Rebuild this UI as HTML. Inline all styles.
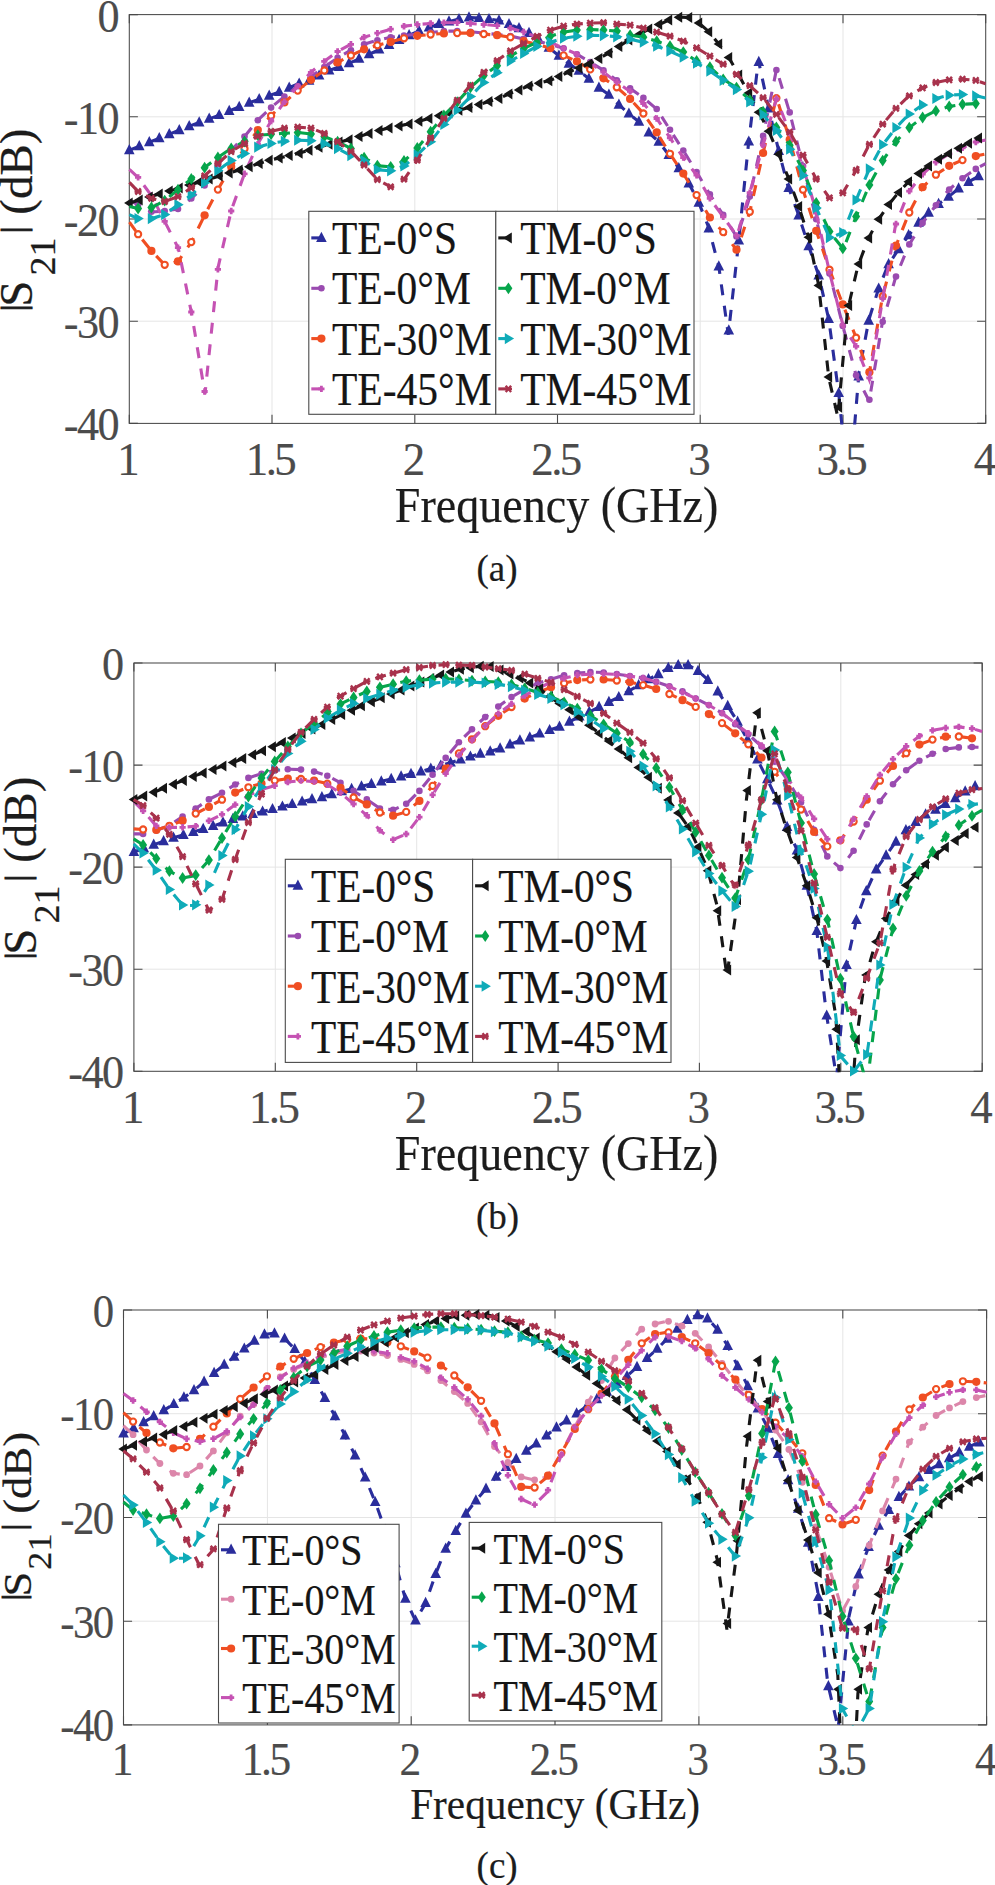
<!DOCTYPE html>
<html><head><meta charset="utf-8"><title>S21 plots</title>
<style>html,body{margin:0;padding:0;background:#fff}svg{display:block}text{font-family:"Liberation Serif",serif}</style></head><body>
<svg width="995" height="1885" viewBox="0 0 995 1885">
<rect width="995" height="1885" fill="#fff"/>
<g id="plot-a">
<defs><clipPath id="clipa"><rect x="128.1" y="13.6" width="858.8" height="410.8"/></clipPath></defs>
<path d="M272 14.6V423.4M414.8 14.6V423.4M557.5 14.6V423.4M700.2 14.6V423.4M843 14.6V423.4M129.3 116.8H985.7M129.3 219H985.7M129.3 321.2H985.7" stroke="#e5e5e5" stroke-width="1" fill="none"/>
<path d="M129.3 423.4v-8.6M129.3 14.6v8.6M272 423.4v-8.6M272 14.6v8.6M414.8 423.4v-8.6M414.8 14.6v8.6M557.5 423.4v-8.6M557.5 14.6v8.6M700.2 423.4v-8.6M700.2 14.6v8.6M843 423.4v-8.6M843 14.6v8.6M985.7 423.4v-8.6M985.7 14.6v8.6M129.3 14.6h8.6M985.7 14.6h-8.6M129.3 116.8h8.6M985.7 116.8h-8.6M129.3 219h8.6M985.7 219h-8.6M129.3 321.2h8.6M985.7 321.2h-8.6M129.3 423.4h8.6M985.7 423.4h-8.6" stroke="#4a4a4a" stroke-width="1.1" fill="none"/>
<rect x="129.3" y="14.6" width="856.4" height="408.8" fill="none" stroke="#4a4a4a" stroke-width="1.05"/>
<path clip-path="url(#clipa)" d="M129.4 150.3L158.3 138.6L188.4 126.5L218 115.6L248.7 103L278.3 92.4L297.9 84L310 80.4L328.9 70.5L349.2 63.3L369.3 54.2L388.4 45.2L404.5 37.2L418.6 31.1L438.7 24.1L458.8 19.1L468.8 17.5L478.9 18.1L488.9 19.1L499 20.5L509 24.1L519 28.3L529.2 33.1L539.2 40.2L548.3 47.2L558.3 55.3L568.4 63.3L578.4 70.3L588.5 78.4L598.5 87.4L608.6 94.4L618.6 104.5L628.7 113.5L638.7 121.6L648.8 132.6L658.8 141.7L667.9 153.7L677.9 166.8L688 181.9L698.1 201L708.2 226.2L718.8 266.4L728.3 334.7L738.3 245.3L748.4 144.7L758.4 60.3L768.5 107.5L778.5 150L787.6 184.9L797.6 212.1L807.7 243.2L818.7 275.4L828.8 319.6L838.8 394L848.8 495L859 372.5L868.8 320L878.4 289.2L888 265.2L897.8 250.4L908.5 235.5L918.3 223L928.6 212.7L938.9 203.6L948.7 196.7L958.3 188.7L968.5 181.9L978.8 176.2" fill="none" stroke="#2a2d9c" stroke-width="3.1" stroke-dasharray="11 10.6"/>
<path d="M124 154.3L134.6 154.3L129.3 144.1Z" fill="#2a2d9c"/>
<path d="M134 150.3L144.6 150.3L139.3 140.1Z" fill="#2a2d9c"/>
<path d="M144 146.3L154.6 146.3L149.3 136.1Z" fill="#2a2d9c"/>
<path d="M154 142.2L164.6 142.2L159.3 132Z" fill="#2a2d9c"/>
<path d="M164 138.2L174.6 138.2L169.3 128Z" fill="#2a2d9c"/>
<path d="M174 134.2L184.6 134.2L179.3 124Z" fill="#2a2d9c"/>
<path d="M183.9 130.2L194.5 130.2L189.2 120Z" fill="#2a2d9c"/>
<path d="M193.9 126.5L204.5 126.5L199.2 116.3Z" fill="#2a2d9c"/>
<path d="M203.9 122.8L214.5 122.8L209.2 112.6Z" fill="#2a2d9c"/>
<path d="M213.9 119.1L224.5 119.1L219.2 108.9Z" fill="#2a2d9c"/>
<path d="M223.9 115L234.5 115L229.2 104.8Z" fill="#2a2d9c"/>
<path d="M233.9 110.9L244.5 110.9L239.2 100.7Z" fill="#2a2d9c"/>
<path d="M243.9 106.8L254.5 106.8L249.2 96.6Z" fill="#2a2d9c"/>
<path d="M253.9 103.2L264.5 103.2L259.2 93Z" fill="#2a2d9c"/>
<path d="M263.9 99.7L274.5 99.7L269.2 89.5Z" fill="#2a2d9c"/>
<path d="M273.9 96L284.5 96L279.2 85.8Z" fill="#2a2d9c"/>
<path d="M283.9 91.7L294.5 91.7L289.2 81.5Z" fill="#2a2d9c"/>
<path d="M293.9 87.6L304.5 87.6L299.2 77.4Z" fill="#2a2d9c"/>
<path d="M303.8 84.7L314.4 84.7L309.1 74.5Z" fill="#2a2d9c"/>
<path d="M313.8 79.6L324.4 79.6L319.1 69.4Z" fill="#2a2d9c"/>
<path d="M323.8 74.4L334.4 74.4L329.1 64.2Z" fill="#2a2d9c"/>
<path d="M333.8 70.9L344.4 70.9L339.1 60.7Z" fill="#2a2d9c"/>
<path d="M343.8 67.3L354.4 67.3L349.1 57.1Z" fill="#2a2d9c"/>
<path d="M353.8 62.8L364.4 62.8L359.1 52.6Z" fill="#2a2d9c"/>
<path d="M363.8 58.3L374.4 58.3L369.1 48.1Z" fill="#2a2d9c"/>
<path d="M373.8 53.6L384.4 53.6L379.1 43.4Z" fill="#2a2d9c"/>
<path d="M383.8 48.9L394.4 48.9L389.1 38.7Z" fill="#2a2d9c"/>
<path d="M393.8 43.9L404.4 43.9L399.1 33.7Z" fill="#2a2d9c"/>
<path d="M403.8 39.2L414.4 39.2L409.1 29Z" fill="#2a2d9c"/>
<path d="M413.7 34.9L424.3 34.9L419 24.7Z" fill="#2a2d9c"/>
<path d="M423.7 31.5L434.3 31.5L429 21.3Z" fill="#2a2d9c"/>
<path d="M433.7 28L444.3 28L439 17.8Z" fill="#2a2d9c"/>
<path d="M443.7 25.5L454.3 25.5L449 15.3Z" fill="#2a2d9c"/>
<path d="M453.7 23.1L464.3 23.1L459 12.9Z" fill="#2a2d9c"/>
<path d="M463.7 21.5L474.3 21.5L469 11.3Z" fill="#2a2d9c"/>
<path d="M473.7 22.1L484.3 22.1L479 11.9Z" fill="#2a2d9c"/>
<path d="M483.7 23.1L494.3 23.1L489 12.9Z" fill="#2a2d9c"/>
<path d="M493.7 24.5L504.3 24.5L499 14.3Z" fill="#2a2d9c"/>
<path d="M503.7 28.1L514.3 28.1L509 17.9Z" fill="#2a2d9c"/>
<path d="M513.7 32.3L524.3 32.3L519 22.1Z" fill="#2a2d9c"/>
<path d="M523.7 37L534.3 37L529 26.8Z" fill="#2a2d9c"/>
<path d="M533.6 44L544.2 44L538.9 33.8Z" fill="#2a2d9c"/>
<path d="M543.6 51.7L554.2 51.7L548.9 41.5Z" fill="#2a2d9c"/>
<path d="M553.6 59.8L564.2 59.8L558.9 49.6Z" fill="#2a2d9c"/>
<path d="M563.6 67.7L574.2 67.7L568.9 57.5Z" fill="#2a2d9c"/>
<path d="M573.6 74.7L584.2 74.7L578.9 64.5Z" fill="#2a2d9c"/>
<path d="M583.6 82.8L594.2 82.8L588.9 72.6Z" fill="#2a2d9c"/>
<path d="M593.6 91.7L604.2 91.7L598.9 81.5Z" fill="#2a2d9c"/>
<path d="M603.6 98.7L614.2 98.7L608.9 88.5Z" fill="#2a2d9c"/>
<path d="M613.6 108.7L624.2 108.7L618.9 98.5Z" fill="#2a2d9c"/>
<path d="M623.6 117.6L634.2 117.6L628.9 107.4Z" fill="#2a2d9c"/>
<path d="M633.6 125.8L644.2 125.8L638.9 115.6Z" fill="#2a2d9c"/>
<path d="M643.5 136.6L654.1 136.6L648.8 126.4Z" fill="#2a2d9c"/>
<path d="M653.5 145.8L664.1 145.8L658.8 135.6Z" fill="#2a2d9c"/>
<path d="M663.5 158.9L674.1 158.9L668.8 148.7Z" fill="#2a2d9c"/>
<path d="M673.5 172.2L684.1 172.2L678.8 162Z" fill="#2a2d9c"/>
<path d="M683.5 187.4L694.1 187.4L688.8 177.2Z" fill="#2a2d9c"/>
<path d="M693.5 206.8L704.1 206.8L698.8 196.6Z" fill="#2a2d9c"/>
<path d="M703.5 232.5L714.1 232.5L708.8 222.3Z" fill="#2a2d9c"/>
<path d="M713.5 270.4L724.1 270.4L718.8 260.2Z" fill="#2a2d9c"/>
<path d="M723.5 334.4L734.1 334.4L728.8 324.2Z" fill="#2a2d9c"/>
<path d="M733.5 244.6L744.1 244.6L738.8 234.4Z" fill="#2a2d9c"/>
<path d="M743.5 145.6L754.1 145.6L748.8 135.4Z" fill="#2a2d9c"/>
<path d="M753.5 66L764.1 66L758.8 55.8Z" fill="#2a2d9c"/>
<path d="M763.4 112.5L774 112.5L768.7 102.3Z" fill="#2a2d9c"/>
<path d="M773.4 154.9L784 154.9L778.7 144.7Z" fill="#2a2d9c"/>
<path d="M783.4 192L794 192L788.7 181.8Z" fill="#2a2d9c"/>
<path d="M793.4 219.5L804 219.5L798.7 209.3Z" fill="#2a2d9c"/>
<path d="M803.4 250.2L814 250.2L808.7 240Z" fill="#2a2d9c"/>
<path d="M813.4 279.4L824 279.4L818.7 269.2Z" fill="#2a2d9c"/>
<path d="M823.4 323.1L834 323.1L828.7 312.9Z" fill="#2a2d9c"/>
<path d="M833.4 397.1L844 397.1L838.7 386.9Z" fill="#2a2d9c"/>
<path d="M853.4 380.5L864 380.5L858.7 370.3Z" fill="#2a2d9c"/>
<path d="M863.4 324.8L874 324.8L868.7 314.6Z" fill="#2a2d9c"/>
<path d="M873.4 292.6L884 292.6L878.7 282.4Z" fill="#2a2d9c"/>
<path d="M883.3 268.2L893.9 268.2L888.6 258Z" fill="#2a2d9c"/>
<path d="M893.3 253.2L903.9 253.2L898.6 243Z" fill="#2a2d9c"/>
<path d="M903.3 239.3L913.9 239.3L908.6 229.1Z" fill="#2a2d9c"/>
<path d="M913.3 226.7L923.9 226.7L918.6 216.5Z" fill="#2a2d9c"/>
<path d="M923.3 216.7L933.9 216.7L928.6 206.5Z" fill="#2a2d9c"/>
<path d="M933.3 207.9L943.9 207.9L938.6 197.7Z" fill="#2a2d9c"/>
<path d="M943.3 200.8L953.9 200.8L948.6 190.6Z" fill="#2a2d9c"/>
<path d="M953.3 192.5L963.9 192.5L958.6 182.3Z" fill="#2a2d9c"/>
<path d="M963.3 185.9L973.9 185.9L968.6 175.7Z" fill="#2a2d9c"/>
<path d="M973.3 180.3L983.9 180.3L978.6 170.1Z" fill="#2a2d9c"/>
<path clip-path="url(#clipa)" d="M129.4 200L138 205L151.7 212L164.8 211L178.3 209L191.9 198L205 185L218.1 164L231.5 150L245 136L258 120L271.7 107L285 96L298 86L312 76L325 66.5L338.2 57.5L351 50.2L364 44.2L377.8 40.2L391 37.2L404.5 35.5L417.6 34.2L430.7 32.5L443.7 31.1L457.8 31.1L470.5 31.7L483.9 33.1L497.6 34.5L510 36L524 39L537 41L550.3 44.5L563.4 48.2L576.8 54.2L590 62L603.6 70.3L617 80.4L630.1 88.4L643.4 97.9L656.8 109.1L669.9 129.6L683.4 150.7L697.1 172.8L710.2 195L723.3 215.1L736.9 237.2L749.4 198L762.9 136.7L776.5 69.3L790 113.5L802.7 165L816.7 221.1L829.8 274.4L843.3 327.7L856.3 375.9L869.2 401.1L882.2 323.5L895.5 277.8L908.5 245.8L921.7 224.1L935.4 205.9L948.7 189.9L962.1 178.5L975.8 168.9L985.6 163.6" fill="none" stroke="#9a4bb0" stroke-width="3.1" stroke-dasharray="11 10.6"/>
<circle cx="138.1" cy="205.1" r="3.3" fill="#9a4bb0"/>
<circle cx="151.4" cy="211.8" r="3.3" fill="#9a4bb0"/>
<circle cx="164.7" cy="211" r="3.3" fill="#9a4bb0"/>
<circle cx="178" cy="209" r="3.3" fill="#9a4bb0"/>
<circle cx="191.3" cy="198.5" r="3.3" fill="#9a4bb0"/>
<circle cx="204.6" cy="185.4" r="3.3" fill="#9a4bb0"/>
<circle cx="217.9" cy="164.3" r="3.3" fill="#9a4bb0"/>
<circle cx="231.2" cy="150.3" r="3.3" fill="#9a4bb0"/>
<circle cx="244.5" cy="136.5" r="3.3" fill="#9a4bb0"/>
<circle cx="257.8" cy="120.3" r="3.3" fill="#9a4bb0"/>
<circle cx="271.1" cy="107.6" r="3.3" fill="#9a4bb0"/>
<circle cx="284.4" cy="96.5" r="3.3" fill="#9a4bb0"/>
<circle cx="297.7" cy="86.3" r="3.3" fill="#9a4bb0"/>
<circle cx="311" cy="76.7" r="3.3" fill="#9a4bb0"/>
<circle cx="324.3" cy="67" r="3.3" fill="#9a4bb0"/>
<circle cx="337.6" cy="57.9" r="3.3" fill="#9a4bb0"/>
<circle cx="350.9" cy="50.3" r="3.3" fill="#9a4bb0"/>
<circle cx="364.1" cy="44.2" r="3.3" fill="#9a4bb0"/>
<circle cx="377.4" cy="40.3" r="3.3" fill="#9a4bb0"/>
<circle cx="390.7" cy="37.3" r="3.3" fill="#9a4bb0"/>
<circle cx="404" cy="35.6" r="3.3" fill="#9a4bb0"/>
<circle cx="417.3" cy="34.2" r="3.3" fill="#9a4bb0"/>
<circle cx="430.6" cy="32.5" r="3.3" fill="#9a4bb0"/>
<circle cx="443.9" cy="31.1" r="3.3" fill="#9a4bb0"/>
<circle cx="457.2" cy="31.1" r="3.3" fill="#9a4bb0"/>
<circle cx="470.5" cy="31.7" r="3.3" fill="#9a4bb0"/>
<circle cx="483.8" cy="33.1" r="3.3" fill="#9a4bb0"/>
<circle cx="497.1" cy="34.5" r="3.3" fill="#9a4bb0"/>
<circle cx="510.4" cy="36.1" r="3.3" fill="#9a4bb0"/>
<circle cx="523.7" cy="38.9" r="3.3" fill="#9a4bb0"/>
<circle cx="537" cy="41" r="3.3" fill="#9a4bb0"/>
<circle cx="550.3" cy="44.5" r="3.3" fill="#9a4bb0"/>
<circle cx="563.6" cy="48.3" r="3.3" fill="#9a4bb0"/>
<circle cx="576.9" cy="54.3" r="3.3" fill="#9a4bb0"/>
<circle cx="590.2" cy="62.1" r="3.3" fill="#9a4bb0"/>
<circle cx="603.5" cy="70.2" r="3.3" fill="#9a4bb0"/>
<circle cx="616.8" cy="80.2" r="3.3" fill="#9a4bb0"/>
<circle cx="630.1" cy="88.4" r="3.3" fill="#9a4bb0"/>
<circle cx="643.4" cy="97.9" r="3.3" fill="#9a4bb0"/>
<circle cx="656.7" cy="109" r="3.3" fill="#9a4bb0"/>
<circle cx="670" cy="129.7" r="3.3" fill="#9a4bb0"/>
<circle cx="683.3" cy="150.5" r="3.3" fill="#9a4bb0"/>
<circle cx="696.6" cy="172" r="3.3" fill="#9a4bb0"/>
<circle cx="709.9" cy="194.4" r="3.3" fill="#9a4bb0"/>
<circle cx="723.2" cy="214.9" r="3.3" fill="#9a4bb0"/>
<circle cx="736.5" cy="236.5" r="3.3" fill="#9a4bb0"/>
<circle cx="749.8" cy="196.4" r="3.3" fill="#9a4bb0"/>
<circle cx="763.1" cy="135.9" r="3.3" fill="#9a4bb0"/>
<circle cx="776.4" cy="70" r="3.3" fill="#9a4bb0"/>
<circle cx="789.7" cy="112.4" r="3.3" fill="#9a4bb0"/>
<circle cx="803" cy="166" r="3.3" fill="#9a4bb0"/>
<circle cx="816.2" cy="219.3" r="3.3" fill="#9a4bb0"/>
<circle cx="829.5" cy="273.4" r="3.3" fill="#9a4bb0"/>
<circle cx="842.8" cy="325.9" r="3.3" fill="#9a4bb0"/>
<circle cx="856.1" cy="375.3" r="3.3" fill="#9a4bb0"/>
<circle cx="869.4" cy="399.7" r="3.3" fill="#9a4bb0"/>
<circle cx="882.7" cy="321.7" r="3.3" fill="#9a4bb0"/>
<circle cx="896" cy="276.5" r="3.3" fill="#9a4bb0"/>
<circle cx="909.3" cy="244.4" r="3.3" fill="#9a4bb0"/>
<circle cx="922.6" cy="222.9" r="3.3" fill="#9a4bb0"/>
<circle cx="935.9" cy="205.3" r="3.3" fill="#9a4bb0"/>
<circle cx="949.2" cy="189.5" r="3.3" fill="#9a4bb0"/>
<circle cx="962.5" cy="178.2" r="3.3" fill="#9a4bb0"/>
<circle cx="975.8" cy="168.9" r="3.3" fill="#9a4bb0"/>
<path clip-path="url(#clipa)" d="M129.4 222.1L138.1 234.2L151.7 251.3L164.8 264.9L178.3 261.3L191.9 241.2L205 214.5L218.5 188.4L231.5 166.3L245.6 147.2L257.7 130.2L271.7 115.1L284.8 102L299 89.4L311.5 79.4L324.5 70.3L337.8 62.3L351.3 55.3L364.3 49.2L377.8 45.2L391 41.8L404.5 38.2L417.6 35.8L430.7 34.5L443.7 33.5L457.8 33.1L470.5 33.1L483.9 34.1L497.6 35.2L510.1 37.2L524.2 41.2L537.2 44.5L550.3 48.2L563.4 55.3L576.8 61.3L590.1 69.3L603.6 78.4L617 87.4L630.1 98.9L643.4 113.5L656.8 132.6L669.9 153.7L683.4 173.8L697.1 196L710.2 218.1L723.3 232.2L736.9 250.3L750 211.1L762.9 153.7L776.5 97.5L790 140.7L802.7 188.9L816.7 232.2L829.8 270.4L843.3 305.6L856.3 338.1L869.2 373.6L882.2 298.3L895.5 246.9L909.2 212.7L922.2 187.6L935.4 175L949.1 165.9L962.1 160.2L975.8 156.1L985.6 154" fill="none" stroke="#f04e22" stroke-width="3.1" stroke-dasharray="11 10.6"/>
<circle cx="138.1" cy="234.2" r="3.1" fill="#fff" stroke="#f04e22" stroke-width="2.1"/>
<circle cx="151.4" cy="250.9" r="4.1" fill="#f04e22"/>
<circle cx="164.7" cy="264.8" r="3.1" fill="#fff" stroke="#f04e22" stroke-width="2.1"/>
<circle cx="178" cy="261.4" r="4.1" fill="#f04e22"/>
<circle cx="191.3" cy="242.1" r="3.1" fill="#fff" stroke="#f04e22" stroke-width="2.1"/>
<circle cx="204.6" cy="215.3" r="4.1" fill="#f04e22"/>
<circle cx="217.9" cy="189.6" r="3.1" fill="#fff" stroke="#f04e22" stroke-width="2.1"/>
<circle cx="231.2" cy="166.8" r="4.1" fill="#f04e22"/>
<circle cx="244.5" cy="148.7" r="3.1" fill="#fff" stroke="#f04e22" stroke-width="2.1"/>
<circle cx="257.8" cy="130.1" r="4.1" fill="#f04e22"/>
<circle cx="271.1" cy="115.8" r="3.1" fill="#fff" stroke="#f04e22" stroke-width="2.1"/>
<circle cx="284.4" cy="102.4" r="4.1" fill="#f04e22"/>
<circle cx="297.7" cy="90.6" r="3.1" fill="#fff" stroke="#f04e22" stroke-width="2.1"/>
<circle cx="311" cy="79.8" r="4.1" fill="#f04e22"/>
<circle cx="324.3" cy="70.5" r="3.1" fill="#fff" stroke="#f04e22" stroke-width="2.1"/>
<circle cx="337.6" cy="62.4" r="4.1" fill="#f04e22"/>
<circle cx="350.9" cy="55.5" r="3.1" fill="#fff" stroke="#f04e22" stroke-width="2.1"/>
<circle cx="364.1" cy="49.3" r="4.1" fill="#f04e22"/>
<circle cx="377.4" cy="45.3" r="3.1" fill="#fff" stroke="#f04e22" stroke-width="2.1"/>
<circle cx="390.7" cy="41.9" r="4.1" fill="#f04e22"/>
<circle cx="404" cy="38.3" r="3.1" fill="#fff" stroke="#f04e22" stroke-width="2.1"/>
<circle cx="417.3" cy="35.8" r="4.1" fill="#f04e22"/>
<circle cx="430.6" cy="34.5" r="3.1" fill="#fff" stroke="#f04e22" stroke-width="2.1"/>
<circle cx="443.9" cy="33.5" r="4.1" fill="#f04e22"/>
<circle cx="457.2" cy="33.1" r="3.1" fill="#fff" stroke="#f04e22" stroke-width="2.1"/>
<circle cx="470.5" cy="33.1" r="4.1" fill="#f04e22"/>
<circle cx="483.8" cy="34.1" r="3.1" fill="#fff" stroke="#f04e22" stroke-width="2.1"/>
<circle cx="497.1" cy="35.2" r="4.1" fill="#f04e22"/>
<circle cx="510.4" cy="37.3" r="3.1" fill="#fff" stroke="#f04e22" stroke-width="2.1"/>
<circle cx="523.7" cy="41.1" r="4.1" fill="#f04e22"/>
<circle cx="537" cy="44.5" r="3.1" fill="#fff" stroke="#f04e22" stroke-width="2.1"/>
<circle cx="550.3" cy="48.2" r="4.1" fill="#f04e22"/>
<circle cx="563.6" cy="55.4" r="3.1" fill="#fff" stroke="#f04e22" stroke-width="2.1"/>
<circle cx="576.9" cy="61.4" r="4.1" fill="#f04e22"/>
<circle cx="590.2" cy="69.4" r="3.1" fill="#fff" stroke="#f04e22" stroke-width="2.1"/>
<circle cx="603.5" cy="78.3" r="4.1" fill="#f04e22"/>
<circle cx="616.8" cy="87.3" r="3.1" fill="#fff" stroke="#f04e22" stroke-width="2.1"/>
<circle cx="630.1" cy="98.9" r="4.1" fill="#f04e22"/>
<circle cx="643.4" cy="113.5" r="3.1" fill="#fff" stroke="#f04e22" stroke-width="2.1"/>
<circle cx="656.7" cy="132.4" r="4.1" fill="#f04e22"/>
<circle cx="670" cy="153.8" r="3.1" fill="#fff" stroke="#f04e22" stroke-width="2.1"/>
<circle cx="683.3" cy="173.6" r="4.1" fill="#f04e22"/>
<circle cx="696.6" cy="195.1" r="3.1" fill="#fff" stroke="#f04e22" stroke-width="2.1"/>
<circle cx="709.9" cy="217.5" r="4.1" fill="#f04e22"/>
<circle cx="723.2" cy="232.1" r="3.1" fill="#fff" stroke="#f04e22" stroke-width="2.1"/>
<circle cx="736.5" cy="249.7" r="4.1" fill="#f04e22"/>
<circle cx="749.8" cy="211.8" r="3.1" fill="#fff" stroke="#f04e22" stroke-width="2.1"/>
<circle cx="763.1" cy="153" r="4.1" fill="#f04e22"/>
<circle cx="776.4" cy="98.1" r="3.1" fill="#fff" stroke="#f04e22" stroke-width="2.1"/>
<circle cx="789.7" cy="139.6" r="4.1" fill="#f04e22"/>
<circle cx="803" cy="189.7" r="3.1" fill="#fff" stroke="#f04e22" stroke-width="2.1"/>
<circle cx="816.2" cy="230.8" r="4.1" fill="#f04e22"/>
<circle cx="829.5" cy="269.7" r="3.1" fill="#fff" stroke="#f04e22" stroke-width="2.1"/>
<circle cx="842.8" cy="304.4" r="4.1" fill="#f04e22"/>
<circle cx="856.1" cy="337.7" r="3.1" fill="#fff" stroke="#f04e22" stroke-width="2.1"/>
<circle cx="869.4" cy="372.2" r="4.1" fill="#f04e22"/>
<circle cx="882.7" cy="296.2" r="3.1" fill="#fff" stroke="#f04e22" stroke-width="2.1"/>
<circle cx="896" cy="245.6" r="4.1" fill="#f04e22"/>
<circle cx="909.3" cy="212.5" r="3.1" fill="#fff" stroke="#f04e22" stroke-width="2.1"/>
<circle cx="922.6" cy="187.2" r="4.1" fill="#f04e22"/>
<circle cx="935.9" cy="174.7" r="3.1" fill="#fff" stroke="#f04e22" stroke-width="2.1"/>
<circle cx="949.2" cy="165.8" r="4.1" fill="#f04e22"/>
<circle cx="962.5" cy="160.1" r="3.1" fill="#fff" stroke="#f04e22" stroke-width="2.1"/>
<circle cx="975.8" cy="156.1" r="4.1" fill="#f04e22"/>
<path clip-path="url(#clipa)" d="M129.4 169.3L138.1 177.4L151.7 196L165 222L178.3 248.2L191.9 315L205 394L218.1 267.3L231.5 209.6L245 172.4L258.3 143L271.7 120L285 101L298 86L311.4 71.9L325 60.8L338 51.2L351 44.2L364 37.2L377.8 33.1L391 29.1L404.5 26.1L417.6 24.5L430.7 23.5L443.7 22.7L457.8 22.7L470.5 23.5L483.9 24.5L497.6 25.7L510 28L524 32L537.2 37.2L550.3 42.2L563.4 48.2L576.8 54.2L590 63L603.6 72.3L617 82.4L630.1 91.4L643.4 103.5L656.8 118.6L669.9 137.7L683.4 157.8L697.1 175.9L710.2 199L723.3 217L736.9 236L749.4 194L762.9 145.7L776.5 98.5L790 133.6L802.7 165.8L814.7 206L829.8 273.4L843.3 326.7L856 346L869.2 379.3L882.2 301.7L895.5 225.3L908.5 192.2L921.7 175L935.4 162.5L949 154L962 148L975.8 142L985.6 140" fill="none" stroke="#c552b3" stroke-width="3.1" stroke-dasharray="11 10.6"/>
<path d="M135 177.4H141.2M138.1 174.2V180.6" stroke="#c552b3" stroke-width="2.8" fill="none"/>
<path d="M148.3 195.6H154.5M151.4 192.4V198.8" stroke="#c552b3" stroke-width="2.8" fill="none"/>
<path d="M161.6 221.4H167.8M164.7 218.2V224.6" stroke="#c552b3" stroke-width="2.8" fill="none"/>
<path d="M174.9 247.6H181.1M178 244.4V250.8" stroke="#c552b3" stroke-width="2.8" fill="none"/>
<path d="M188.2 312H194.4M191.3 308.8V315.2" stroke="#c552b3" stroke-width="2.8" fill="none"/>
<path d="M201.5 391.5H207.7M204.6 388.3V394.7" stroke="#c552b3" stroke-width="2.8" fill="none"/>
<path d="M214.8 269.4H221M217.9 266.2V272.6" stroke="#c552b3" stroke-width="2.8" fill="none"/>
<path d="M228.1 211H234.3M231.2 207.8V214.2" stroke="#c552b3" stroke-width="2.8" fill="none"/>
<path d="M241.4 173.8H247.6M244.5 170.6V177" stroke="#c552b3" stroke-width="2.8" fill="none"/>
<path d="M254.7 144.2H260.9M257.8 141V147.4" stroke="#c552b3" stroke-width="2.8" fill="none"/>
<path d="M268 121.1H274.2M271.1 117.9V124.3" stroke="#c552b3" stroke-width="2.8" fill="none"/>
<path d="M281.3 101.9H287.5M284.4 98.7V105.1" stroke="#c552b3" stroke-width="2.8" fill="none"/>
<path d="M294.6 86.4H300.8M297.7 83.2V89.6" stroke="#c552b3" stroke-width="2.8" fill="none"/>
<path d="M307.9 72.4H314.1M311 69.2V75.6" stroke="#c552b3" stroke-width="2.8" fill="none"/>
<path d="M321.2 61.4H327.4M324.3 58.2V64.6" stroke="#c552b3" stroke-width="2.8" fill="none"/>
<path d="M334.5 51.5H340.7M337.6 48.3V54.7" stroke="#c552b3" stroke-width="2.8" fill="none"/>
<path d="M347.8 44.3H354M350.9 41.1V47.5" stroke="#c552b3" stroke-width="2.8" fill="none"/>
<path d="M361 37.2H367.2M364.1 34V40.4" stroke="#c552b3" stroke-width="2.8" fill="none"/>
<path d="M374.3 33.2H380.5M377.4 30V36.4" stroke="#c552b3" stroke-width="2.8" fill="none"/>
<path d="M387.6 29.2H393.8M390.7 26V32.4" stroke="#c552b3" stroke-width="2.8" fill="none"/>
<path d="M400.9 26.2H407.1M404 23V29.4" stroke="#c552b3" stroke-width="2.8" fill="none"/>
<path d="M414.2 24.5H420.4M417.3 21.3V27.7" stroke="#c552b3" stroke-width="2.8" fill="none"/>
<path d="M427.5 23.5H433.7M430.6 20.3V26.7" stroke="#c552b3" stroke-width="2.8" fill="none"/>
<path d="M440.8 22.7H447M443.9 19.5V25.9" stroke="#c552b3" stroke-width="2.8" fill="none"/>
<path d="M454.1 22.7H460.3M457.2 19.5V25.9" stroke="#c552b3" stroke-width="2.8" fill="none"/>
<path d="M467.4 23.5H473.6M470.5 20.3V26.7" stroke="#c552b3" stroke-width="2.8" fill="none"/>
<path d="M480.7 24.5H486.9M483.8 21.3V27.7" stroke="#c552b3" stroke-width="2.8" fill="none"/>
<path d="M494 25.7H500.2M497.1 22.5V28.9" stroke="#c552b3" stroke-width="2.8" fill="none"/>
<path d="M507.3 28.1H513.5M510.4 24.9V31.3" stroke="#c552b3" stroke-width="2.8" fill="none"/>
<path d="M520.6 31.9H526.8M523.7 28.7V35.1" stroke="#c552b3" stroke-width="2.8" fill="none"/>
<path d="M533.9 37.1H540.1M537 33.9V40.3" stroke="#c552b3" stroke-width="2.8" fill="none"/>
<path d="M547.2 42.2H553.4M550.3 39V45.4" stroke="#c552b3" stroke-width="2.8" fill="none"/>
<path d="M560.5 48.3H566.7M563.6 45.1V51.5" stroke="#c552b3" stroke-width="2.8" fill="none"/>
<path d="M573.8 54.3H580M576.9 51.1V57.5" stroke="#c552b3" stroke-width="2.8" fill="none"/>
<path d="M587.1 63.1H593.3M590.2 59.9V66.3" stroke="#c552b3" stroke-width="2.8" fill="none"/>
<path d="M600.4 72.2H606.6M603.5 69V75.4" stroke="#c552b3" stroke-width="2.8" fill="none"/>
<path d="M613.7 82.2H619.9M616.8 79V85.4" stroke="#c552b3" stroke-width="2.8" fill="none"/>
<path d="M627 91.4H633.2M630.1 88.2V94.6" stroke="#c552b3" stroke-width="2.8" fill="none"/>
<path d="M640.3 103.5H646.5M643.4 100.3V106.7" stroke="#c552b3" stroke-width="2.8" fill="none"/>
<path d="M653.6 118.5H659.8M656.7 115.3V121.7" stroke="#c552b3" stroke-width="2.8" fill="none"/>
<path d="M666.9 137.8H673.1M670 134.6V141" stroke="#c552b3" stroke-width="2.8" fill="none"/>
<path d="M680.2 157.6H686.4M683.3 154.4V160.8" stroke="#c552b3" stroke-width="2.8" fill="none"/>
<path d="M693.5 175.2H699.7M696.6 172V178.4" stroke="#c552b3" stroke-width="2.8" fill="none"/>
<path d="M706.8 198.4H713M709.9 195.2V201.6" stroke="#c552b3" stroke-width="2.8" fill="none"/>
<path d="M720.1 216.8H726.3M723.2 213.6V220" stroke="#c552b3" stroke-width="2.8" fill="none"/>
<path d="M733.4 235.4H739.6M736.5 232.2V238.6" stroke="#c552b3" stroke-width="2.8" fill="none"/>
<path d="M746.7 192.7H752.9M749.8 189.5V195.9" stroke="#c552b3" stroke-width="2.8" fill="none"/>
<path d="M760 145.1H766.2M763.1 141.9V148.3" stroke="#c552b3" stroke-width="2.8" fill="none"/>
<path d="M773.3 99H779.5M776.4 95.8V102.2" stroke="#c552b3" stroke-width="2.8" fill="none"/>
<path d="M786.6 132.7H792.8M789.7 129.5V135.9" stroke="#c552b3" stroke-width="2.8" fill="none"/>
<path d="M799.9 166.6H806.1M803 163.4V169.8" stroke="#c552b3" stroke-width="2.8" fill="none"/>
<path d="M813.1 212.9H819.3M816.2 209.7V216.1" stroke="#c552b3" stroke-width="2.8" fill="none"/>
<path d="M826.4 272.3H832.6M829.5 269.1V275.5" stroke="#c552b3" stroke-width="2.8" fill="none"/>
<path d="M839.7 324.9H845.9M842.8 321.7V328.1" stroke="#c552b3" stroke-width="2.8" fill="none"/>
<path d="M853 346.3H859.2M856.1 343.1V349.5" stroke="#c552b3" stroke-width="2.8" fill="none"/>
<path d="M866.3 377.9H872.5M869.4 374.7V381.1" stroke="#c552b3" stroke-width="2.8" fill="none"/>
<path d="M879.6 298.6H885.8M882.7 295.4V301.8" stroke="#c552b3" stroke-width="2.8" fill="none"/>
<path d="M892.9 224H899.1M896 220.8V227.2" stroke="#c552b3" stroke-width="2.8" fill="none"/>
<path d="M906.2 191.1H912.4M909.3 187.9V194.3" stroke="#c552b3" stroke-width="2.8" fill="none"/>
<path d="M919.5 174.2H925.7M922.6 171V177.4" stroke="#c552b3" stroke-width="2.8" fill="none"/>
<path d="M932.8 162.2H939M935.9 159V165.4" stroke="#c552b3" stroke-width="2.8" fill="none"/>
<path d="M946.1 153.9H952.3M949.2 150.7V157.1" stroke="#c552b3" stroke-width="2.8" fill="none"/>
<path d="M959.4 147.8H965.6M962.5 144.6V151" stroke="#c552b3" stroke-width="2.8" fill="none"/>
<path d="M972.7 142H978.9M975.8 138.8V145.2" stroke="#c552b3" stroke-width="2.8" fill="none"/>
<path clip-path="url(#clipa)" d="M129.3 203.1L158.3 194.3L188 185.5L218 176.5L239.1 169.9L269.2 160.3L298.8 153.3L328.9 144.3L348.2 140.1L368.3 133.6L388.4 128L408.5 124L428.6 118.6L448.7 113.1L468.8 107.5L489 101.5L499 98.5L510.1 93.4L530.2 85.4L550.3 80.4L570.4 71.3L590.5 63.3L608.6 53.2L628.7 40.2L648.8 29.1L668.9 20.1L679 17.1L689.1 17.5L699.1 23.1L708.2 31.1L718.2 43.2L729.3 58.3L738.3 74.3L748.4 92.4L758.4 111.5L768.5 130.6L778.5 153.7L787.6 175.9L797.6 203L808.7 237.2L818.7 285.5L828.8 377.9L837.8 417L847.5 310.5L857.8 266.4L868.1 239L878.4 219.6L888.6 204.7L897.8 193.3L908.5 181.9L919.5 172.8L928.6 165.9L938.9 159.1L949.1 153.4L959.4 147.7L969.7 142.6L980 137.4" fill="none" stroke="#161616" stroke-width="3.1" stroke-dasharray="11 10.6"/>
<path d="M132.7 197.6L132.7 208.6L124.1 203.1Z" fill="#161616"/>
<path d="M142.7 194.6L142.7 205.6L134.1 200.1Z" fill="#161616"/>
<path d="M152.7 191.5L152.7 202.5L144.1 197Z" fill="#161616"/>
<path d="M162.7 188.5L162.7 199.5L154.1 194Z" fill="#161616"/>
<path d="M172.7 185.6L172.7 196.6L164.1 191.1Z" fill="#161616"/>
<path d="M182.7 182.6L182.7 193.6L174.1 188.1Z" fill="#161616"/>
<path d="M192.6 179.6L192.6 190.6L184 185.1Z" fill="#161616"/>
<path d="M202.6 176.6L202.6 187.6L194 182.1Z" fill="#161616"/>
<path d="M212.6 173.6L212.6 184.6L204 179.1Z" fill="#161616"/>
<path d="M222.6 170.6L222.6 181.6L214 176.1Z" fill="#161616"/>
<path d="M232.6 167.5L232.6 178.5L224 173Z" fill="#161616"/>
<path d="M242.6 164.4L242.6 175.4L234 169.9Z" fill="#161616"/>
<path d="M252.6 161.2L252.6 172.2L244 166.7Z" fill="#161616"/>
<path d="M262.6 158L262.6 169L254 163.5Z" fill="#161616"/>
<path d="M272.6 154.8L272.6 165.8L264 160.3Z" fill="#161616"/>
<path d="M282.6 152.4L282.6 163.4L274 157.9Z" fill="#161616"/>
<path d="M292.6 150.1L292.6 161.1L284 155.6Z" fill="#161616"/>
<path d="M302.6 147.7L302.6 158.7L294 153.2Z" fill="#161616"/>
<path d="M312.5 144.7L312.5 155.7L303.9 150.2Z" fill="#161616"/>
<path d="M322.5 141.7L322.5 152.7L313.9 147.2Z" fill="#161616"/>
<path d="M332.5 138.8L332.5 149.8L323.9 144.3Z" fill="#161616"/>
<path d="M342.5 136.6L342.5 147.6L333.9 142.1Z" fill="#161616"/>
<path d="M352.5 134.3L352.5 145.3L343.9 139.8Z" fill="#161616"/>
<path d="M362.5 131.1L362.5 142.1L353.9 136.6Z" fill="#161616"/>
<path d="M372.5 127.9L372.5 138.9L363.9 133.4Z" fill="#161616"/>
<path d="M382.5 125.1L382.5 136.1L373.9 130.6Z" fill="#161616"/>
<path d="M392.5 122.4L392.5 133.4L383.9 127.9Z" fill="#161616"/>
<path d="M402.5 120.4L402.5 131.4L393.9 125.9Z" fill="#161616"/>
<path d="M412.5 118.4L412.5 129.4L403.9 123.9Z" fill="#161616"/>
<path d="M422.4 115.7L422.4 126.7L413.8 121.2Z" fill="#161616"/>
<path d="M432.4 113L432.4 124L423.8 118.5Z" fill="#161616"/>
<path d="M442.4 110.2L442.4 121.2L433.8 115.7Z" fill="#161616"/>
<path d="M452.4 107.5L452.4 118.5L443.8 113Z" fill="#161616"/>
<path d="M462.4 104.7L462.4 115.7L453.8 110.2Z" fill="#161616"/>
<path d="M472.4 101.9L472.4 112.9L463.8 107.4Z" fill="#161616"/>
<path d="M482.4 99L482.4 110L473.8 104.5Z" fill="#161616"/>
<path d="M492.4 96L492.4 107L483.8 101.5Z" fill="#161616"/>
<path d="M502.4 93L502.4 104L493.8 98.5Z" fill="#161616"/>
<path d="M512.4 88.4L512.4 99.4L503.8 93.9Z" fill="#161616"/>
<path d="M522.4 84.4L522.4 95.4L513.8 89.9Z" fill="#161616"/>
<path d="M532.4 80.4L532.4 91.4L523.8 85.9Z" fill="#161616"/>
<path d="M542.3 77.7L542.3 88.7L533.7 83.2Z" fill="#161616"/>
<path d="M552.3 75.2L552.3 86.2L543.7 80.7Z" fill="#161616"/>
<path d="M562.3 71L562.3 82L553.7 76.5Z" fill="#161616"/>
<path d="M572.3 66.5L572.3 77.5L563.7 72Z" fill="#161616"/>
<path d="M582.3 62.4L582.3 73.4L573.7 67.9Z" fill="#161616"/>
<path d="M592.3 58.4L592.3 69.4L583.7 63.9Z" fill="#161616"/>
<path d="M602.3 53.1L602.3 64.1L593.7 58.6Z" fill="#161616"/>
<path d="M612.3 47.5L612.3 58.5L603.7 53Z" fill="#161616"/>
<path d="M622.3 41.1L622.3 52.1L613.7 46.6Z" fill="#161616"/>
<path d="M632.3 34.6L632.3 45.6L623.7 40.1Z" fill="#161616"/>
<path d="M642.3 29.1L642.3 40.1L633.7 34.6Z" fill="#161616"/>
<path d="M652.2 23.6L652.2 34.6L643.6 29.1Z" fill="#161616"/>
<path d="M662.2 19.1L662.2 30.1L653.6 24.6Z" fill="#161616"/>
<path d="M672.2 14.6L672.2 25.6L663.6 20.1Z" fill="#161616"/>
<path d="M682.2 11.7L682.2 22.7L673.6 17.2Z" fill="#161616"/>
<path d="M692.2 12L692.2 23L683.6 17.5Z" fill="#161616"/>
<path d="M702.2 17.4L702.2 28.4L693.6 22.9Z" fill="#161616"/>
<path d="M712.2 26.3L712.2 37.3L703.6 31.8Z" fill="#161616"/>
<path d="M722.2 38.5L722.2 49.5L713.6 44Z" fill="#161616"/>
<path d="M732.2 52.1L732.2 63.1L723.6 57.6Z" fill="#161616"/>
<path d="M742.2 69.6L742.2 80.6L733.6 75.1Z" fill="#161616"/>
<path d="M752.2 87.6L752.2 98.6L743.6 93.1Z" fill="#161616"/>
<path d="M762.2 106.7L762.2 117.7L753.6 112.2Z" fill="#161616"/>
<path d="M772.1 125.7L772.1 136.7L763.5 131.2Z" fill="#161616"/>
<path d="M782.1 148.8L782.1 159.8L773.5 154.3Z" fill="#161616"/>
<path d="M792.1 173.5L792.1 184.5L783.5 179Z" fill="#161616"/>
<path d="M802.1 200.9L802.1 211.9L793.5 206.4Z" fill="#161616"/>
<path d="M812.1 231.8L812.1 242.8L803.5 237.3Z" fill="#161616"/>
<path d="M822.1 280L822.1 291L813.5 285.5Z" fill="#161616"/>
<path d="M832.1 371.4L832.1 382.4L823.5 376.9Z" fill="#161616"/>
<path d="M842.1 401.8L842.1 412.8L833.5 407.3Z" fill="#161616"/>
<path d="M852.1 300L852.1 311L843.5 305.5Z" fill="#161616"/>
<path d="M862.1 258.6L862.1 269.6L853.5 264.1Z" fill="#161616"/>
<path d="M872.1 232.4L872.1 243.4L863.5 237.9Z" fill="#161616"/>
<path d="M882.1 213.7L882.1 224.7L873.5 219.2Z" fill="#161616"/>
<path d="M892 199.1L892 210.1L883.4 204.6Z" fill="#161616"/>
<path d="M902 186.9L902 197.9L893.4 192.4Z" fill="#161616"/>
<path d="M912 176.3L912 187.3L903.4 181.8Z" fill="#161616"/>
<path d="M922 168L922 179L913.4 173.5Z" fill="#161616"/>
<path d="M932 160.4L932 171.4L923.4 165.9Z" fill="#161616"/>
<path d="M942 153.8L942 164.8L933.4 159.3Z" fill="#161616"/>
<path d="M952 148.2L952 159.2L943.4 153.7Z" fill="#161616"/>
<path d="M962 142.7L962 153.7L953.4 148.2Z" fill="#161616"/>
<path d="M972 137.7L972 148.7L963.4 143.2Z" fill="#161616"/>
<path d="M982 132.6L982 143.6L973.4 138.1Z" fill="#161616"/>
<path clip-path="url(#clipa)" d="M129.4 206.5L138.1 208.5L151.7 207.5L164.8 200.5L178.3 189.4L191.9 178.4L205 167.3L218.1 157.3L231.5 148.2L245 141.2L257.7 135.2L271.7 134.2L284.8 133.2L297.9 132.5L311 134L324.5 136.7L337.8 141.7L351.3 148.7L364.3 157.8L377.8 165.8L391 166.8L404.5 160.8L417.6 147.7L430.7 131.6L443.7 115.6L457.8 101.5L470.5 87.4L483.9 75.4L497.6 65.3L510 56.3L524.2 48.2L537.2 42.2L550.3 36.2L563.4 32.1L576.8 30.1L590.1 29.5L603.6 30.1L617 31.1L630.1 35.2L643.4 37.2L656.8 41.2L669.9 46.2L683.4 52.2L697.1 61.3L710.2 67.3L723.3 79.4L736.3 87.4L749.4 99.5L762.9 111.5L776.5 127.6L790 145.7L802.7 169.8L816.3 203L829.8 232L843.3 249L856.3 216L869.2 185.3L882.2 161.4L895.5 142L908.5 128.3L921.7 118L935.4 111.1L948.7 106.6L962.1 104.3L975.4 103.6L985.6 103.6" fill="none" stroke="#06a54b" stroke-width="3.1" stroke-dasharray="11 10.6"/>
<path d="M138.1 202.6L142.1 208.5L138.1 214.4L134.1 208.5Z" fill="#06a54b"/>
<path d="M151.4 201.6L155.4 207.5L151.4 213.4L147.4 207.5Z" fill="#06a54b"/>
<path d="M164.7 194.7L168.7 200.6L164.7 206.5L160.7 200.6Z" fill="#06a54b"/>
<path d="M178 183.8L182 189.7L178 195.6L174 189.7Z" fill="#06a54b"/>
<path d="M191.3 173L195.3 178.9L191.3 184.8L187.3 178.9Z" fill="#06a54b"/>
<path d="M204.6 161.8L208.6 167.7L204.6 173.6L200.6 167.7Z" fill="#06a54b"/>
<path d="M217.9 151.6L221.9 157.5L217.9 163.4L213.9 157.5Z" fill="#06a54b"/>
<path d="M231.2 142.5L235.2 148.4L231.2 154.3L227.2 148.4Z" fill="#06a54b"/>
<path d="M244.5 135.6L248.5 141.5L244.5 147.4L240.5 141.5Z" fill="#06a54b"/>
<path d="M257.8 129.3L261.8 135.2L257.8 141.1L253.8 135.2Z" fill="#06a54b"/>
<path d="M271.1 128.3L275.1 134.2L271.1 140.1L267.1 134.2Z" fill="#06a54b"/>
<path d="M284.4 127.3L288.4 133.2L284.4 139.1L280.4 133.2Z" fill="#06a54b"/>
<path d="M297.7 126.6L301.7 132.5L297.7 138.4L293.7 132.5Z" fill="#06a54b"/>
<path d="M311 128.1L315 134L311 139.9L307 134Z" fill="#06a54b"/>
<path d="M324.3 130.8L328.3 136.7L324.3 142.6L320.3 136.7Z" fill="#06a54b"/>
<path d="M337.6 135.7L341.6 141.6L337.6 147.5L333.6 141.6Z" fill="#06a54b"/>
<path d="M350.9 142.6L354.9 148.5L350.9 154.4L346.9 148.5Z" fill="#06a54b"/>
<path d="M364.1 151.8L368.1 157.7L364.1 163.6L360.1 157.7Z" fill="#06a54b"/>
<path d="M377.4 159.7L381.4 165.6L377.4 171.5L373.4 165.6Z" fill="#06a54b"/>
<path d="M390.7 160.9L394.7 166.8L390.7 172.7L386.7 166.8Z" fill="#06a54b"/>
<path d="M404 155.1L408 161L404 166.9L400 161Z" fill="#06a54b"/>
<path d="M417.3 142.1L421.3 148L417.3 153.9L413.3 148Z" fill="#06a54b"/>
<path d="M430.6 125.8L434.6 131.7L430.6 137.6L426.6 131.7Z" fill="#06a54b"/>
<path d="M443.9 109.5L447.9 115.4L443.9 121.3L439.9 115.4Z" fill="#06a54b"/>
<path d="M457.2 96.2L461.2 102.1L457.2 108L453.2 102.1Z" fill="#06a54b"/>
<path d="M470.5 81.5L474.5 87.4L470.5 93.3L466.5 87.4Z" fill="#06a54b"/>
<path d="M483.8 69.6L487.8 75.5L483.8 81.4L479.8 75.5Z" fill="#06a54b"/>
<path d="M497.1 59.8L501.1 65.7L497.1 71.6L493.1 65.7Z" fill="#06a54b"/>
<path d="M510.4 50.2L514.4 56.1L510.4 62L506.4 56.1Z" fill="#06a54b"/>
<path d="M523.7 42.6L527.7 48.5L523.7 54.4L519.7 48.5Z" fill="#06a54b"/>
<path d="M537 36.4L541 42.3L537 48.2L533 42.3Z" fill="#06a54b"/>
<path d="M550.3 30.3L554.3 36.2L550.3 42.1L546.3 36.2Z" fill="#06a54b"/>
<path d="M563.6 26.2L567.6 32.1L563.6 38L559.6 32.1Z" fill="#06a54b"/>
<path d="M576.9 24.2L580.9 30.1L576.9 36L572.9 30.1Z" fill="#06a54b"/>
<path d="M590.2 23.6L594.2 29.5L590.2 35.4L586.2 29.5Z" fill="#06a54b"/>
<path d="M603.5 24.2L607.5 30.1L603.5 36L599.5 30.1Z" fill="#06a54b"/>
<path d="M616.8 25.2L620.8 31.1L616.8 37L612.8 31.1Z" fill="#06a54b"/>
<path d="M630.1 29.3L634.1 35.2L630.1 41.1L626.1 35.2Z" fill="#06a54b"/>
<path d="M643.4 31.3L647.4 37.2L643.4 43.1L639.4 37.2Z" fill="#06a54b"/>
<path d="M656.7 35.3L660.7 41.2L656.7 47.1L652.7 41.2Z" fill="#06a54b"/>
<path d="M670 40.3L674 46.2L670 52.1L666 46.2Z" fill="#06a54b"/>
<path d="M683.3 46.2L687.3 52.1L683.3 58L679.3 52.1Z" fill="#06a54b"/>
<path d="M696.6 55.1L700.6 61L696.6 66.9L692.6 61Z" fill="#06a54b"/>
<path d="M709.9 61.2L713.9 67.1L709.9 73L705.9 67.1Z" fill="#06a54b"/>
<path d="M723.2 73.4L727.2 79.3L723.2 85.2L719.2 79.3Z" fill="#06a54b"/>
<path d="M736.5 81.7L740.5 87.6L736.5 93.5L732.5 87.6Z" fill="#06a54b"/>
<path d="M749.8 93.9L753.8 99.8L749.8 105.7L745.8 99.8Z" fill="#06a54b"/>
<path d="M763.1 105.8L767.1 111.7L763.1 117.6L759.1 111.7Z" fill="#06a54b"/>
<path d="M776.4 121.5L780.4 127.4L776.4 133.3L772.4 127.4Z" fill="#06a54b"/>
<path d="M789.7 139.3L793.7 145.2L789.7 151.1L785.7 145.2Z" fill="#06a54b"/>
<path d="M803 164.5L807 170.4L803 176.3L799 170.4Z" fill="#06a54b"/>
<path d="M816.2 197L820.2 202.9L816.2 208.8L812.2 202.9Z" fill="#06a54b"/>
<path d="M829.5 225.6L833.5 231.5L829.5 237.4L825.5 231.5Z" fill="#06a54b"/>
<path d="M842.8 242.5L846.8 248.4L842.8 254.3L838.8 248.4Z" fill="#06a54b"/>
<path d="M856.1 210.5L860.1 216.4L856.1 222.3L852.1 216.4Z" fill="#06a54b"/>
<path d="M869.4 179L873.4 184.9L869.4 190.8L865.4 184.9Z" fill="#06a54b"/>
<path d="M882.7 154.7L886.7 160.6L882.7 166.5L878.7 160.6Z" fill="#06a54b"/>
<path d="M896 135.5L900 141.4L896 147.3L892 141.4Z" fill="#06a54b"/>
<path d="M909.3 121.8L913.3 127.7L909.3 133.6L905.3 127.7Z" fill="#06a54b"/>
<path d="M922.6 111.6L926.6 117.5L922.6 123.4L918.6 117.5Z" fill="#06a54b"/>
<path d="M935.9 105L939.9 110.9L935.9 116.8L931.9 110.9Z" fill="#06a54b"/>
<path d="M949.2 100.6L953.2 106.5L949.2 112.4L945.2 106.5Z" fill="#06a54b"/>
<path d="M962.5 98.4L966.5 104.3L962.5 110.2L958.5 104.3Z" fill="#06a54b"/>
<path d="M975.8 97.7L979.8 103.6L975.8 109.5L971.8 103.6Z" fill="#06a54b"/>
<path clip-path="url(#clipa)" d="M129.4 214.6L138.1 218.6L151.7 218.6L164.8 214.6L178.3 204.5L191.9 194.5L205 182.4L218.1 170.4L231.5 160.3L245 153.3L257.7 147.2L271.7 143.2L284.8 141.2L297.9 140.2L311 140.7L324.5 143.7L337.8 148.7L351.3 155.8L364.3 160.8L377.8 169.8L391 170.8L404.5 165.8L417.6 154.7L430.7 141.7L443.7 124.6L457.8 109.5L470.5 96.5L483.9 82.4L497.6 72.3L510 61.3L524.2 53.2L537.2 46.2L550.3 42.2L563.4 38.2L576.8 36.2L590.1 35.2L603.6 35.6L617 36.8L630.1 39.2L643.4 42.2L656.8 46.2L669.9 51.2L683.4 57.3L697.1 63.3L710.2 71.3L723.3 80.4L736.3 89.4L749.4 101.5L762.9 114.5L776.5 130.6L790 149.7L802.7 174.8L816.3 208L829.8 238.2L843.3 232.5L856 200.2L869.2 169.3L882.2 145.4L895.5 128.3L908.5 114.6L921.7 105.4L935.4 98.6L948.7 95.2L962.1 94.5L975.4 95.8L985.6 98.1" fill="none" stroke="#0fabb8" stroke-width="3.1" stroke-dasharray="11 10.6"/>
<path d="M134.5 213L134.5 224.2L143.8 218.6Z" fill="#0fabb8"/>
<path d="M147.8 213L147.8 224.2L157.1 218.6Z" fill="#0fabb8"/>
<path d="M161.1 209L161.1 220.2L170.4 214.6Z" fill="#0fabb8"/>
<path d="M174.4 199.1L174.4 210.3L183.7 204.7Z" fill="#0fabb8"/>
<path d="M187.7 189.3L187.7 200.5L197 194.9Z" fill="#0fabb8"/>
<path d="M201 177.2L201 188.4L210.3 182.8Z" fill="#0fabb8"/>
<path d="M214.3 165L214.3 176.2L223.6 170.6Z" fill="#0fabb8"/>
<path d="M227.6 154.9L227.6 166.1L236.9 160.5Z" fill="#0fabb8"/>
<path d="M240.9 148L240.9 159.2L250.2 153.6Z" fill="#0fabb8"/>
<path d="M254.2 141.6L254.2 152.8L263.5 147.2Z" fill="#0fabb8"/>
<path d="M267.5 137.8L267.5 149L276.8 143.4Z" fill="#0fabb8"/>
<path d="M280.8 135.7L280.8 146.9L290.1 141.3Z" fill="#0fabb8"/>
<path d="M294.1 134.6L294.1 145.8L303.4 140.2Z" fill="#0fabb8"/>
<path d="M307.4 135.1L307.4 146.3L316.7 140.7Z" fill="#0fabb8"/>
<path d="M320.7 138L320.7 149.2L330 143.6Z" fill="#0fabb8"/>
<path d="M334 143L334 154.2L343.3 148.6Z" fill="#0fabb8"/>
<path d="M347.3 150L347.3 161.2L356.6 155.6Z" fill="#0fabb8"/>
<path d="M360.5 155.1L360.5 166.3L369.8 160.7Z" fill="#0fabb8"/>
<path d="M373.8 164L373.8 175.2L383.1 169.6Z" fill="#0fabb8"/>
<path d="M387.1 165.2L387.1 176.4L396.4 170.8Z" fill="#0fabb8"/>
<path d="M400.4 160.4L400.4 171.6L409.7 166Z" fill="#0fabb8"/>
<path d="M413.7 149.3L413.7 160.5L423 154.9Z" fill="#0fabb8"/>
<path d="M427 136.2L427 147.4L436.3 141.8Z" fill="#0fabb8"/>
<path d="M440.3 118.8L440.3 130L449.6 124.4Z" fill="#0fabb8"/>
<path d="M453.6 104.5L453.6 115.7L462.9 110.1Z" fill="#0fabb8"/>
<path d="M466.9 90.9L466.9 102.1L476.2 96.5Z" fill="#0fabb8"/>
<path d="M480.2 76.9L480.2 88.1L489.5 82.5Z" fill="#0fabb8"/>
<path d="M493.5 67.1L493.5 78.3L502.8 72.7Z" fill="#0fabb8"/>
<path d="M506.8 55.5L506.8 66.7L516.1 61.1Z" fill="#0fabb8"/>
<path d="M520.1 47.9L520.1 59.1L529.4 53.5Z" fill="#0fabb8"/>
<path d="M533.4 40.7L533.4 51.9L542.7 46.3Z" fill="#0fabb8"/>
<path d="M546.7 36.6L546.7 47.8L556 42.2Z" fill="#0fabb8"/>
<path d="M560 32.6L560 43.8L569.3 38.2Z" fill="#0fabb8"/>
<path d="M573.3 30.6L573.3 41.8L582.6 36.2Z" fill="#0fabb8"/>
<path d="M586.6 29.6L586.6 40.8L595.9 35.2Z" fill="#0fabb8"/>
<path d="M599.9 30L599.9 41.2L609.2 35.6Z" fill="#0fabb8"/>
<path d="M613.2 31.2L613.2 42.4L622.5 36.8Z" fill="#0fabb8"/>
<path d="M626.5 33.6L626.5 44.8L635.8 39.2Z" fill="#0fabb8"/>
<path d="M639.8 36.6L639.8 47.8L649.1 42.2Z" fill="#0fabb8"/>
<path d="M653.1 40.6L653.1 51.8L662.4 46.2Z" fill="#0fabb8"/>
<path d="M666.4 45.6L666.4 56.8L675.7 51.2Z" fill="#0fabb8"/>
<path d="M679.7 51.6L679.7 62.8L689 57.2Z" fill="#0fabb8"/>
<path d="M693 57.5L693 68.7L702.3 63.1Z" fill="#0fabb8"/>
<path d="M706.3 65.5L706.3 76.7L715.6 71.1Z" fill="#0fabb8"/>
<path d="M719.6 74.7L719.6 85.9L728.9 80.3Z" fill="#0fabb8"/>
<path d="M732.9 84L732.9 95.2L742.2 89.6Z" fill="#0fabb8"/>
<path d="M746.2 96.2L746.2 107.4L755.5 101.8Z" fill="#0fabb8"/>
<path d="M759.5 109.1L759.5 120.3L768.8 114.7Z" fill="#0fabb8"/>
<path d="M772.8 124.8L772.8 136L782.1 130.4Z" fill="#0fabb8"/>
<path d="M786.1 143.6L786.1 154.8L795.4 149.2Z" fill="#0fabb8"/>
<path d="M799.4 169.8L799.4 181L808.7 175.4Z" fill="#0fabb8"/>
<path d="M812.6 202.3L812.6 213.5L821.9 207.9Z" fill="#0fabb8"/>
<path d="M825.9 232L825.9 243.2L835.2 237.6Z" fill="#0fabb8"/>
<path d="M839.2 227.1L839.2 238.3L848.5 232.7Z" fill="#0fabb8"/>
<path d="M852.5 194.3L852.5 205.5L861.8 199.9Z" fill="#0fabb8"/>
<path d="M865.8 163.3L865.8 174.5L875.1 168.9Z" fill="#0fabb8"/>
<path d="M879.1 139.1L879.1 150.3L888.4 144.7Z" fill="#0fabb8"/>
<path d="M892.4 122.1L892.4 133.3L901.7 127.7Z" fill="#0fabb8"/>
<path d="M905.7 108.4L905.7 119.6L915 114Z" fill="#0fabb8"/>
<path d="M919 99.3L919 110.5L928.3 104.9Z" fill="#0fabb8"/>
<path d="M932.3 92.9L932.3 104.1L941.6 98.5Z" fill="#0fabb8"/>
<path d="M945.6 89.6L945.6 100.8L954.9 95.2Z" fill="#0fabb8"/>
<path d="M958.9 88.9L958.9 100.1L968.2 94.5Z" fill="#0fabb8"/>
<path d="M972.2 90.3L972.2 101.5L981.5 95.9Z" fill="#0fabb8"/>
<path clip-path="url(#clipa)" d="M129.4 182.4L138.1 191.5L151.7 198.5L164.8 201.5L178.3 196.5L191.9 187.4L205 175.4L218.1 163.3L231.5 151.3L245 143.2L257.7 136.2L271.7 131.2L284.8 128.1L297.9 127.1L311 128.1L324.5 133.6L337.8 141.7L351.3 151.7L364.3 165.2L377.8 179.9L391 186.9L404.5 178.9L417.6 159.8L430.7 137.7L443.7 118.6L457.8 99.5L470.5 85.4L483.9 72.3L497.6 60.3L510 51.2L524.2 43.2L537.2 36.2L550.3 30.1L563.4 26.1L576.8 24.1L590.1 23.1L603.6 22.7L617 24.1L630.1 25.1L643.4 28.1L656.8 32.1L669.9 36.2L683.4 41.2L697.1 48.2L710.2 56.3L723.3 64.3L736.3 74.3L749.4 85.4L762.9 97.5L776.5 114.5L790 132.6L802.7 154.7L816.3 178.9L829.4 198L842.9 192.9L855.9 170.8L869 145L882.2 124.8L895.5 108.9L908.5 96.3L921.7 88.3L935.4 82.6L948.7 79.9L962.1 79.2L975.4 80.3L985.6 83.8" fill="none" stroke="#a8324c" stroke-width="3.1" stroke-dasharray="11 10.6"/>
<path d="M135.4 188.4L140.8 194.6M135.4 194.6L140.8 188.4M134.5 191.5H141.7" stroke="#a8324c" stroke-width="2.4" fill="none"/>
<path d="M148.7 195.2L154.1 201.4M148.7 201.4L154.1 195.2M147.8 198.3H155" stroke="#a8324c" stroke-width="2.4" fill="none"/>
<path d="M162 198.4L167.4 204.6M162 204.6L167.4 198.4M161.1 201.5H168.3" stroke="#a8324c" stroke-width="2.4" fill="none"/>
<path d="M175.3 193.5L180.7 199.7M175.3 199.7L180.7 193.5M174.4 196.6H181.6" stroke="#a8324c" stroke-width="2.4" fill="none"/>
<path d="M188.6 184.7L194 190.9M188.6 190.9L194 184.7M187.7 187.8H194.9" stroke="#a8324c" stroke-width="2.4" fill="none"/>
<path d="M201.9 172.7L207.3 178.9M201.9 178.9L207.3 172.7M201 175.8H208.2" stroke="#a8324c" stroke-width="2.4" fill="none"/>
<path d="M215.2 160.4L220.6 166.6M215.2 166.6L220.6 160.4M214.3 163.5H221.5" stroke="#a8324c" stroke-width="2.4" fill="none"/>
<path d="M228.5 148.5L233.9 154.7M228.5 154.7L233.9 148.5M227.6 151.6H234.8" stroke="#a8324c" stroke-width="2.4" fill="none"/>
<path d="M241.8 140.4L247.2 146.6M241.8 146.6L247.2 140.4M240.9 143.5H248.1" stroke="#a8324c" stroke-width="2.4" fill="none"/>
<path d="M255.1 133.1L260.5 139.3M255.1 139.3L260.5 133.1M254.2 136.2H261.4" stroke="#a8324c" stroke-width="2.4" fill="none"/>
<path d="M268.4 128.3L273.8 134.5M268.4 134.5L273.8 128.3M267.5 131.4H274.7" stroke="#a8324c" stroke-width="2.4" fill="none"/>
<path d="M281.7 125.1L287.1 131.3M281.7 131.3L287.1 125.1M280.8 128.2H288" stroke="#a8324c" stroke-width="2.4" fill="none"/>
<path d="M295 124L300.4 130.2M295 130.2L300.4 124M294.1 127.1H301.3" stroke="#a8324c" stroke-width="2.4" fill="none"/>
<path d="M308.3 125L313.7 131.2M308.3 131.2L313.7 125M307.4 128.1H314.6" stroke="#a8324c" stroke-width="2.4" fill="none"/>
<path d="M321.6 130.4L327 136.6M321.6 136.6L327 130.4M320.7 133.5H327.9" stroke="#a8324c" stroke-width="2.4" fill="none"/>
<path d="M334.9 138.5L340.3 144.7M334.9 144.7L340.3 138.5M334 141.6H341.2" stroke="#a8324c" stroke-width="2.4" fill="none"/>
<path d="M348.2 148.3L353.6 154.5M348.2 154.5L353.6 148.3M347.3 151.4H354.5" stroke="#a8324c" stroke-width="2.4" fill="none"/>
<path d="M361.4 161.9L366.8 168.1M361.4 168.1L366.8 161.9M360.5 165H367.7" stroke="#a8324c" stroke-width="2.4" fill="none"/>
<path d="M374.7 176.4L380.1 182.6M374.7 182.6L380.1 176.4M373.8 179.5H381" stroke="#a8324c" stroke-width="2.4" fill="none"/>
<path d="M388 183.7L393.4 189.9M388 189.9L393.4 183.7M387.1 186.8H394.3" stroke="#a8324c" stroke-width="2.4" fill="none"/>
<path d="M401.3 176.1L406.7 182.3M401.3 182.3L406.7 176.1M400.4 179.2H407.6" stroke="#a8324c" stroke-width="2.4" fill="none"/>
<path d="M414.6 157.1L420 163.3M414.6 163.3L420 157.1M413.7 160.2H420.9" stroke="#a8324c" stroke-width="2.4" fill="none"/>
<path d="M427.9 134.7L433.3 140.9M427.9 140.9L433.3 134.7M427 137.8H434.2" stroke="#a8324c" stroke-width="2.4" fill="none"/>
<path d="M441.2 115.2L446.6 121.4M441.2 121.4L446.6 115.2M440.3 118.3H447.5" stroke="#a8324c" stroke-width="2.4" fill="none"/>
<path d="M454.5 97.2L459.9 103.4M454.5 103.4L459.9 97.2M453.6 100.3H460.8" stroke="#a8324c" stroke-width="2.4" fill="none"/>
<path d="M467.8 82.3L473.2 88.5M467.8 88.5L473.2 82.3M466.9 85.4H474.1" stroke="#a8324c" stroke-width="2.4" fill="none"/>
<path d="M481.1 69.3L486.5 75.5M481.1 75.5L486.5 69.3M480.2 72.4H487.4" stroke="#a8324c" stroke-width="2.4" fill="none"/>
<path d="M494.4 57.6L499.8 63.8M494.4 63.8L499.8 57.6M493.5 60.7H500.7" stroke="#a8324c" stroke-width="2.4" fill="none"/>
<path d="M507.7 47.9L513.1 54.1M507.7 54.1L513.1 47.9M506.8 51H514" stroke="#a8324c" stroke-width="2.4" fill="none"/>
<path d="M521 40.4L526.4 46.6M521 46.6L526.4 40.4M520.1 43.5H527.3" stroke="#a8324c" stroke-width="2.4" fill="none"/>
<path d="M534.3 33.2L539.7 39.4M534.3 39.4L539.7 33.2M533.4 36.3H540.6" stroke="#a8324c" stroke-width="2.4" fill="none"/>
<path d="M547.6 27L553 33.2M547.6 33.2L553 27M546.7 30.1H553.9" stroke="#a8324c" stroke-width="2.4" fill="none"/>
<path d="M560.9 23L566.3 29.2M560.9 29.2L566.3 23M560 26.1H567.2" stroke="#a8324c" stroke-width="2.4" fill="none"/>
<path d="M574.2 21L579.6 27.2M574.2 27.2L579.6 21M573.3 24.1H580.5" stroke="#a8324c" stroke-width="2.4" fill="none"/>
<path d="M587.5 20L592.9 26.2M587.5 26.2L592.9 20M586.6 23.1H593.8" stroke="#a8324c" stroke-width="2.4" fill="none"/>
<path d="M600.8 19.6L606.2 25.8M600.8 25.8L606.2 19.6M599.9 22.7H607.1" stroke="#a8324c" stroke-width="2.4" fill="none"/>
<path d="M614.1 21L619.5 27.2M614.1 27.2L619.5 21M613.2 24.1H620.4" stroke="#a8324c" stroke-width="2.4" fill="none"/>
<path d="M627.4 22L632.8 28.2M627.4 28.2L632.8 22M626.5 25.1H633.7" stroke="#a8324c" stroke-width="2.4" fill="none"/>
<path d="M640.7 25L646.1 31.2M640.7 31.2L646.1 25M639.8 28.1H647" stroke="#a8324c" stroke-width="2.4" fill="none"/>
<path d="M654 29L659.4 35.2M654 35.2L659.4 29M653.1 32.1H660.3" stroke="#a8324c" stroke-width="2.4" fill="none"/>
<path d="M667.3 33.1L672.7 39.3M667.3 39.3L672.7 33.1M666.4 36.2H673.6" stroke="#a8324c" stroke-width="2.4" fill="none"/>
<path d="M680.6 38.1L686 44.3M680.6 44.3L686 38.1M679.7 41.2H686.9" stroke="#a8324c" stroke-width="2.4" fill="none"/>
<path d="M693.9 44.8L699.3 51M693.9 51L699.3 44.8M693 47.9H700.2" stroke="#a8324c" stroke-width="2.4" fill="none"/>
<path d="M707.2 53L712.6 59.2M707.2 59.2L712.6 53M706.3 56.1H713.5" stroke="#a8324c" stroke-width="2.4" fill="none"/>
<path d="M720.5 61.1L725.9 67.3M720.5 67.3L725.9 61.1M719.6 64.2H726.8" stroke="#a8324c" stroke-width="2.4" fill="none"/>
<path d="M733.8 71.3L739.2 77.5M733.8 77.5L739.2 71.3M732.9 74.4H740.1" stroke="#a8324c" stroke-width="2.4" fill="none"/>
<path d="M747.1 82.6L752.5 88.8M747.1 88.8L752.5 82.6M746.2 85.7H753.4" stroke="#a8324c" stroke-width="2.4" fill="none"/>
<path d="M760.4 94.6L765.8 100.8M760.4 100.8L765.8 94.6M759.5 97.7H766.7" stroke="#a8324c" stroke-width="2.4" fill="none"/>
<path d="M773.7 111.2L779.1 117.4M773.7 117.4L779.1 111.2M772.8 114.3H780" stroke="#a8324c" stroke-width="2.4" fill="none"/>
<path d="M787 129L792.4 135.2M787 135.2L792.4 129M786.1 132.1H793.3" stroke="#a8324c" stroke-width="2.4" fill="none"/>
<path d="M800.2 152L805.7 158.2M800.2 158.2L805.7 152M799.4 155.1H806.6" stroke="#a8324c" stroke-width="2.4" fill="none"/>
<path d="M813.5 175.7L818.9 181.9M813.5 181.9L818.9 175.7M812.6 178.8H819.8" stroke="#a8324c" stroke-width="2.4" fill="none"/>
<path d="M826.8 194.8L832.2 201M826.8 201L832.2 194.8M825.9 197.9H833.1" stroke="#a8324c" stroke-width="2.4" fill="none"/>
<path d="M840.1 189.8L845.5 196M840.1 196L845.5 189.8M839.2 192.9H846.4" stroke="#a8324c" stroke-width="2.4" fill="none"/>
<path d="M853.4 167.2L858.8 173.4M853.4 173.4L858.8 167.2M852.5 170.3H859.7" stroke="#a8324c" stroke-width="2.4" fill="none"/>
<path d="M866.7 141.2L872.1 147.4M866.7 147.4L872.1 141.2M865.8 144.3H873" stroke="#a8324c" stroke-width="2.4" fill="none"/>
<path d="M880 121.1L885.4 127.3M880 127.3L885.4 121.1M879.1 124.2H886.3" stroke="#a8324c" stroke-width="2.4" fill="none"/>
<path d="M893.3 105.3L898.7 111.5M893.3 111.5L898.7 105.3M892.4 108.4H899.6" stroke="#a8324c" stroke-width="2.4" fill="none"/>
<path d="M906.6 92.7L912 98.9M906.6 98.9L912 92.7M905.7 95.8H912.9" stroke="#a8324c" stroke-width="2.4" fill="none"/>
<path d="M919.9 84.8L925.3 91M919.9 91L925.3 84.8M919 87.9H926.2" stroke="#a8324c" stroke-width="2.4" fill="none"/>
<path d="M933.2 79.4L938.6 85.6M933.2 85.6L938.6 79.4M932.3 82.5H939.5" stroke="#a8324c" stroke-width="2.4" fill="none"/>
<path d="M946.5 76.8L951.9 83M946.5 83L951.9 76.8M945.6 79.9H952.8" stroke="#a8324c" stroke-width="2.4" fill="none"/>
<path d="M959.8 76.1L965.2 82.3M959.8 82.3L965.2 76.1M958.9 79.2H966.1" stroke="#a8324c" stroke-width="2.4" fill="none"/>
<path d="M973.1 77.3L978.5 83.5M973.1 83.5L978.5 77.3M972.2 80.4H979.4" stroke="#a8324c" stroke-width="2.4" fill="none"/>
<text transform="translate(119.6,31.6) scale(0.94,1)" font-size="47" fill="#4b4b4b" text-anchor="end" stroke="#4b4b4b" stroke-width="0.2">0</text>
<text transform="translate(118.1,133.8) scale(0.94,1)" font-size="47" fill="#4b4b4b" text-anchor="end" stroke="#4b4b4b" stroke-width="0.2" letter-spacing="-1.6">-10</text>
<text transform="translate(118.1,236) scale(0.94,1)" font-size="47" fill="#4b4b4b" text-anchor="end" stroke="#4b4b4b" stroke-width="0.2" letter-spacing="-1.6">-20</text>
<text transform="translate(118.1,338.2) scale(0.94,1)" font-size="47" fill="#4b4b4b" text-anchor="end" stroke="#4b4b4b" stroke-width="0.2" letter-spacing="-1.6">-30</text>
<text transform="translate(118.1,440.4) scale(0.94,1)" font-size="47" fill="#4b4b4b" text-anchor="end" stroke="#4b4b4b" stroke-width="0.2" letter-spacing="-1.6">-40</text>
<text transform="translate(128.5,475.3) scale(0.955,1)" font-size="47" fill="#4b4b4b" text-anchor="middle" stroke="#4b4b4b" stroke-width="0.2">1</text>
<text transform="translate(270,475.3) scale(0.955,1)" font-size="47" fill="#4b4b4b" text-anchor="middle" stroke="#4b4b4b" stroke-width="0.2" letter-spacing="-2.6">1.5</text>
<text transform="translate(414,475.3) scale(0.955,1)" font-size="47" fill="#4b4b4b" text-anchor="middle" stroke="#4b4b4b" stroke-width="0.2">2</text>
<text transform="translate(555.5,475.3) scale(0.955,1)" font-size="47" fill="#4b4b4b" text-anchor="middle" stroke="#4b4b4b" stroke-width="0.2" letter-spacing="-2.6">2.5</text>
<text transform="translate(699.4,475.3) scale(0.955,1)" font-size="47" fill="#4b4b4b" text-anchor="middle" stroke="#4b4b4b" stroke-width="0.2">3</text>
<text transform="translate(840.9,475.3) scale(0.955,1)" font-size="47" fill="#4b4b4b" text-anchor="middle" stroke="#4b4b4b" stroke-width="0.2" letter-spacing="-2.6">3.5</text>
<text transform="translate(984.9,475.3) scale(0.955,1)" font-size="47" fill="#4b4b4b" text-anchor="middle" stroke="#4b4b4b" stroke-width="0.2">4</text>
<text transform="translate(556.6,521.5) scale(0.914,1)" font-size="50.4" fill="#1c1c1c" text-anchor="middle" stroke="#1c1c1c" stroke-width="0.2">Frequency (GHz)</text>
<text transform="translate(497,581) scale(1.0,1)" font-size="37" fill="#1c1c1c" text-anchor="middle" stroke="#1c1c1c" stroke-width="0.2">(a)</text>
<text transform="translate(32.3,219) rotate(-90) scale(1.0,0.97)" font-size="47" fill="#1c1c1c" stroke="#1c1c1c" stroke-width="0.25"><tspan x="-92.4" dy="-7.8" font-size="35.7" stroke-width="1.1">|</tspan><tspan x="-87.7" dy="7.8">S</tspan><tspan x="-56.4" dy="23" font-size="38">21</tspan><tspan x="-14.6" dy="-30.8" font-size="35.7" stroke-width="1.1">|</tspan><tspan x="-7.5" dy="7.8"> (dB)</tspan></text>
<rect x="308.8" y="211.3" width="187" height="203" fill="#fff" stroke="#4a4a4a" stroke-width="1.1"/>
<path d="M311.3 237.9H321.4" stroke="#2a2d9c" stroke-width="3.1" fill="none"/>
<path d="M316.1 241.9L326.7 241.9L321.4 231.7Z" fill="#2a2d9c"/>
<text transform="translate(332,253.8) scale(0.9126,1)" font-size="45.5" fill="#151515" text-anchor="start" stroke="#151515" stroke-width="0.2">TE-0°S</text>
<path d="M311.3 288.3H321.4" stroke="#9a4bb0" stroke-width="3.1" fill="none"/>
<circle cx="321.4" cy="288.3" r="3.3" fill="#9a4bb0"/>
<text transform="translate(332,304.2) scale(0.9126,1)" font-size="45.5" fill="#151515" text-anchor="start" stroke="#151515" stroke-width="0.2">TE-0°M</text>
<path d="M311.3 338.6H321.4" stroke="#f04e22" stroke-width="3.1" fill="none"/>
<circle cx="321.4" cy="338.6" r="4.1" fill="#f04e22"/>
<text transform="translate(332,354.5) scale(0.9126,1)" font-size="45.5" fill="#151515" text-anchor="start" stroke="#151515" stroke-width="0.2">TE-30°M</text>
<path d="M311.3 388.9H321.4" stroke="#c552b3" stroke-width="3.1" fill="none"/>
<path d="M318.3 388.9H324.5M321.4 385.7V392.1" stroke="#c552b3" stroke-width="2.8" fill="none"/>
<text transform="translate(332,404.8) scale(0.9126,1)" font-size="45.5" fill="#151515" text-anchor="start" stroke="#151515" stroke-width="0.2">TE-45°M</text>
<rect x="495.8" y="211.3" width="198.2" height="203" fill="#fff" stroke="#4a4a4a" stroke-width="1.1"/>
<path d="M498.3 237.9H508.4" stroke="#161616" stroke-width="3.1" fill="none"/>
<path d="M511.8 232.4L511.8 243.4L503.2 237.9Z" fill="#161616"/>
<text transform="translate(520.2,253.8) scale(0.9126,1)" font-size="45.5" fill="#151515" text-anchor="start" stroke="#151515" stroke-width="0.2">TM-0°S</text>
<path d="M498.3 288.3H508.4" stroke="#06a54b" stroke-width="3.1" fill="none"/>
<path d="M508.4 282.4L512.4 288.3L508.4 294.2L504.4 288.3Z" fill="#06a54b"/>
<text transform="translate(520.2,304.2) scale(0.9126,1)" font-size="45.5" fill="#151515" text-anchor="start" stroke="#151515" stroke-width="0.2">TM-0°M</text>
<path d="M498.3 338.6H508.4" stroke="#0fabb8" stroke-width="3.1" fill="none"/>
<path d="M504.8 333L504.8 344.2L514.1 338.6Z" fill="#0fabb8"/>
<text transform="translate(520.2,354.5) scale(0.9126,1)" font-size="45.5" fill="#151515" text-anchor="start" stroke="#151515" stroke-width="0.2">TM-30°M</text>
<path d="M498.3 388.9H508.4" stroke="#a8324c" stroke-width="3.1" fill="none"/>
<path d="M505.7 385.8L511.1 392M505.7 392L511.1 385.8M504.8 388.9H512" stroke="#a8324c" stroke-width="2.4" fill="none"/>
<text transform="translate(520.2,404.8) scale(0.9126,1)" font-size="45.5" fill="#151515" text-anchor="start" stroke="#151515" stroke-width="0.2">TM-45°M</text>
</g>
<g id="plot-b">
<defs><clipPath id="clipb"><rect x="132.7" y="662" width="850.7" height="410.3"/></clipPath></defs>
<path d="M275.3 663V1071.3M416.7 663V1071.3M558.1 663V1071.3M699.4 663V1071.3M840.8 663V1071.3M133.9 765.1H982.2M133.9 867.1H982.2M133.9 969.2H982.2" stroke="#e5e5e5" stroke-width="1" fill="none"/>
<path d="M133.9 1071.3v-8.6M133.9 663v8.6M275.3 1071.3v-8.6M275.3 663v8.6M416.7 1071.3v-8.6M416.7 663v8.6M558.1 1071.3v-8.6M558.1 663v8.6M699.4 1071.3v-8.6M699.4 663v8.6M840.8 1071.3v-8.6M840.8 663v8.6M982.2 1071.3v-8.6M982.2 663v8.6M133.9 663h8.6M982.2 663h-8.6M133.9 765.1h8.6M982.2 765.1h-8.6M133.9 867.1h8.6M982.2 867.1h-8.6M133.9 969.2h8.6M982.2 969.2h-8.6M133.9 1071.3h8.6M982.2 1071.3h-8.6" stroke="#4a4a4a" stroke-width="1.1" fill="none"/>
<rect x="133.9" y="663" width="848.3" height="408.3" fill="none" stroke="#4a4a4a" stroke-width="1.05"/>
<path clip-path="url(#clipb)" d="M133.6 852L153.1 844.9L173.2 837.9L193.3 831.9L213.4 825.9L233.5 818.8L253.6 813.8L273.7 808.8L293.8 803.7L314 798.7L320.1 797.7L340.2 791.7L360.3 786.7L380.4 781.6L400.5 776.6L420.6 771.6L440.7 765.6L460.8 759.5L480.9 753.5L490 751.5L500 748.5L510.1 744.4L520.2 740.4L530.2 737.4L540.3 733.4L550.3 729.8L560.4 726.4L570.4 721.3L579.4 716.3L588.5 712.3L598.5 707.3L608.6 702.2L618.6 697.2L628.7 691.2L638.7 685.2L648.8 679.1L658.8 674.1L667.9 668.1L677.9 665.1L688 665.1L697.1 670.1L707.2 679.1L717.6 691.2L727.3 705.3L737.3 721.3L747.4 739.4L756.4 757.5L766.5 777.6L776.5 798.7L786.6 825.9L796.6 849L806.7 885L816.7 930.4L826.4 1013.8L836.6 1078L846.4 965.4L856.7 918.6L866.3 891.2L876.1 869.6L885.7 855.9L895.5 842.2L905.1 830.8L914.9 822.8L924.7 814.8L934.7 810.2L944.6 804.5L954.4 798.8L964.4 792L974.2 786.3" fill="none" stroke="#2a2d9c" stroke-width="3.1" stroke-dasharray="11 10.6"/>
<path d="M128.6 855.9L139.2 855.9L133.9 845.7Z" fill="#2a2d9c"/>
<path d="M138.5 852.3L149.1 852.3L143.8 842.1Z" fill="#2a2d9c"/>
<path d="M148.4 848.7L159 848.7L153.7 838.5Z" fill="#2a2d9c"/>
<path d="M158.3 845.2L168.9 845.2L163.6 835Z" fill="#2a2d9c"/>
<path d="M168.2 841.8L178.8 841.8L173.5 831.6Z" fill="#2a2d9c"/>
<path d="M178.1 838.9L188.7 838.9L183.4 828.7Z" fill="#2a2d9c"/>
<path d="M188 835.9L198.6 835.9L193.3 825.7Z" fill="#2a2d9c"/>
<path d="M197.9 833L208.5 833L203.2 822.8Z" fill="#2a2d9c"/>
<path d="M207.8 830L218.4 830L213.1 819.8Z" fill="#2a2d9c"/>
<path d="M217.7 826.5L228.3 826.5L223 816.3Z" fill="#2a2d9c"/>
<path d="M227.6 823L238.2 823L232.9 812.8Z" fill="#2a2d9c"/>
<path d="M237.5 820.5L248.1 820.5L242.8 810.3Z" fill="#2a2d9c"/>
<path d="M247.4 818L258 818L252.7 807.8Z" fill="#2a2d9c"/>
<path d="M257.3 815.6L267.9 815.6L262.6 805.4Z" fill="#2a2d9c"/>
<path d="M267.2 813.1L277.8 813.1L272.5 802.9Z" fill="#2a2d9c"/>
<path d="M277.1 810.6L287.7 810.6L282.4 800.4Z" fill="#2a2d9c"/>
<path d="M286.9 808.1L297.5 808.1L292.2 797.9Z" fill="#2a2d9c"/>
<path d="M296.8 805.6L307.4 805.6L302.1 795.4Z" fill="#2a2d9c"/>
<path d="M306.7 803.2L317.3 803.2L312 793Z" fill="#2a2d9c"/>
<path d="M316.6 801.2L327.2 801.2L321.9 791Z" fill="#2a2d9c"/>
<path d="M326.5 798.2L337.1 798.2L331.8 788Z" fill="#2a2d9c"/>
<path d="M336.4 795.3L347 795.3L341.7 785.1Z" fill="#2a2d9c"/>
<path d="M346.3 792.9L356.9 792.9L351.6 782.7Z" fill="#2a2d9c"/>
<path d="M356.2 790.4L366.8 790.4L361.5 780.2Z" fill="#2a2d9c"/>
<path d="M366.1 787.9L376.7 787.9L371.4 777.7Z" fill="#2a2d9c"/>
<path d="M376 785.4L386.6 785.4L381.3 775.2Z" fill="#2a2d9c"/>
<path d="M385.9 782.9L396.5 782.9L391.2 772.7Z" fill="#2a2d9c"/>
<path d="M395.8 780.4L406.4 780.4L401.1 770.2Z" fill="#2a2d9c"/>
<path d="M405.7 778L416.3 778L411 767.8Z" fill="#2a2d9c"/>
<path d="M415.6 775.5L426.2 775.5L420.9 765.3Z" fill="#2a2d9c"/>
<path d="M425.5 772.6L436.1 772.6L430.8 762.4Z" fill="#2a2d9c"/>
<path d="M435.4 769.6L446 769.6L440.7 759.4Z" fill="#2a2d9c"/>
<path d="M445.3 766.6L455.9 766.6L450.6 756.4Z" fill="#2a2d9c"/>
<path d="M455.2 763.6L465.8 763.6L460.5 753.4Z" fill="#2a2d9c"/>
<path d="M465.1 760.6L475.7 760.6L470.4 750.4Z" fill="#2a2d9c"/>
<path d="M475 757.7L485.6 757.7L480.3 747.5Z" fill="#2a2d9c"/>
<path d="M484.9 755.4L495.5 755.4L490.2 745.2Z" fill="#2a2d9c"/>
<path d="M494.8 752.5L505.4 752.5L500.1 742.3Z" fill="#2a2d9c"/>
<path d="M504.7 748.4L515.3 748.4L510 738.2Z" fill="#2a2d9c"/>
<path d="M514.6 744.5L525.2 744.5L519.9 734.3Z" fill="#2a2d9c"/>
<path d="M524.5 741.5L535.1 741.5L529.8 731.3Z" fill="#2a2d9c"/>
<path d="M534.4 737.6L545 737.6L539.7 727.4Z" fill="#2a2d9c"/>
<path d="M544.3 734.1L554.9 734.1L549.6 723.9Z" fill="#2a2d9c"/>
<path d="M554.2 730.7L564.8 730.7L559.5 720.5Z" fill="#2a2d9c"/>
<path d="M564.1 725.8L574.7 725.8L569.4 715.6Z" fill="#2a2d9c"/>
<path d="M574 720.4L584.6 720.4L579.3 710.2Z" fill="#2a2d9c"/>
<path d="M583.9 716L594.5 716L589.2 705.8Z" fill="#2a2d9c"/>
<path d="M593.8 711L604.4 711L599.1 700.8Z" fill="#2a2d9c"/>
<path d="M603.6 706L614.2 706L608.9 695.8Z" fill="#2a2d9c"/>
<path d="M613.5 701.1L624.1 701.1L618.8 690.9Z" fill="#2a2d9c"/>
<path d="M623.4 695.2L634 695.2L628.7 685Z" fill="#2a2d9c"/>
<path d="M633.3 689.2L643.9 689.2L638.6 679Z" fill="#2a2d9c"/>
<path d="M643.2 683.3L653.8 683.3L648.5 673.1Z" fill="#2a2d9c"/>
<path d="M653.1 678.3L663.7 678.3L658.4 668.1Z" fill="#2a2d9c"/>
<path d="M663 672L673.6 672L668.3 661.8Z" fill="#2a2d9c"/>
<path d="M672.9 669.1L683.5 669.1L678.2 658.9Z" fill="#2a2d9c"/>
<path d="M682.8 669.2L693.4 669.2L688.1 659Z" fill="#2a2d9c"/>
<path d="M692.7 674.9L703.3 674.9L698 664.7Z" fill="#2a2d9c"/>
<path d="M702.6 683.9L713.2 683.9L707.9 673.7Z" fill="#2a2d9c"/>
<path d="M712.5 695.5L723.1 695.5L717.8 685.3Z" fill="#2a2d9c"/>
<path d="M722.4 710L733 710L727.7 699.8Z" fill="#2a2d9c"/>
<path d="M732.3 725.8L742.9 725.8L737.6 715.6Z" fill="#2a2d9c"/>
<path d="M742.2 743.6L752.8 743.6L747.5 733.4Z" fill="#2a2d9c"/>
<path d="M752.1 763.5L762.7 763.5L757.4 753.3Z" fill="#2a2d9c"/>
<path d="M762 783.3L772.6 783.3L767.3 773.1Z" fill="#2a2d9c"/>
<path d="M771.9 804.6L782.5 804.6L777.2 794.4Z" fill="#2a2d9c"/>
<path d="M781.8 831L792.4 831L787.1 820.8Z" fill="#2a2d9c"/>
<path d="M791.7 854.4L802.3 854.4L797 844.2Z" fill="#2a2d9c"/>
<path d="M801.6 889.8L812.2 889.8L806.9 879.6Z" fill="#2a2d9c"/>
<path d="M811.5 935.1L822.1 935.1L816.8 924.9Z" fill="#2a2d9c"/>
<path d="M821.4 1019.6L832 1019.6L826.7 1009.4Z" fill="#2a2d9c"/>
<path d="M841.2 969.1L851.8 969.1L846.5 958.9Z" fill="#2a2d9c"/>
<path d="M851.1 924.1L861.7 924.1L856.4 913.9Z" fill="#2a2d9c"/>
<path d="M861 895.3L871.6 895.3L866.3 885.1Z" fill="#2a2d9c"/>
<path d="M870.9 873.5L881.5 873.5L876.2 863.3Z" fill="#2a2d9c"/>
<path d="M880.8 859.4L891.4 859.4L886.1 849.2Z" fill="#2a2d9c"/>
<path d="M890.7 845.7L901.3 845.7L896 835.5Z" fill="#2a2d9c"/>
<path d="M900.6 834.2L911.2 834.2L905.9 824Z" fill="#2a2d9c"/>
<path d="M910.4 826.1L921 826.1L915.7 815.9Z" fill="#2a2d9c"/>
<path d="M920.3 818.4L930.9 818.4L925.6 808.2Z" fill="#2a2d9c"/>
<path d="M930.2 813.7L940.8 813.7L935.5 803.5Z" fill="#2a2d9c"/>
<path d="M940.1 808L950.7 808L945.4 797.8Z" fill="#2a2d9c"/>
<path d="M950 802.2L960.6 802.2L955.3 792Z" fill="#2a2d9c"/>
<path d="M959.9 795.5L970.5 795.5L965.2 785.3Z" fill="#2a2d9c"/>
<path d="M969.8 790.3L980.4 790.3L975.1 780.1Z" fill="#2a2d9c"/>
<path clip-path="url(#clipb)" d="M133.6 833.9L143.1 833.9L156.2 830.5L169.2 825.5L182.3 816.8L195.4 808.8L209 799.3L222.1 792.7L235 784.6L248.2 778L261.7 773.6L274.7 770.6L287.8 769.2L300.9 769.6L314.1 771.6L327.1 775.6L340.2 782.6L353.3 790.7L367.3 799.7L380.4 808.8L393.5 809.8L406.5 803.7L419.6 790.7L432.7 774.6L445.7 757.9L458.8 742.4L471.9 729.4L484.9 717.3L498 706.8L511.1 697.2L525.2 689.2L538.2 683.1L551.3 679.1L564.4 675.1L577.4 673.1L590.5 672.1L603.6 672.5L617 674.1L630.1 676.1L643.4 678.1L656.8 682.1L669.9 686.5L682.1 691.2L695.1 698.2L709.2 705.3L722.3 713.3L735.3 724.3L748.4 734.4L761.5 746.5L774.5 761.5L788.6 781.6L801.7 803.7L814.7 830.9L827.8 857.5L840.6 868.3L853.8 850.5L867 823.9L880 801.1L893.2 784L906.2 770.3L919.5 760.7L932.7 753.6L945.7 749L958.9 747.4L972 747L982.2 747.4" fill="none" stroke="#9a4bb0" stroke-width="3.1" stroke-dasharray="11 10.6"/>
<circle cx="143.1" cy="833.9" r="3.3" fill="#9a4bb0"/>
<circle cx="156.3" cy="830.5" r="3.3" fill="#9a4bb0"/>
<circle cx="169.4" cy="825.4" r="3.3" fill="#9a4bb0"/>
<circle cx="182.6" cy="816.6" r="3.3" fill="#9a4bb0"/>
<circle cx="195.7" cy="808.6" r="3.3" fill="#9a4bb0"/>
<circle cx="208.9" cy="799.4" r="3.3" fill="#9a4bb0"/>
<circle cx="222" cy="792.7" r="3.3" fill="#9a4bb0"/>
<circle cx="235.2" cy="784.5" r="3.3" fill="#9a4bb0"/>
<circle cx="248.4" cy="777.9" r="3.3" fill="#9a4bb0"/>
<circle cx="261.5" cy="773.7" r="3.3" fill="#9a4bb0"/>
<circle cx="274.7" cy="770.6" r="3.3" fill="#9a4bb0"/>
<circle cx="287.8" cy="769.2" r="3.3" fill="#9a4bb0"/>
<circle cx="301" cy="769.6" r="3.3" fill="#9a4bb0"/>
<circle cx="314.1" cy="771.6" r="3.3" fill="#9a4bb0"/>
<circle cx="327.3" cy="775.7" r="3.3" fill="#9a4bb0"/>
<circle cx="340.5" cy="782.8" r="3.3" fill="#9a4bb0"/>
<circle cx="353.6" cy="790.9" r="3.3" fill="#9a4bb0"/>
<circle cx="366.8" cy="799.4" r="3.3" fill="#9a4bb0"/>
<circle cx="379.9" cy="808.5" r="3.3" fill="#9a4bb0"/>
<circle cx="393.1" cy="809.8" r="3.3" fill="#9a4bb0"/>
<circle cx="406.2" cy="803.8" r="3.3" fill="#9a4bb0"/>
<circle cx="419.4" cy="790.9" r="3.3" fill="#9a4bb0"/>
<circle cx="432.6" cy="774.8" r="3.3" fill="#9a4bb0"/>
<circle cx="445.7" cy="757.9" r="3.3" fill="#9a4bb0"/>
<circle cx="458.9" cy="742.3" r="3.3" fill="#9a4bb0"/>
<circle cx="472" cy="729.3" r="3.3" fill="#9a4bb0"/>
<circle cx="485.2" cy="717.1" r="3.3" fill="#9a4bb0"/>
<circle cx="498.3" cy="706.6" r="3.3" fill="#9a4bb0"/>
<circle cx="511.5" cy="697" r="3.3" fill="#9a4bb0"/>
<circle cx="524.7" cy="689.5" r="3.3" fill="#9a4bb0"/>
<circle cx="537.8" cy="683.3" r="3.3" fill="#9a4bb0"/>
<circle cx="551" cy="679.2" r="3.3" fill="#9a4bb0"/>
<circle cx="564.1" cy="675.2" r="3.3" fill="#9a4bb0"/>
<circle cx="577.3" cy="673.1" r="3.3" fill="#9a4bb0"/>
<circle cx="590.4" cy="672.1" r="3.3" fill="#9a4bb0"/>
<circle cx="603.6" cy="672.5" r="3.3" fill="#9a4bb0"/>
<circle cx="616.8" cy="674.1" r="3.3" fill="#9a4bb0"/>
<circle cx="629.9" cy="676.1" r="3.3" fill="#9a4bb0"/>
<circle cx="643.1" cy="678" r="3.3" fill="#9a4bb0"/>
<circle cx="656.2" cy="681.9" r="3.3" fill="#9a4bb0"/>
<circle cx="669.4" cy="686.3" r="3.3" fill="#9a4bb0"/>
<circle cx="682.5" cy="691.4" r="3.3" fill="#9a4bb0"/>
<circle cx="695.7" cy="698.5" r="3.3" fill="#9a4bb0"/>
<circle cx="708.9" cy="705.1" r="3.3" fill="#9a4bb0"/>
<circle cx="722" cy="713.1" r="3.3" fill="#9a4bb0"/>
<circle cx="735.2" cy="724.2" r="3.3" fill="#9a4bb0"/>
<circle cx="748.3" cy="734.3" r="3.3" fill="#9a4bb0"/>
<circle cx="761.5" cy="746.5" r="3.3" fill="#9a4bb0"/>
<circle cx="774.6" cy="761.7" r="3.3" fill="#9a4bb0"/>
<circle cx="787.8" cy="780.4" r="3.3" fill="#9a4bb0"/>
<circle cx="801" cy="802.4" r="3.3" fill="#9a4bb0"/>
<circle cx="814.1" cy="829.7" r="3.3" fill="#9a4bb0"/>
<circle cx="827.3" cy="856.4" r="3.3" fill="#9a4bb0"/>
<circle cx="840.4" cy="868.1" r="3.3" fill="#9a4bb0"/>
<circle cx="853.6" cy="850.8" r="3.3" fill="#9a4bb0"/>
<circle cx="866.7" cy="824.4" r="3.3" fill="#9a4bb0"/>
<circle cx="879.9" cy="801.3" r="3.3" fill="#9a4bb0"/>
<circle cx="893" cy="784.2" r="3.3" fill="#9a4bb0"/>
<circle cx="906.2" cy="770.3" r="3.3" fill="#9a4bb0"/>
<circle cx="919.4" cy="760.8" r="3.3" fill="#9a4bb0"/>
<circle cx="932.5" cy="753.7" r="3.3" fill="#9a4bb0"/>
<circle cx="945.7" cy="749" r="3.3" fill="#9a4bb0"/>
<circle cx="958.8" cy="747.4" r="3.3" fill="#9a4bb0"/>
<circle cx="972" cy="747" r="3.3" fill="#9a4bb0"/>
<path clip-path="url(#clipb)" d="M133.6 828.9L143.1 829.5L156.2 829.9L169.2 825.9L182.3 820.8L195.4 813.8L209 806.8L222.1 799.7L235 792.7L248.2 787.3L261.7 783.5L274.7 780.6L287.8 778.6L300.9 779L314.1 780.6L327.1 783.6L340.2 787.7L353.3 797.3L367.3 804.7L380.4 812.8L393.5 815.8L406.5 811.8L419.6 800.7L432.7 785.7L445.7 768.6L458.8 753.5L471.9 739.4L484.9 726.4L498 716L511.1 707.3L525.2 698.2L538.2 692.2L551.3 687.2L564.4 683.1L577.4 680.1L590.5 679.5L603.6 679.5L617 680.5L630.1 682.1L643.4 685.2L656.8 689.2L669.9 694.2L682.5 700.2L695.7 706.9L709.2 714.3L722.3 723.3L735.3 733.4L748.4 744.4L761.5 757.5L774.5 771.6L788.6 790L801.7 810.8L814.7 832.9L827.8 847L840.9 840L853.8 821.2L867 799.3L880 780.5L893.2 765.7L906.2 753.2L919.5 744.5L932.7 739.5L945.7 736.7L958.9 736.5L972 738.3L982.2 741.7" fill="none" stroke="#f04e22" stroke-width="3.1" stroke-dasharray="11 10.6"/>
<circle cx="143.1" cy="829.5" r="3.1" fill="#fff" stroke="#f04e22" stroke-width="2.1"/>
<circle cx="156.3" cy="829.9" r="4.1" fill="#f04e22"/>
<circle cx="169.4" cy="825.8" r="3.1" fill="#fff" stroke="#f04e22" stroke-width="2.1"/>
<circle cx="182.6" cy="820.7" r="4.1" fill="#f04e22"/>
<circle cx="195.7" cy="813.6" r="3.1" fill="#fff" stroke="#f04e22" stroke-width="2.1"/>
<circle cx="208.9" cy="806.9" r="4.1" fill="#f04e22"/>
<circle cx="222" cy="799.7" r="3.1" fill="#fff" stroke="#f04e22" stroke-width="2.1"/>
<circle cx="235.2" cy="792.6" r="4.1" fill="#f04e22"/>
<circle cx="248.4" cy="787.3" r="3.1" fill="#fff" stroke="#f04e22" stroke-width="2.1"/>
<circle cx="261.5" cy="783.6" r="4.1" fill="#f04e22"/>
<circle cx="274.7" cy="780.6" r="3.1" fill="#fff" stroke="#f04e22" stroke-width="2.1"/>
<circle cx="287.8" cy="778.6" r="4.1" fill="#f04e22"/>
<circle cx="301" cy="779" r="3.1" fill="#fff" stroke="#f04e22" stroke-width="2.1"/>
<circle cx="314.1" cy="780.6" r="4.1" fill="#f04e22"/>
<circle cx="327.3" cy="783.7" r="3.1" fill="#fff" stroke="#f04e22" stroke-width="2.1"/>
<circle cx="340.5" cy="787.9" r="4.1" fill="#f04e22"/>
<circle cx="353.6" cy="797.5" r="3.1" fill="#fff" stroke="#f04e22" stroke-width="2.1"/>
<circle cx="366.8" cy="804.4" r="4.1" fill="#f04e22"/>
<circle cx="379.9" cy="812.5" r="3.1" fill="#fff" stroke="#f04e22" stroke-width="2.1"/>
<circle cx="393.1" cy="815.7" r="4.1" fill="#f04e22"/>
<circle cx="406.2" cy="811.9" r="3.1" fill="#fff" stroke="#f04e22" stroke-width="2.1"/>
<circle cx="419.4" cy="800.9" r="4.1" fill="#f04e22"/>
<circle cx="432.6" cy="785.9" r="3.1" fill="#fff" stroke="#f04e22" stroke-width="2.1"/>
<circle cx="445.7" cy="768.6" r="4.1" fill="#f04e22"/>
<circle cx="458.9" cy="753.4" r="3.1" fill="#fff" stroke="#f04e22" stroke-width="2.1"/>
<circle cx="472" cy="739.3" r="4.1" fill="#f04e22"/>
<circle cx="485.2" cy="726.2" r="3.1" fill="#fff" stroke="#f04e22" stroke-width="2.1"/>
<circle cx="498.3" cy="715.8" r="4.1" fill="#f04e22"/>
<circle cx="511.5" cy="707" r="3.1" fill="#fff" stroke="#f04e22" stroke-width="2.1"/>
<circle cx="524.7" cy="698.6" r="4.1" fill="#f04e22"/>
<circle cx="537.8" cy="692.4" r="3.1" fill="#fff" stroke="#f04e22" stroke-width="2.1"/>
<circle cx="551" cy="687.3" r="4.1" fill="#f04e22"/>
<circle cx="564.1" cy="683.2" r="3.1" fill="#fff" stroke="#f04e22" stroke-width="2.1"/>
<circle cx="577.3" cy="680.1" r="4.1" fill="#f04e22"/>
<circle cx="590.4" cy="679.5" r="3.1" fill="#fff" stroke="#f04e22" stroke-width="2.1"/>
<circle cx="603.6" cy="679.5" r="4.1" fill="#f04e22"/>
<circle cx="616.8" cy="680.5" r="3.1" fill="#fff" stroke="#f04e22" stroke-width="2.1"/>
<circle cx="629.9" cy="682.1" r="4.1" fill="#f04e22"/>
<circle cx="643.1" cy="685.1" r="3.1" fill="#fff" stroke="#f04e22" stroke-width="2.1"/>
<circle cx="656.2" cy="689" r="4.1" fill="#f04e22"/>
<circle cx="669.4" cy="694" r="3.1" fill="#fff" stroke="#f04e22" stroke-width="2.1"/>
<circle cx="682.5" cy="700.2" r="4.1" fill="#f04e22"/>
<circle cx="695.7" cy="706.9" r="3.1" fill="#fff" stroke="#f04e22" stroke-width="2.1"/>
<circle cx="708.9" cy="714.1" r="4.1" fill="#f04e22"/>
<circle cx="722" cy="723.1" r="3.1" fill="#fff" stroke="#f04e22" stroke-width="2.1"/>
<circle cx="735.2" cy="733.3" r="4.1" fill="#f04e22"/>
<circle cx="748.3" cy="744.3" r="3.1" fill="#fff" stroke="#f04e22" stroke-width="2.1"/>
<circle cx="761.5" cy="757.5" r="4.1" fill="#f04e22"/>
<circle cx="774.6" cy="771.8" r="3.1" fill="#fff" stroke="#f04e22" stroke-width="2.1"/>
<circle cx="787.8" cy="788.9" r="4.1" fill="#f04e22"/>
<circle cx="801" cy="809.6" r="3.1" fill="#fff" stroke="#f04e22" stroke-width="2.1"/>
<circle cx="814.1" cy="831.9" r="4.1" fill="#f04e22"/>
<circle cx="827.3" cy="846.4" r="3.1" fill="#fff" stroke="#f04e22" stroke-width="2.1"/>
<circle cx="840.4" cy="840.3" r="4.1" fill="#f04e22"/>
<circle cx="853.6" cy="821.5" r="3.1" fill="#fff" stroke="#f04e22" stroke-width="2.1"/>
<circle cx="866.7" cy="799.7" r="4.1" fill="#f04e22"/>
<circle cx="879.9" cy="780.7" r="3.1" fill="#fff" stroke="#f04e22" stroke-width="2.1"/>
<circle cx="893" cy="765.9" r="4.1" fill="#f04e22"/>
<circle cx="906.2" cy="753.2" r="3.1" fill="#fff" stroke="#f04e22" stroke-width="2.1"/>
<circle cx="919.4" cy="744.6" r="4.1" fill="#f04e22"/>
<circle cx="932.5" cy="739.6" r="3.1" fill="#fff" stroke="#f04e22" stroke-width="2.1"/>
<circle cx="945.7" cy="736.7" r="4.1" fill="#f04e22"/>
<circle cx="958.8" cy="736.5" r="3.1" fill="#fff" stroke="#f04e22" stroke-width="2.1"/>
<circle cx="972" cy="738.3" r="4.1" fill="#f04e22"/>
<path clip-path="url(#clipb)" d="M133.6 801.5L143.1 810.8L156.2 825.9L169.2 827.5L182.3 827.3L195.4 826.3L209 820.8L222.1 814.4L235 804.7L248.2 795.7L261.7 789.5L274.7 785.7L287.8 782L300.9 780.6L314.1 781.6L327.1 784.6L340.2 792.7L353.3 803.7L367.3 815.8L380.4 830.9L392.5 839.9L406.5 833.9L419.6 816.8L432.7 794.7L445.7 773.6L458.8 755.5L471.9 740.4L484.9 726.4L498 713.8L511.1 704.2L525.2 695.2L538.2 688.2L551.3 682.1L564.4 678.1L577.4 675.1L590.5 674.1L603.6 673.7L617 674.5L630.1 676.1L643.4 678.1L656.8 682.1L669.9 686.8L682.1 692.2L695.1 698.2L709.2 705.3L722.3 713.3L735.3 723.3L748.4 733.4L761.5 745.5L774.5 759.5L788.6 779.6L801.7 798.7L814.7 819.8L827.8 839.9L840.8 841L853.8 818.5L867 796L880 774.8L893.2 758.9L906.2 746.3L919.5 736L932.7 730.3L945.7 728L958.9 726.9L972 728.5L982.2 731.5" fill="none" stroke="#c552b3" stroke-width="3.1" stroke-dasharray="11 10.6"/>
<path d="M140 810.8H146.2M143.1 807.6V814" stroke="#c552b3" stroke-width="2.8" fill="none"/>
<path d="M153.2 825.9H159.4M156.3 822.7V829.1" stroke="#c552b3" stroke-width="2.8" fill="none"/>
<path d="M166.3 827.5H172.5M169.4 824.3V830.7" stroke="#c552b3" stroke-width="2.8" fill="none"/>
<path d="M179.5 827.3H185.7M182.6 824.1V830.5" stroke="#c552b3" stroke-width="2.8" fill="none"/>
<path d="M192.6 826.2H198.8M195.7 823V829.4" stroke="#c552b3" stroke-width="2.8" fill="none"/>
<path d="M205.8 820.8H212M208.9 817.6V824" stroke="#c552b3" stroke-width="2.8" fill="none"/>
<path d="M218.9 814.4H225.1M222 811.2V817.6" stroke="#c552b3" stroke-width="2.8" fill="none"/>
<path d="M232.1 804.6H238.3M235.2 801.4V807.8" stroke="#c552b3" stroke-width="2.8" fill="none"/>
<path d="M245.3 795.6H251.5M248.4 792.4V798.8" stroke="#c552b3" stroke-width="2.8" fill="none"/>
<path d="M258.4 789.6H264.6M261.5 786.4V792.8" stroke="#c552b3" stroke-width="2.8" fill="none"/>
<path d="M271.6 785.7H277.8M274.7 782.5V788.9" stroke="#c552b3" stroke-width="2.8" fill="none"/>
<path d="M284.7 782H290.9M287.8 778.8V785.2" stroke="#c552b3" stroke-width="2.8" fill="none"/>
<path d="M297.9 780.6H304.1M301 777.4V783.8" stroke="#c552b3" stroke-width="2.8" fill="none"/>
<path d="M311 781.6H317.2M314.1 778.4V784.8" stroke="#c552b3" stroke-width="2.8" fill="none"/>
<path d="M324.2 784.7H330.4M327.3 781.5V787.9" stroke="#c552b3" stroke-width="2.8" fill="none"/>
<path d="M337.4 792.9H343.6M340.5 789.7V796.1" stroke="#c552b3" stroke-width="2.8" fill="none"/>
<path d="M350.5 804H356.7M353.6 800.8V807.2" stroke="#c552b3" stroke-width="2.8" fill="none"/>
<path d="M363.7 815.3H369.9M366.8 812.1V818.5" stroke="#c552b3" stroke-width="2.8" fill="none"/>
<path d="M376.8 830.4H383M379.9 827.2V833.6" stroke="#c552b3" stroke-width="2.8" fill="none"/>
<path d="M390 839.7H396.2M393.1 836.5V842.9" stroke="#c552b3" stroke-width="2.8" fill="none"/>
<path d="M403.1 834H409.3M406.2 830.8V837.2" stroke="#c552b3" stroke-width="2.8" fill="none"/>
<path d="M416.3 817.1H422.5M419.4 813.9V820.3" stroke="#c552b3" stroke-width="2.8" fill="none"/>
<path d="M429.5 794.9H435.7M432.6 791.7V798.1" stroke="#c552b3" stroke-width="2.8" fill="none"/>
<path d="M442.6 773.6H448.8M445.7 770.4V776.8" stroke="#c552b3" stroke-width="2.8" fill="none"/>
<path d="M455.8 755.4H462M458.9 752.2V758.6" stroke="#c552b3" stroke-width="2.8" fill="none"/>
<path d="M468.9 740.3H475.1M472 737.1V743.5" stroke="#c552b3" stroke-width="2.8" fill="none"/>
<path d="M482.1 726.1H488.3M485.2 722.9V729.3" stroke="#c552b3" stroke-width="2.8" fill="none"/>
<path d="M495.2 713.6H501.4M498.3 710.4V716.8" stroke="#c552b3" stroke-width="2.8" fill="none"/>
<path d="M508.4 703.9H514.6M511.5 700.7V707.1" stroke="#c552b3" stroke-width="2.8" fill="none"/>
<path d="M521.6 695.5H527.8M524.7 692.3V698.7" stroke="#c552b3" stroke-width="2.8" fill="none"/>
<path d="M534.7 688.4H540.9M537.8 685.2V691.6" stroke="#c552b3" stroke-width="2.8" fill="none"/>
<path d="M547.9 682.3H554.1M551 679.1V685.5" stroke="#c552b3" stroke-width="2.8" fill="none"/>
<path d="M561 678.2H567.2M564.1 675V681.4" stroke="#c552b3" stroke-width="2.8" fill="none"/>
<path d="M574.2 675.1H580.4M577.3 671.9V678.3" stroke="#c552b3" stroke-width="2.8" fill="none"/>
<path d="M587.3 674.1H593.5M590.4 670.9V677.3" stroke="#c552b3" stroke-width="2.8" fill="none"/>
<path d="M600.5 673.7H606.7M603.6 670.5V676.9" stroke="#c552b3" stroke-width="2.8" fill="none"/>
<path d="M613.7 674.5H619.9M616.8 671.3V677.7" stroke="#c552b3" stroke-width="2.8" fill="none"/>
<path d="M626.8 676.1H633M629.9 672.9V679.3" stroke="#c552b3" stroke-width="2.8" fill="none"/>
<path d="M640 678H646.2M643.1 674.8V681.2" stroke="#c552b3" stroke-width="2.8" fill="none"/>
<path d="M653.1 681.9H659.3M656.2 678.7V685.1" stroke="#c552b3" stroke-width="2.8" fill="none"/>
<path d="M666.3 686.6H672.5M669.4 683.4V689.8" stroke="#c552b3" stroke-width="2.8" fill="none"/>
<path d="M679.4 692.4H685.6M682.5 689.2V695.6" stroke="#c552b3" stroke-width="2.8" fill="none"/>
<path d="M692.6 698.5H698.8M695.7 695.3V701.7" stroke="#c552b3" stroke-width="2.8" fill="none"/>
<path d="M705.8 705.1H712M708.9 701.9V708.3" stroke="#c552b3" stroke-width="2.8" fill="none"/>
<path d="M718.9 713.1H725.1M722 709.9V716.3" stroke="#c552b3" stroke-width="2.8" fill="none"/>
<path d="M732.1 723.2H738.3M735.2 720V726.4" stroke="#c552b3" stroke-width="2.8" fill="none"/>
<path d="M745.2 733.3H751.4M748.3 730.1V736.5" stroke="#c552b3" stroke-width="2.8" fill="none"/>
<path d="M758.4 745.5H764.6M761.5 742.3V748.7" stroke="#c552b3" stroke-width="2.8" fill="none"/>
<path d="M771.5 759.7H777.7M774.6 756.5V762.9" stroke="#c552b3" stroke-width="2.8" fill="none"/>
<path d="M784.7 778.4H790.9M787.8 775.2V781.6" stroke="#c552b3" stroke-width="2.8" fill="none"/>
<path d="M797.9 797.6H804.1M801 794.4V800.8" stroke="#c552b3" stroke-width="2.8" fill="none"/>
<path d="M811 818.8H817.2M814.1 815.6V822" stroke="#c552b3" stroke-width="2.8" fill="none"/>
<path d="M824.2 839.1H830.4M827.3 835.9V842.3" stroke="#c552b3" stroke-width="2.8" fill="none"/>
<path d="M837.3 841H843.5M840.4 837.8V844.2" stroke="#c552b3" stroke-width="2.8" fill="none"/>
<path d="M850.5 818.9H856.7M853.6 815.7V822.1" stroke="#c552b3" stroke-width="2.8" fill="none"/>
<path d="M863.6 796.5H869.8M866.7 793.3V799.7" stroke="#c552b3" stroke-width="2.8" fill="none"/>
<path d="M876.8 775H883M879.9 771.8V778.2" stroke="#c552b3" stroke-width="2.8" fill="none"/>
<path d="M889.9 759.1H896.1M893 755.9V762.3" stroke="#c552b3" stroke-width="2.8" fill="none"/>
<path d="M903.1 746.3H909.3M906.2 743.1V749.5" stroke="#c552b3" stroke-width="2.8" fill="none"/>
<path d="M916.3 736.1H922.5M919.4 732.9V739.3" stroke="#c552b3" stroke-width="2.8" fill="none"/>
<path d="M929.4 730.4H935.6M932.5 727.2V733.6" stroke="#c552b3" stroke-width="2.8" fill="none"/>
<path d="M942.6 728H948.8M945.7 724.8V731.2" stroke="#c552b3" stroke-width="2.8" fill="none"/>
<path d="M955.7 726.9H961.9M958.8 723.7V730.1" stroke="#c552b3" stroke-width="2.8" fill="none"/>
<path d="M968.9 728.5H975.1M972 725.3V731.7" stroke="#c552b3" stroke-width="2.8" fill="none"/>
<path clip-path="url(#clipb)" d="M133.6 799.7L155.2 791.7L175.3 783.6L195.4 775.6L215.5 768.6L235.6 761.5L255.7 753.5L275.8 745.5L295.9 736.4L320.1 725.4L340.2 715.3L360.3 706.3L380.4 698.2L400.5 690.2L420.6 682.1L440.7 675.1L460.8 669.1L480.9 666.1L490 666.5L500 670.1L510.1 674.1L520.2 678.1L530.2 683.1L540.3 689.2L550.3 697.2L560.4 704.2L570.4 710.3L580.5 718.3L590.5 726.4L600.6 734.4L610.6 742.4L620.7 750.5L630.7 759.5L639.7 768.6L648.8 777.6L658.8 788.7L668.9 800.7L678.9 813.8L689 827.9L697.1 845L707.2 868.1L717.2 906.3L726.9 975.7L737.3 903.3L746.4 799.7L757 711.3L767.5 751.5L776.5 797.7L786.6 828.9L796.6 856.5L806.7 885.2L816.7 917.4L825.8 955.6L835.8 1015.9L845.6 1185L855.9 1043L864.7 980.3L874.9 944.9L884.8 920.9L894.8 902.7L904.6 886.7L914.9 875.3L924.7 865L934.7 855.9L944.6 847.9L954.4 841L964.4 834.2L974.2 827.3" fill="none" stroke="#161616" stroke-width="3.1" stroke-dasharray="11 10.6"/>
<path d="M137.3 794.1L137.3 805.1L128.7 799.6Z" fill="#161616"/>
<path d="M147.2 790.4L147.2 801.4L138.6 795.9Z" fill="#161616"/>
<path d="M157.1 786.8L157.1 797.8L148.5 792.3Z" fill="#161616"/>
<path d="M167 782.8L167 793.8L158.4 788.3Z" fill="#161616"/>
<path d="M176.9 778.8L176.9 789.8L168.3 784.3Z" fill="#161616"/>
<path d="M186.8 774.9L186.8 785.9L178.2 780.4Z" fill="#161616"/>
<path d="M196.7 770.9L196.7 781.9L188.1 776.4Z" fill="#161616"/>
<path d="M206.6 767.4L206.6 778.4L198 772.9Z" fill="#161616"/>
<path d="M216.5 763.9L216.5 774.9L207.9 769.4Z" fill="#161616"/>
<path d="M226.4 760.5L226.4 771.5L217.8 766Z" fill="#161616"/>
<path d="M236.3 757L236.3 768L227.7 762.5Z" fill="#161616"/>
<path d="M246.2 753.1L246.2 764.1L237.6 758.6Z" fill="#161616"/>
<path d="M256.1 749.2L256.1 760.2L247.5 754.7Z" fill="#161616"/>
<path d="M266 745.3L266 756.3L257.4 750.8Z" fill="#161616"/>
<path d="M275.9 741.3L275.9 752.3L267.3 746.8Z" fill="#161616"/>
<path d="M285.8 737L285.8 748L277.2 742.5Z" fill="#161616"/>
<path d="M295.6 732.6L295.6 743.6L287 738.1Z" fill="#161616"/>
<path d="M305.5 728.1L305.5 739.1L296.9 733.6Z" fill="#161616"/>
<path d="M315.4 723.6L315.4 734.6L306.8 729.1Z" fill="#161616"/>
<path d="M325.3 719L325.3 730L316.7 724.5Z" fill="#161616"/>
<path d="M335.2 714L335.2 725L326.6 719.5Z" fill="#161616"/>
<path d="M345.1 709.1L345.1 720.1L336.5 714.6Z" fill="#161616"/>
<path d="M355 704.7L355 715.7L346.4 710.2Z" fill="#161616"/>
<path d="M364.9 700.3L364.9 711.3L356.3 705.8Z" fill="#161616"/>
<path d="M374.8 696.3L374.8 707.3L366.2 701.8Z" fill="#161616"/>
<path d="M384.7 692.3L384.7 703.3L376.1 697.8Z" fill="#161616"/>
<path d="M394.6 688.4L394.6 699.4L386 693.9Z" fill="#161616"/>
<path d="M404.5 684.5L404.5 695.5L395.9 690Z" fill="#161616"/>
<path d="M414.4 680.5L414.4 691.5L405.8 686Z" fill="#161616"/>
<path d="M424.3 676.5L424.3 687.5L415.7 682Z" fill="#161616"/>
<path d="M434.2 673L434.2 684L425.6 678.5Z" fill="#161616"/>
<path d="M444.1 669.6L444.1 680.6L435.5 675.1Z" fill="#161616"/>
<path d="M454 666.6L454 677.6L445.4 672.1Z" fill="#161616"/>
<path d="M463.9 663.7L463.9 674.7L455.3 669.2Z" fill="#161616"/>
<path d="M473.8 662.2L473.8 673.2L465.2 667.7Z" fill="#161616"/>
<path d="M483.7 660.7L483.7 671.7L475.1 666.2Z" fill="#161616"/>
<path d="M493.6 661.1L493.6 672.1L485 666.6Z" fill="#161616"/>
<path d="M503.5 664.6L503.5 675.6L494.9 670.1Z" fill="#161616"/>
<path d="M513.4 668.6L513.4 679.6L504.8 674.1Z" fill="#161616"/>
<path d="M523.3 672.5L523.3 683.5L514.7 678Z" fill="#161616"/>
<path d="M533.2 677.4L533.2 688.4L524.6 682.9Z" fill="#161616"/>
<path d="M543.1 683.3L543.1 694.3L534.5 688.8Z" fill="#161616"/>
<path d="M553 691.1L553 702.1L544.4 696.6Z" fill="#161616"/>
<path d="M562.9 698.1L562.9 709.1L554.3 703.6Z" fill="#161616"/>
<path d="M572.8 704.2L572.8 715.2L564.2 709.7Z" fill="#161616"/>
<path d="M582.7 711.8L582.7 722.8L574.1 717.3Z" fill="#161616"/>
<path d="M592.6 719.8L592.6 730.8L584 725.3Z" fill="#161616"/>
<path d="M602.5 727.7L602.5 738.7L593.9 733.2Z" fill="#161616"/>
<path d="M612.3 735.6L612.3 746.6L603.7 741.1Z" fill="#161616"/>
<path d="M622.2 743.5L622.2 754.5L613.6 749Z" fill="#161616"/>
<path d="M632.1 752.2L632.1 763.2L623.5 757.7Z" fill="#161616"/>
<path d="M642 762L642 773L633.4 767.5Z" fill="#161616"/>
<path d="M651.9 771.8L651.9 782.8L643.3 777.3Z" fill="#161616"/>
<path d="M661.8 782.8L661.8 793.8L653.2 788.3Z" fill="#161616"/>
<path d="M671.7 794.5L671.7 805.5L663.1 800Z" fill="#161616"/>
<path d="M681.6 807.4L681.6 818.4L673 812.9Z" fill="#161616"/>
<path d="M691.5 821.2L691.5 832.2L682.9 826.7Z" fill="#161616"/>
<path d="M701.4 841.6L701.4 852.6L692.8 847.1Z" fill="#161616"/>
<path d="M711.3 865.3L711.3 876.3L702.7 870.8Z" fill="#161616"/>
<path d="M721.2 905.2L721.2 916.2L712.6 910.7Z" fill="#161616"/>
<path d="M731.1 964.6L731.1 975.6L722.5 970.1Z" fill="#161616"/>
<path d="M741 894.3L741 905.3L732.4 899.8Z" fill="#161616"/>
<path d="M750.9 785L750.9 796L742.3 790.5Z" fill="#161616"/>
<path d="M760.8 707.3L760.8 718.3L752.2 712.8Z" fill="#161616"/>
<path d="M770.7 745.2L770.7 756.2L762.1 750.7Z" fill="#161616"/>
<path d="M780.6 794.3L780.6 805.3L772 799.8Z" fill="#161616"/>
<path d="M790.5 824.8L790.5 835.8L781.9 830.3Z" fill="#161616"/>
<path d="M800.4 852.1L800.4 863.1L791.8 857.6Z" fill="#161616"/>
<path d="M810.3 880.3L810.3 891.3L801.7 885.8Z" fill="#161616"/>
<path d="M820.2 912.2L820.2 923.2L811.6 917.7Z" fill="#161616"/>
<path d="M830.1 955.4L830.1 966.4L821.5 960.9Z" fill="#161616"/>
<path d="M840 1023.8L840 1034.8L831.4 1029.3Z" fill="#161616"/>
<path d="M859.8 1034.2L859.8 1045.2L851.2 1039.7Z" fill="#161616"/>
<path d="M869.7 969.4L869.7 980.4L861.1 974.9Z" fill="#161616"/>
<path d="M879.6 936.3L879.6 947.3L871 941.8Z" fill="#161616"/>
<path d="M889.5 913.1L889.5 924.1L880.9 918.6Z" fill="#161616"/>
<path d="M899.4 895.3L899.4 906.3L890.8 900.8Z" fill="#161616"/>
<path d="M909.3 879.8L909.3 890.8L900.7 885.3Z" fill="#161616"/>
<path d="M919.1 868.9L919.1 879.9L910.5 874.4Z" fill="#161616"/>
<path d="M929 858.6L929 869.6L920.4 864.1Z" fill="#161616"/>
<path d="M938.9 849.7L938.9 860.7L930.3 855.2Z" fill="#161616"/>
<path d="M948.8 841.8L948.8 852.8L940.2 847.3Z" fill="#161616"/>
<path d="M958.7 834.9L958.7 845.9L950.1 840.4Z" fill="#161616"/>
<path d="M968.6 828.1L968.6 839.1L960 833.6Z" fill="#161616"/>
<path d="M978.5 821.8L978.5 832.8L969.9 827.3Z" fill="#161616"/>
<path clip-path="url(#clipb)" d="M133.6 838.9L143.1 844.9L156.2 858.5L169.2 871.1L182.3 878.1L195.4 875.5L209 860L222.1 837.9L235 816.8L248.2 796.7L261.7 777.6L274.7 761.5L287.8 746.5L300.9 733.4L314.1 723.3L327.1 713.3L340.2 704.2L354.3 697.2L367.3 691.2L380.4 687.2L393.5 684.1L406.5 681.1L419.6 680.1L432.7 679.1L445.7 678.7L459.8 679.5L472.9 680.7L485.9 681.5L497 682L510.1 684.1L524.2 688.2L537.2 692.2L550.3 696.2L563.4 702.2L576.8 708.3L590.1 715.3L603.6 724.3L617 733.4L630.1 742.4L643.4 754.5L656.8 768.6L669.9 788L683.1 810.8L696.1 832.9L709.2 856L722.3 878.2L735.3 898.3L748.4 859.5L761.5 799.7L774.5 731L787.6 771.6L800.7 822L814.7 876.2L827.8 921.4L840.6 979.5L854.5 1040.4L867 1085L880 979.1L893.2 927.8L906.2 895.8L919.5 870.7L932.7 851.3L945.7 836.5L958.9 825.1L972 815.9L982.2 810.2" fill="none" stroke="#06a54b" stroke-width="3.1" stroke-dasharray="11 10.6"/>
<path d="M143.1 839L147.1 844.9L143.1 850.8L139.1 844.9Z" fill="#06a54b"/>
<path d="M156.3 852.7L160.3 858.6L156.3 864.5L152.3 858.6Z" fill="#06a54b"/>
<path d="M169.4 865.3L173.4 871.2L169.4 877.1L165.4 871.2Z" fill="#06a54b"/>
<path d="M182.6 872.1L186.6 878L182.6 883.9L178.6 878Z" fill="#06a54b"/>
<path d="M195.7 869.2L199.7 875.1L195.7 881L191.7 875.1Z" fill="#06a54b"/>
<path d="M208.9 854.2L212.9 860.1L208.9 866L204.9 860.1Z" fill="#06a54b"/>
<path d="M222 832.1L226 838L222 843.9L218 838Z" fill="#06a54b"/>
<path d="M235.2 810.6L239.2 816.5L235.2 822.4L231.2 816.5Z" fill="#06a54b"/>
<path d="M248.4 790.6L252.4 796.5L248.4 802.4L244.4 796.5Z" fill="#06a54b"/>
<path d="M261.5 772L265.5 777.9L261.5 783.8L257.5 777.9Z" fill="#06a54b"/>
<path d="M274.7 755.6L278.7 761.5L274.7 767.4L270.7 761.5Z" fill="#06a54b"/>
<path d="M287.8 740.6L291.8 746.5L287.8 752.4L283.8 746.5Z" fill="#06a54b"/>
<path d="M301 727.4L305 733.3L301 739.2L297 733.3Z" fill="#06a54b"/>
<path d="M314.1 717.4L318.1 723.3L314.1 729.2L310.1 723.3Z" fill="#06a54b"/>
<path d="M327.3 707.3L331.3 713.2L327.3 719.1L323.3 713.2Z" fill="#06a54b"/>
<path d="M340.5 698.2L344.5 704.1L340.5 710L336.5 704.1Z" fill="#06a54b"/>
<path d="M353.6 691.6L357.6 697.5L353.6 703.4L349.6 697.5Z" fill="#06a54b"/>
<path d="M366.8 685.5L370.8 691.4L366.8 697.3L362.8 691.4Z" fill="#06a54b"/>
<path d="M379.9 681.4L383.9 687.3L379.9 693.2L375.9 687.3Z" fill="#06a54b"/>
<path d="M393.1 678.3L397.1 684.2L393.1 690.1L389.1 684.2Z" fill="#06a54b"/>
<path d="M406.2 675.3L410.2 681.2L406.2 687.1L402.2 681.2Z" fill="#06a54b"/>
<path d="M419.4 674.2L423.4 680.1L419.4 686L415.4 680.1Z" fill="#06a54b"/>
<path d="M432.6 673.2L436.6 679.1L432.6 685L428.6 679.1Z" fill="#06a54b"/>
<path d="M445.7 672.8L449.7 678.7L445.7 684.6L441.7 678.7Z" fill="#06a54b"/>
<path d="M458.9 673.5L462.9 679.4L458.9 685.3L454.9 679.4Z" fill="#06a54b"/>
<path d="M472 674.7L476 680.6L472 686.5L468 680.6Z" fill="#06a54b"/>
<path d="M485.2 675.6L489.2 681.5L485.2 687.4L481.2 681.5Z" fill="#06a54b"/>
<path d="M498.3 676.3L502.3 682.2L498.3 688.1L494.3 682.2Z" fill="#06a54b"/>
<path d="M511.5 678.6L515.5 684.5L511.5 690.4L507.5 684.5Z" fill="#06a54b"/>
<path d="M524.7 682.4L528.7 688.3L524.7 694.2L520.7 688.3Z" fill="#06a54b"/>
<path d="M537.8 686.5L541.8 692.4L537.8 698.3L533.8 692.4Z" fill="#06a54b"/>
<path d="M551 690.6L555 696.5L551 702.4L547 696.5Z" fill="#06a54b"/>
<path d="M564.1 696.6L568.1 702.5L564.1 708.4L560.1 702.5Z" fill="#06a54b"/>
<path d="M577.3 702.7L581.3 708.6L577.3 714.5L573.3 708.6Z" fill="#06a54b"/>
<path d="M590.4 709.6L594.4 715.5L590.4 721.4L586.4 715.5Z" fill="#06a54b"/>
<path d="M603.6 718.4L607.6 724.3L603.6 730.2L599.6 724.3Z" fill="#06a54b"/>
<path d="M616.8 727.3L620.8 733.2L616.8 739.1L612.8 733.2Z" fill="#06a54b"/>
<path d="M629.9 736.4L633.9 742.3L629.9 748.2L625.9 742.3Z" fill="#06a54b"/>
<path d="M643.1 748.3L647.1 754.2L643.1 760.1L639.1 754.2Z" fill="#06a54b"/>
<path d="M656.2 762.1L660.2 768L656.2 773.9L652.2 768Z" fill="#06a54b"/>
<path d="M669.4 781.3L673.4 787.2L669.4 793.1L665.4 787.2Z" fill="#06a54b"/>
<path d="M682.5 803.9L686.5 809.8L682.5 815.7L678.5 809.8Z" fill="#06a54b"/>
<path d="M695.7 826.3L699.7 832.2L695.7 838.1L691.7 832.2Z" fill="#06a54b"/>
<path d="M708.9 849.5L712.9 855.4L708.9 861.3L704.9 855.4Z" fill="#06a54b"/>
<path d="M722 871.8L726 877.7L722 883.6L718 877.7Z" fill="#06a54b"/>
<path d="M735.2 892.2L739.2 898.1L735.2 904L731.2 898.1Z" fill="#06a54b"/>
<path d="M748.3 853.8L752.3 859.7L748.3 865.6L744.3 859.7Z" fill="#06a54b"/>
<path d="M761.5 793.9L765.5 799.8L761.5 805.7L757.5 799.8Z" fill="#06a54b"/>
<path d="M774.6 725.5L778.6 731.4L774.6 737.3L770.6 731.4Z" fill="#06a54b"/>
<path d="M787.8 766.4L791.8 772.3L787.8 778.2L783.8 772.3Z" fill="#06a54b"/>
<path d="M801 817.1L805 823L801 828.9L797 823Z" fill="#06a54b"/>
<path d="M814.1 868L818.1 873.9L814.1 879.8L810.1 873.9Z" fill="#06a54b"/>
<path d="M827.3 913.7L831.3 919.6L827.3 925.5L823.3 919.6Z" fill="#06a54b"/>
<path d="M840.4 972.8L844.4 978.7L840.4 984.6L836.4 978.7Z" fill="#06a54b"/>
<path d="M853.6 1030.5L857.6 1036.4L853.6 1042.3L849.6 1036.4Z" fill="#06a54b"/>
<path d="M879.9 974.1L883.9 980L879.9 985.9L875.9 980Z" fill="#06a54b"/>
<path d="M893 922.5L897 928.4L893 934.3L889 928.4Z" fill="#06a54b"/>
<path d="M906.2 889.9L910.2 895.8L906.2 901.7L902.2 895.8Z" fill="#06a54b"/>
<path d="M919.4 865.1L923.4 871L919.4 876.9L915.4 871Z" fill="#06a54b"/>
<path d="M932.5 845.7L936.5 851.6L932.5 857.5L928.5 851.6Z" fill="#06a54b"/>
<path d="M945.7 830.6L949.7 836.5L945.7 842.4L941.7 836.5Z" fill="#06a54b"/>
<path d="M958.8 819.3L962.8 825.2L958.8 831.1L954.8 825.2Z" fill="#06a54b"/>
<path d="M972 810L976 815.9L972 821.8L968 815.9Z" fill="#06a54b"/>
<path clip-path="url(#clipb)" d="M133.6 843.9L143.1 853L156.2 870.1L169.2 889.2L183.3 905.9L195.4 905.3L209.4 884.2L222.1 855.5L235 829.9L248.2 806.8L261.7 786.7L274.7 769.6L287.8 753.5L300.9 741.4L314.1 729.4L327.1 718.3L340.2 710.3L354.3 703.2L367.3 698.2L380.4 694.2L393.5 690.2L406.5 687.2L419.6 684.7L432.7 683.1L445.7 682.1L459.8 682.1L472.9 682.1L485.9 683.1L497 684.1L510.1 686.2L524.2 690.2L537.2 694.2L550.3 698.2L563.4 704.2L576.8 711.3L590.1 719.3L603.6 728.4L617 738.4L630.1 751.5L643.4 766.6L656.8 786.7L669.9 807.8L683.1 829.9L696.1 852.5L709.2 874.1L722.3 891.2L735.9 907.3L749.4 868.1L762.5 809.8L774.5 749.5L787.6 794.7L800.7 850L814.7 890.2L827.8 949.5L840.5 1056.1L853.8 1071.3L867 1054.3L880 964.3L893.2 903.8L906.2 867.3L919.5 837.6L932.7 823.9L945.7 814.8L958.9 809.1L972 804.5L982.2 803.4" fill="none" stroke="#0fabb8" stroke-width="3.1" stroke-dasharray="11 10.6"/>
<path d="M139.5 847.4L139.5 858.6L148.8 853Z" fill="#0fabb8"/>
<path d="M152.7 864.6L152.7 875.8L162 870.2Z" fill="#0fabb8"/>
<path d="M165.8 883.9L165.8 895.1L175.1 889.5Z" fill="#0fabb8"/>
<path d="M179 899.4L179 910.6L188.3 905Z" fill="#0fabb8"/>
<path d="M192.1 899.2L192.1 910.4L201.4 904.8Z" fill="#0fabb8"/>
<path d="M205.3 879.4L205.3 890.6L214.6 885Z" fill="#0fabb8"/>
<path d="M218.4 850L218.4 861.2L227.7 855.6Z" fill="#0fabb8"/>
<path d="M231.6 824L231.6 835.2L240.9 829.6Z" fill="#0fabb8"/>
<path d="M244.8 801L244.8 812.2L254.1 806.6Z" fill="#0fabb8"/>
<path d="M257.9 781.4L257.9 792.6L267.2 787Z" fill="#0fabb8"/>
<path d="M271.1 764L271.1 775.2L280.4 769.6Z" fill="#0fabb8"/>
<path d="M284.2 747.9L284.2 759.1L293.5 753.5Z" fill="#0fabb8"/>
<path d="M297.4 735.7L297.4 746.9L306.7 741.3Z" fill="#0fabb8"/>
<path d="M310.5 723.8L310.5 735L319.8 729.4Z" fill="#0fabb8"/>
<path d="M323.7 712.6L323.7 723.8L333 718.2Z" fill="#0fabb8"/>
<path d="M336.9 704.6L336.9 715.8L346.2 710.2Z" fill="#0fabb8"/>
<path d="M350 697.9L350 709.1L359.3 703.5Z" fill="#0fabb8"/>
<path d="M363.2 692.8L363.2 704L372.5 698.4Z" fill="#0fabb8"/>
<path d="M376.3 688.7L376.3 699.9L385.6 694.3Z" fill="#0fabb8"/>
<path d="M389.5 684.7L389.5 695.9L398.8 690.3Z" fill="#0fabb8"/>
<path d="M402.6 681.7L402.6 692.9L411.9 687.3Z" fill="#0fabb8"/>
<path d="M415.8 679.1L415.8 690.3L425.1 684.7Z" fill="#0fabb8"/>
<path d="M429 677.5L429 688.7L438.3 683.1Z" fill="#0fabb8"/>
<path d="M442.1 676.5L442.1 687.7L451.4 682.1Z" fill="#0fabb8"/>
<path d="M455.3 676.5L455.3 687.7L464.6 682.1Z" fill="#0fabb8"/>
<path d="M468.4 676.5L468.4 687.7L477.7 682.1Z" fill="#0fabb8"/>
<path d="M481.6 677.4L481.6 688.6L490.9 683Z" fill="#0fabb8"/>
<path d="M494.7 678.7L494.7 689.9L504 684.3Z" fill="#0fabb8"/>
<path d="M507.9 681L507.9 692.2L517.2 686.6Z" fill="#0fabb8"/>
<path d="M521.1 684.7L521.1 695.9L530.4 690.3Z" fill="#0fabb8"/>
<path d="M534.2 688.8L534.2 700L543.5 694.4Z" fill="#0fabb8"/>
<path d="M547.4 692.9L547.4 704.1L556.7 698.5Z" fill="#0fabb8"/>
<path d="M560.5 699L560.5 710.2L569.8 704.6Z" fill="#0fabb8"/>
<path d="M573.7 706L573.7 717.2L583 711.6Z" fill="#0fabb8"/>
<path d="M586.8 713.9L586.8 725.1L596.1 719.5Z" fill="#0fabb8"/>
<path d="M600 722.8L600 734L609.3 728.4Z" fill="#0fabb8"/>
<path d="M613.2 732.6L613.2 743.8L622.5 738.2Z" fill="#0fabb8"/>
<path d="M626.3 745.7L626.3 756.9L635.6 751.3Z" fill="#0fabb8"/>
<path d="M639.5 760.6L639.5 771.8L648.8 766.2Z" fill="#0fabb8"/>
<path d="M652.6 780.2L652.6 791.4L661.9 785.8Z" fill="#0fabb8"/>
<path d="M665.8 801.4L665.8 812.6L675.1 807Z" fill="#0fabb8"/>
<path d="M678.9 823.4L678.9 834.6L688.2 829Z" fill="#0fabb8"/>
<path d="M692.1 846.2L692.1 857.4L701.4 851.8Z" fill="#0fabb8"/>
<path d="M705.3 867.9L705.3 879.1L714.6 873.5Z" fill="#0fabb8"/>
<path d="M718.4 885.2L718.4 896.4L727.7 890.8Z" fill="#0fabb8"/>
<path d="M731.6 900.8L731.6 912L740.9 906.4Z" fill="#0fabb8"/>
<path d="M744.7 865.6L744.7 876.8L754 871.2Z" fill="#0fabb8"/>
<path d="M757.9 808.7L757.9 819.9L767.2 814.3Z" fill="#0fabb8"/>
<path d="M771 744.4L771 755.6L780.3 750Z" fill="#0fabb8"/>
<path d="M784.2 789.9L784.2 801.1L793.5 795.5Z" fill="#0fabb8"/>
<path d="M797.4 845.1L797.4 856.3L806.7 850.7Z" fill="#0fabb8"/>
<path d="M810.5 882.9L810.5 894.1L819.8 888.5Z" fill="#0fabb8"/>
<path d="M823.7 941.5L823.7 952.7L833 947.1Z" fill="#0fabb8"/>
<path d="M836.8 1049.8L836.8 1061L846.1 1055.4Z" fill="#0fabb8"/>
<path d="M850 1065.4L850 1076.6L859.3 1071Z" fill="#0fabb8"/>
<path d="M863.1 1049L863.1 1060.2L872.4 1054.6Z" fill="#0fabb8"/>
<path d="M876.3 959.4L876.3 970.6L885.6 965Z" fill="#0fabb8"/>
<path d="M889.4 898.9L889.4 910.1L898.7 904.5Z" fill="#0fabb8"/>
<path d="M902.6 861.7L902.6 872.9L911.9 867.3Z" fill="#0fabb8"/>
<path d="M915.8 832.3L915.8 843.5L925.1 837.9Z" fill="#0fabb8"/>
<path d="M928.9 818.5L928.9 829.7L938.2 824.1Z" fill="#0fabb8"/>
<path d="M942.1 809.2L942.1 820.4L951.4 814.8Z" fill="#0fabb8"/>
<path d="M955.2 803.5L955.2 814.7L964.5 809.1Z" fill="#0fabb8"/>
<path d="M968.4 798.9L968.4 810.1L977.7 804.5Z" fill="#0fabb8"/>
<path clip-path="url(#clipb)" d="M133.6 799.7L142.1 804.7L155.2 816.8L169.2 833.9L182.3 856L195.4 883.2L209 910.4L222.1 899.3L235 860.1L248.2 822.8L261.7 793.7L274.7 769.6L287.8 749.5L300.9 732.4L314.1 719.3L327.1 707.3L340.2 696.2L354.3 688.2L367.3 681.1L380.4 676.7L393.5 673.1L406.5 669.5L419.6 667.5L432.7 665.5L445.7 664.6L459.8 665.1L472.9 665.5L485.9 667.1L497 668.5L510.1 670.1L524.2 674.1L537.2 678.1L550.3 682.1L563.4 689.2L576.8 696.2L590.1 703.2L603.6 713.3L617 723.3L630.1 732.4L643.4 743.4L656.8 759.5L669.9 778.6L683.1 801.7L696.1 823.8L709.2 846L722.3 866.1L734.7 886.2L748.6 844.5L761.5 799.7L774.5 753.5L787.6 788.7L800.7 829.9L814.7 885.2L827.8 939.5L840.6 994.4L853.5 1012.6L866.5 978.9L880 942.6L893.2 868.4L906.2 836.5L919.5 819.3L932.7 806.8L945.7 798.8L958.9 793.1L972 789.7L982.2 788.5" fill="none" stroke="#a8324c" stroke-width="3.1" stroke-dasharray="11 10.6"/>
<path d="M140.4 802.5L145.8 808.7M140.4 808.7L145.8 802.5M139.5 805.6H146.7" stroke="#a8324c" stroke-width="2.4" fill="none"/>
<path d="M153.6 815L159 821.2M153.6 821.2L159 815M152.7 818.1H159.9" stroke="#a8324c" stroke-width="2.4" fill="none"/>
<path d="M166.7 831.2L172.1 837.4M166.7 837.4L172.1 831.2M165.8 834.3H173" stroke="#a8324c" stroke-width="2.4" fill="none"/>
<path d="M179.9 853.5L185.3 859.7M179.9 859.7L185.3 853.5M179 856.6H186.2" stroke="#a8324c" stroke-width="2.4" fill="none"/>
<path d="M193 880.8L198.4 887M193 887L198.4 880.8M192.1 883.9H199.3" stroke="#a8324c" stroke-width="2.4" fill="none"/>
<path d="M206.2 907.1L211.6 913.3M206.2 913.3L211.6 907.1M205.3 910.2H212.5" stroke="#a8324c" stroke-width="2.4" fill="none"/>
<path d="M219.3 896.2L224.7 902.4M219.3 902.4L224.7 896.2M218.4 899.3H225.6" stroke="#a8324c" stroke-width="2.4" fill="none"/>
<path d="M232.5 856.4L237.9 862.6M232.5 862.6L237.9 856.4M231.6 859.5H238.8" stroke="#a8324c" stroke-width="2.4" fill="none"/>
<path d="M245.7 819.4L251.1 825.6M245.7 825.6L251.1 819.4M244.8 822.5H252" stroke="#a8324c" stroke-width="2.4" fill="none"/>
<path d="M258.8 791L264.2 797.2M258.8 797.2L264.2 791M257.9 794.1H265.1" stroke="#a8324c" stroke-width="2.4" fill="none"/>
<path d="M272 766.6L277.4 772.8M272 772.8L277.4 766.6M271.1 769.7H278.3" stroke="#a8324c" stroke-width="2.4" fill="none"/>
<path d="M285.1 746.4L290.5 752.6M285.1 752.6L290.5 746.4M284.2 749.5H291.4" stroke="#a8324c" stroke-width="2.4" fill="none"/>
<path d="M298.3 729.2L303.7 735.4M298.3 735.4L303.7 729.2M297.4 732.3H304.6" stroke="#a8324c" stroke-width="2.4" fill="none"/>
<path d="M311.4 716.2L316.8 722.4M311.4 722.4L316.8 716.2M310.5 719.3H317.7" stroke="#a8324c" stroke-width="2.4" fill="none"/>
<path d="M324.6 704L330 710.2M324.6 710.2L330 704M323.7 707.1H330.9" stroke="#a8324c" stroke-width="2.4" fill="none"/>
<path d="M337.8 693L343.2 699.2M337.8 699.2L343.2 693M336.9 696.1H344.1" stroke="#a8324c" stroke-width="2.4" fill="none"/>
<path d="M350.9 685.5L356.3 691.7M350.9 691.7L356.3 685.5M350 688.6H357.2" stroke="#a8324c" stroke-width="2.4" fill="none"/>
<path d="M364.1 678.3L369.5 684.5M364.1 684.5L369.5 678.3M363.2 681.4H370.4" stroke="#a8324c" stroke-width="2.4" fill="none"/>
<path d="M377.2 673.8L382.6 680M377.2 680L382.6 673.8M376.3 676.9H383.5" stroke="#a8324c" stroke-width="2.4" fill="none"/>
<path d="M390.4 670.1L395.8 676.3M390.4 676.3L395.8 670.1M389.5 673.2H396.7" stroke="#a8324c" stroke-width="2.4" fill="none"/>
<path d="M403.5 666.5L408.9 672.7M403.5 672.7L408.9 666.5M402.6 669.6H409.8" stroke="#a8324c" stroke-width="2.4" fill="none"/>
<path d="M416.7 664.4L422.1 670.6M416.7 670.6L422.1 664.4M415.8 667.5H423" stroke="#a8324c" stroke-width="2.4" fill="none"/>
<path d="M429.9 662.4L435.3 668.6M429.9 668.6L435.3 662.4M429 665.5H436.2" stroke="#a8324c" stroke-width="2.4" fill="none"/>
<path d="M443 661.5L448.4 667.7M443 667.7L448.4 661.5M442.1 664.6H449.3" stroke="#a8324c" stroke-width="2.4" fill="none"/>
<path d="M456.2 662L461.6 668.2M456.2 668.2L461.6 662M455.3 665.1H462.5" stroke="#a8324c" stroke-width="2.4" fill="none"/>
<path d="M469.3 662.4L474.7 668.6M469.3 668.6L474.7 662.4M468.4 665.5H475.6" stroke="#a8324c" stroke-width="2.4" fill="none"/>
<path d="M482.5 663.9L487.9 670.1M482.5 670.1L487.9 663.9M481.6 667H488.8" stroke="#a8324c" stroke-width="2.4" fill="none"/>
<path d="M495.6 665.6L501 671.8M495.6 671.8L501 665.6M494.7 668.7H501.9" stroke="#a8324c" stroke-width="2.4" fill="none"/>
<path d="M508.8 667.4L514.2 673.6M508.8 673.6L514.2 667.4M507.9 670.5H515.1" stroke="#a8324c" stroke-width="2.4" fill="none"/>
<path d="M522 671.1L527.4 677.3M522 677.3L527.4 671.1M521.1 674.2H528.3" stroke="#a8324c" stroke-width="2.4" fill="none"/>
<path d="M535.1 675.2L540.5 681.4M535.1 681.4L540.5 675.2M534.2 678.3H541.4" stroke="#a8324c" stroke-width="2.4" fill="none"/>
<path d="M548.3 679.4L553.7 685.6M548.3 685.6L553.7 679.4M547.4 682.5H554.6" stroke="#a8324c" stroke-width="2.4" fill="none"/>
<path d="M561.4 686.5L566.8 692.7M561.4 692.7L566.8 686.5M560.5 689.6H567.7" stroke="#a8324c" stroke-width="2.4" fill="none"/>
<path d="M574.6 693.4L580 699.6M574.6 699.6L580 693.4M573.7 696.5H580.9" stroke="#a8324c" stroke-width="2.4" fill="none"/>
<path d="M587.7 700.4L593.1 706.6M587.7 706.6L593.1 700.4M586.8 703.5H594" stroke="#a8324c" stroke-width="2.4" fill="none"/>
<path d="M600.9 710.2L606.3 716.4M600.9 716.4L606.3 710.2M600 713.3H607.2" stroke="#a8324c" stroke-width="2.4" fill="none"/>
<path d="M614.1 720L619.5 726.2M614.1 726.2L619.5 720M613.2 723.1H620.4" stroke="#a8324c" stroke-width="2.4" fill="none"/>
<path d="M627.2 729.2L632.6 735.4M627.2 735.4L632.6 729.2M626.3 732.3H633.5" stroke="#a8324c" stroke-width="2.4" fill="none"/>
<path d="M640.4 740L645.8 746.2M640.4 746.2L645.8 740M639.5 743.1H646.7" stroke="#a8324c" stroke-width="2.4" fill="none"/>
<path d="M653.5 755.7L658.9 761.9M653.5 761.9L658.9 755.7M652.6 758.8H659.8" stroke="#a8324c" stroke-width="2.4" fill="none"/>
<path d="M666.7 774.7L672.1 780.9M666.7 780.9L672.1 774.7M665.8 777.8H673" stroke="#a8324c" stroke-width="2.4" fill="none"/>
<path d="M679.8 797.6L685.2 803.8M679.8 803.8L685.2 797.6M678.9 800.7H686.1" stroke="#a8324c" stroke-width="2.4" fill="none"/>
<path d="M693 820L698.4 826.2M693 826.2L698.4 820M692.1 823.1H699.3" stroke="#a8324c" stroke-width="2.4" fill="none"/>
<path d="M706.2 842.3L711.6 848.5M706.2 848.5L711.6 842.3M705.3 845.4H712.5" stroke="#a8324c" stroke-width="2.4" fill="none"/>
<path d="M719.3 862.6L724.7 868.8M719.3 868.8L724.7 862.6M718.4 865.7H725.6" stroke="#a8324c" stroke-width="2.4" fill="none"/>
<path d="M732.5 881.7L737.9 887.9M732.5 887.9L737.9 881.7M731.6 884.8H738.8" stroke="#a8324c" stroke-width="2.4" fill="none"/>
<path d="M745.6 842.2L751 848.4M745.6 848.4L751 842.2M744.7 845.3H751.9" stroke="#a8324c" stroke-width="2.4" fill="none"/>
<path d="M758.8 796.7L764.2 802.9M758.8 802.9L764.2 796.7M757.9 799.8H765.1" stroke="#a8324c" stroke-width="2.4" fill="none"/>
<path d="M771.9 750.8L777.3 757M771.9 757L777.3 750.8M771 753.9H778.2" stroke="#a8324c" stroke-width="2.4" fill="none"/>
<path d="M785.1 786.2L790.5 792.4M785.1 792.4L790.5 786.2M784.2 789.3H791.4" stroke="#a8324c" stroke-width="2.4" fill="none"/>
<path d="M798.2 827.8L803.7 834M798.2 834L803.7 827.8M797.4 830.9H804.6" stroke="#a8324c" stroke-width="2.4" fill="none"/>
<path d="M811.4 879.8L816.8 886M811.4 886L816.8 879.8M810.5 882.9H817.7" stroke="#a8324c" stroke-width="2.4" fill="none"/>
<path d="M824.6 934.2L830 940.4M824.6 940.4L830 934.2M823.7 937.3H830.9" stroke="#a8324c" stroke-width="2.4" fill="none"/>
<path d="M837.7 990.5L843.1 996.7M837.7 996.7L843.1 990.5M836.8 993.6H844" stroke="#a8324c" stroke-width="2.4" fill="none"/>
<path d="M850.9 1009.3L856.3 1015.5M850.9 1015.5L856.3 1009.3M850 1012.4H857.2" stroke="#a8324c" stroke-width="2.4" fill="none"/>
<path d="M864 975.2L869.4 981.4M864 981.4L869.4 975.2M863.1 978.3H870.3" stroke="#a8324c" stroke-width="2.4" fill="none"/>
<path d="M877.2 939.8L882.6 946M877.2 946L882.6 939.8M876.3 942.9H883.5" stroke="#a8324c" stroke-width="2.4" fill="none"/>
<path d="M890.3 866.1L895.7 872.3M890.3 872.3L895.7 866.1M889.4 869.2H896.6" stroke="#a8324c" stroke-width="2.4" fill="none"/>
<path d="M903.5 833.4L908.9 839.6M903.5 839.6L908.9 833.4M902.6 836.5H909.8" stroke="#a8324c" stroke-width="2.4" fill="none"/>
<path d="M916.7 816.4L922.1 822.6M916.7 822.6L922.1 816.4M915.8 819.5H923" stroke="#a8324c" stroke-width="2.4" fill="none"/>
<path d="M929.8 803.9L935.2 810.1M929.8 810.1L935.2 803.9M928.9 807H936.1" stroke="#a8324c" stroke-width="2.4" fill="none"/>
<path d="M943 795.7L948.4 801.9M943 801.9L948.4 795.7M942.1 798.8H949.3" stroke="#a8324c" stroke-width="2.4" fill="none"/>
<path d="M956.1 790L961.5 796.2M956.1 796.2L961.5 790M955.2 793.1H962.4" stroke="#a8324c" stroke-width="2.4" fill="none"/>
<path d="M969.3 786.6L974.7 792.8M969.3 792.8L974.7 786.6M968.4 789.7H975.6" stroke="#a8324c" stroke-width="2.4" fill="none"/>
<text transform="translate(124.2,680) scale(0.94,1)" font-size="47" fill="#4b4b4b" text-anchor="end" stroke="#4b4b4b" stroke-width="0.2">0</text>
<text transform="translate(122.7,782.1) scale(0.94,1)" font-size="47" fill="#4b4b4b" text-anchor="end" stroke="#4b4b4b" stroke-width="0.2" letter-spacing="-1.6">-10</text>
<text transform="translate(122.7,884.1) scale(0.94,1)" font-size="47" fill="#4b4b4b" text-anchor="end" stroke="#4b4b4b" stroke-width="0.2" letter-spacing="-1.6">-20</text>
<text transform="translate(122.7,986.2) scale(0.94,1)" font-size="47" fill="#4b4b4b" text-anchor="end" stroke="#4b4b4b" stroke-width="0.2" letter-spacing="-1.6">-30</text>
<text transform="translate(122.7,1088.3) scale(0.94,1)" font-size="47" fill="#4b4b4b" text-anchor="end" stroke="#4b4b4b" stroke-width="0.2" letter-spacing="-1.6">-40</text>
<text transform="translate(133.1,1123.2) scale(0.955,1)" font-size="47" fill="#4b4b4b" text-anchor="middle" stroke="#4b4b4b" stroke-width="0.2">1</text>
<text transform="translate(273.2,1123.2) scale(0.955,1)" font-size="47" fill="#4b4b4b" text-anchor="middle" stroke="#4b4b4b" stroke-width="0.2" letter-spacing="-2.6">1.5</text>
<text transform="translate(415.9,1123.2) scale(0.955,1)" font-size="47" fill="#4b4b4b" text-anchor="middle" stroke="#4b4b4b" stroke-width="0.2">2</text>
<text transform="translate(556,1123.2) scale(0.955,1)" font-size="47" fill="#4b4b4b" text-anchor="middle" stroke="#4b4b4b" stroke-width="0.2" letter-spacing="-2.6">2.5</text>
<text transform="translate(698.6,1123.2) scale(0.955,1)" font-size="47" fill="#4b4b4b" text-anchor="middle" stroke="#4b4b4b" stroke-width="0.2">3</text>
<text transform="translate(838.8,1123.2) scale(0.955,1)" font-size="47" fill="#4b4b4b" text-anchor="middle" stroke="#4b4b4b" stroke-width="0.2" letter-spacing="-2.6">3.5</text>
<text transform="translate(981.4,1123.2) scale(0.955,1)" font-size="47" fill="#4b4b4b" text-anchor="middle" stroke="#4b4b4b" stroke-width="0.2">4</text>
<text transform="translate(556.6,1169.5) scale(0.914,1)" font-size="50.4" fill="#1c1c1c" text-anchor="middle" stroke="#1c1c1c" stroke-width="0.2">Frequency (GHz)</text>
<text transform="translate(497.5,1229.2) scale(1.0,1)" font-size="37" fill="#1c1c1c" text-anchor="middle" stroke="#1c1c1c" stroke-width="0.2">(b)</text>
<text transform="translate(36.2,867.1) rotate(-90) scale(1.0,0.97)" font-size="47" fill="#1c1c1c" stroke="#1c1c1c" stroke-width="0.25"><tspan x="-92.4" dy="-7.8" font-size="35.7" stroke-width="1.1">|</tspan><tspan x="-87.7" dy="7.8">S</tspan><tspan x="-56.4" dy="23" font-size="38">21</tspan><tspan x="-14.6" dy="-30.8" font-size="35.7" stroke-width="1.1">|</tspan><tspan x="-7.5" dy="7.8"> (dB)</tspan></text>
<rect x="285.3" y="859.3" width="187.3" height="203.1" fill="#fff" stroke="#4a4a4a" stroke-width="1.1"/>
<path d="M287.8 885.8H297.9" stroke="#2a2d9c" stroke-width="3.1" fill="none"/>
<path d="M292.6 889.8L303.2 889.8L297.9 879.6Z" fill="#2a2d9c"/>
<text transform="translate(311,902.2) scale(0.908,1)" font-size="45.5" fill="#151515" text-anchor="start" stroke="#151515" stroke-width="0.2">TE-0°S</text>
<path d="M287.8 936H297.9" stroke="#9a4bb0" stroke-width="3.1" fill="none"/>
<circle cx="297.9" cy="936" r="3.3" fill="#9a4bb0"/>
<text transform="translate(311,952.4) scale(0.908,1)" font-size="45.5" fill="#151515" text-anchor="start" stroke="#151515" stroke-width="0.2">TE-0°M</text>
<path d="M287.8 986.2H297.9" stroke="#f04e22" stroke-width="3.1" fill="none"/>
<circle cx="297.9" cy="986.2" r="4.1" fill="#f04e22"/>
<text transform="translate(311,1002.6) scale(0.908,1)" font-size="45.5" fill="#151515" text-anchor="start" stroke="#151515" stroke-width="0.2">TE-30°M</text>
<path d="M287.8 1036.4H297.9" stroke="#c552b3" stroke-width="3.1" fill="none"/>
<path d="M294.8 1036.4H301M297.9 1033.2V1039.6" stroke="#c552b3" stroke-width="2.8" fill="none"/>
<text transform="translate(311,1052.8) scale(0.908,1)" font-size="45.5" fill="#151515" text-anchor="start" stroke="#151515" stroke-width="0.2">TE-45°M</text>
<rect x="472.6" y="859.3" width="198.4" height="203.1" fill="#fff" stroke="#4a4a4a" stroke-width="1.1"/>
<path d="M475.1 885.8H485.2" stroke="#161616" stroke-width="3.1" fill="none"/>
<path d="M488.6 880.3L488.6 891.3L480 885.8Z" fill="#161616"/>
<text transform="translate(498.2,902.2) scale(0.908,1)" font-size="45.5" fill="#151515" text-anchor="start" stroke="#151515" stroke-width="0.2">TM-0°S</text>
<path d="M475.1 936H485.2" stroke="#06a54b" stroke-width="3.1" fill="none"/>
<path d="M485.2 930.1L489.2 936L485.2 941.9L481.2 936Z" fill="#06a54b"/>
<text transform="translate(498.2,952.4) scale(0.908,1)" font-size="45.5" fill="#151515" text-anchor="start" stroke="#151515" stroke-width="0.2">TM-0°M</text>
<path d="M475.1 986.2H485.2" stroke="#0fabb8" stroke-width="3.1" fill="none"/>
<path d="M481.6 980.6L481.6 991.8L490.9 986.2Z" fill="#0fabb8"/>
<text transform="translate(498.2,1002.6) scale(0.908,1)" font-size="45.5" fill="#151515" text-anchor="start" stroke="#151515" stroke-width="0.2">TM-30°M</text>
<path d="M475.1 1036.4H485.2" stroke="#a8324c" stroke-width="3.1" fill="none"/>
<path d="M482.5 1033.3L487.9 1039.5M482.5 1039.5L487.9 1033.3M481.6 1036.4H488.8" stroke="#a8324c" stroke-width="2.4" fill="none"/>
<text transform="translate(498.2,1052.8) scale(0.908,1)" font-size="45.5" fill="#151515" text-anchor="start" stroke="#151515" stroke-width="0.2">TM-45°M</text>
</g>
<g id="plot-c">
<defs><clipPath id="clipc"><rect x="122.3" y="1309" width="865.5" height="416.9"/></clipPath></defs>
<path d="M267.4 1310V1724.9M411.2 1310V1724.9M555 1310V1724.9M698.9 1310V1724.9M842.8 1310V1724.9M123.5 1413.7H986.6M123.5 1517.5H986.6M123.5 1621.2H986.6" stroke="#e5e5e5" stroke-width="1" fill="none"/>
<path d="M123.5 1724.9v-8.6M123.5 1310v8.6M267.4 1724.9v-8.6M267.4 1310v8.6M411.2 1724.9v-8.6M411.2 1310v8.6M555 1724.9v-8.6M555 1310v8.6M698.9 1724.9v-8.6M698.9 1310v8.6M842.8 1724.9v-8.6M842.8 1310v8.6M986.6 1724.9v-8.6M986.6 1310v8.6M123.5 1310h8.6M986.6 1310h-8.6M123.5 1413.7h8.6M986.6 1413.7h-8.6M123.5 1517.5h8.6M986.6 1517.5h-8.6M123.5 1621.2h8.6M986.6 1621.2h-8.6M123.5 1724.9h8.6M986.6 1724.9h-8.6" stroke="#4a4a4a" stroke-width="1.1" fill="none"/>
<rect x="123.5" y="1310" width="863.1" height="414.9" fill="none" stroke="#4a4a4a" stroke-width="1.05"/>
<path clip-path="url(#clipc)" d="M123.4 1433.7L133.1 1428.6L143.1 1422.6L153.2 1416.6L163.2 1410.6L173.3 1404.5L183.3 1397.9L193.8 1390.5L203.4 1382.4L213.5 1373.4L223.5 1365.3L233.6 1357.3L243.6 1349.2L253.7 1341.2L264.1 1334.6L274.2 1333.2L284.2 1338.2L293.9 1348.2L303.9 1360.3L315.1 1380.4L325.1 1398.5L335.2 1416.6L345.2 1435.7L355.3 1455.8L365.3 1477.9L375.4 1502.5L385.3 1530L395.3 1563L405.3 1598.5L415.4 1620.6L425.4 1603.5L435.5 1574.4L445.5 1549.2L455.6 1531.2L465.6 1514.1L475.9 1500.5L485.9 1488.9L496 1476.9L505 1468L515.1 1459.8L526.2 1450.8L536.2 1443.7L546.3 1435.7L556.3 1427.6L566.4 1420.6L576.4 1413.6L586.5 1406.5L596.5 1399.5L606.5 1392L616.6 1384L626.7 1376.4L636.7 1367.3L646.8 1358.3L656.8 1349.2L666.9 1339.2L676.9 1329.1L687 1320.1L697.1 1315.1L707.2 1318.1L717.2 1329.1L727.3 1345.2L737.3 1365.3L747.4 1385.4L757.4 1407.5L767.5 1427.6L777.5 1452.8L787.6 1478.9L797.6 1507L807.7 1540L817.7 1591.5L827.8 1683.9L838.2 1728L849 1616.5L859.1 1572.1L868.9 1546.4L878.9 1525.4L888.7 1510.2L898.5 1497.4L908.6 1486.9L918.6 1477.5L928.4 1470.5L938.5 1464.7L948.3 1458.8L958.3 1453L968.1 1447.2L978.7 1442.5" fill="none" stroke="#2a2d9c" stroke-width="3.1" stroke-dasharray="11 10.6"/>
<path d="M118.2 1437.6L128.8 1437.6L123.5 1427.4Z" fill="#2a2d9c"/>
<path d="M128.3 1432.3L138.9 1432.3L133.6 1422.1Z" fill="#2a2d9c"/>
<path d="M138.3 1426.3L148.9 1426.3L143.6 1416.1Z" fill="#2a2d9c"/>
<path d="M148.4 1420.3L159 1420.3L153.7 1410.1Z" fill="#2a2d9c"/>
<path d="M158.5 1414.3L169.1 1414.3L163.8 1404.1Z" fill="#2a2d9c"/>
<path d="M168.5 1408.1L179.1 1408.1L173.8 1397.9Z" fill="#2a2d9c"/>
<path d="M178.6 1401.5L189.2 1401.5L183.9 1391.3Z" fill="#2a2d9c"/>
<path d="M188.7 1394.3L199.3 1394.3L194 1384.1Z" fill="#2a2d9c"/>
<path d="M198.8 1385.8L209.4 1385.8L204.1 1375.6Z" fill="#2a2d9c"/>
<path d="M208.8 1376.9L219.4 1376.9L214.1 1366.7Z" fill="#2a2d9c"/>
<path d="M218.9 1368.7L229.5 1368.7L224.2 1358.5Z" fill="#2a2d9c"/>
<path d="M229 1360.8L239.6 1360.8L234.3 1350.6Z" fill="#2a2d9c"/>
<path d="M239 1352.6L249.6 1352.6L244.3 1342.4Z" fill="#2a2d9c"/>
<path d="M249.1 1344.8L259.7 1344.8L254.4 1334.6Z" fill="#2a2d9c"/>
<path d="M259.2 1338.5L269.8 1338.5L264.5 1328.3Z" fill="#2a2d9c"/>
<path d="M269.2 1337.4L279.8 1337.4L274.5 1327.2Z" fill="#2a2d9c"/>
<path d="M279.3 1342.6L289.9 1342.6L284.6 1332.4Z" fill="#2a2d9c"/>
<path d="M289.4 1353.1L300 1353.1L294.7 1342.9Z" fill="#2a2d9c"/>
<path d="M299.5 1365.8L310.1 1365.8L304.8 1355.6Z" fill="#2a2d9c"/>
<path d="M309.5 1383.9L320.1 1383.9L314.8 1373.7Z" fill="#2a2d9c"/>
<path d="M319.6 1402.1L330.2 1402.1L324.9 1391.9Z" fill="#2a2d9c"/>
<path d="M329.7 1420.2L340.3 1420.2L335 1410Z" fill="#2a2d9c"/>
<path d="M339.7 1439.4L350.3 1439.4L345 1429.2Z" fill="#2a2d9c"/>
<path d="M349.8 1459.4L360.4 1459.4L355.1 1449.2Z" fill="#2a2d9c"/>
<path d="M359.9 1481.6L370.5 1481.6L365.2 1471.4Z" fill="#2a2d9c"/>
<path d="M369.9 1506.1L380.5 1506.1L375.2 1495.9Z" fill="#2a2d9c"/>
<path d="M380 1534L390.6 1534L385.3 1523.8Z" fill="#2a2d9c"/>
<path d="M390.1 1567.3L400.7 1567.3L395.4 1557.1Z" fill="#2a2d9c"/>
<path d="M400.1 1602.8L410.7 1602.8L405.4 1592.6Z" fill="#2a2d9c"/>
<path d="M410.2 1624.4L420.8 1624.4L415.5 1614.2Z" fill="#2a2d9c"/>
<path d="M420.3 1607L430.9 1607L425.6 1596.8Z" fill="#2a2d9c"/>
<path d="M430.4 1578L441 1578L435.7 1567.8Z" fill="#2a2d9c"/>
<path d="M440.4 1552.8L451 1552.8L445.7 1542.6Z" fill="#2a2d9c"/>
<path d="M450.5 1534.9L461.1 1534.9L455.8 1524.7Z" fill="#2a2d9c"/>
<path d="M460.6 1517.8L471.2 1517.8L465.9 1507.6Z" fill="#2a2d9c"/>
<path d="M470.6 1504.5L481.2 1504.5L475.9 1494.3Z" fill="#2a2d9c"/>
<path d="M480.7 1492.8L491.3 1492.8L486 1482.6Z" fill="#2a2d9c"/>
<path d="M490.8 1480.8L501.4 1480.8L496.1 1470.6Z" fill="#2a2d9c"/>
<path d="M500.8 1471.1L511.4 1471.1L506.1 1460.9Z" fill="#2a2d9c"/>
<path d="M510.9 1462.9L521.5 1462.9L516.2 1452.7Z" fill="#2a2d9c"/>
<path d="M521 1454.7L531.6 1454.7L526.3 1444.5Z" fill="#2a2d9c"/>
<path d="M531 1447.6L541.6 1447.6L536.3 1437.4Z" fill="#2a2d9c"/>
<path d="M541.1 1439.6L551.7 1439.6L546.4 1429.4Z" fill="#2a2d9c"/>
<path d="M551.2 1431.5L561.8 1431.5L556.5 1421.3Z" fill="#2a2d9c"/>
<path d="M561.3 1424.5L571.9 1424.5L566.6 1414.3Z" fill="#2a2d9c"/>
<path d="M571.3 1417.4L581.9 1417.4L576.6 1407.2Z" fill="#2a2d9c"/>
<path d="M581.4 1410.4L592 1410.4L586.7 1400.2Z" fill="#2a2d9c"/>
<path d="M591.5 1403.3L602.1 1403.3L596.8 1393.1Z" fill="#2a2d9c"/>
<path d="M601.5 1395.7L612.1 1395.7L606.8 1385.5Z" fill="#2a2d9c"/>
<path d="M611.6 1387.8L622.2 1387.8L616.9 1377.6Z" fill="#2a2d9c"/>
<path d="M621.7 1380.1L632.3 1380.1L627 1369.9Z" fill="#2a2d9c"/>
<path d="M631.7 1371L642.3 1371L637 1360.8Z" fill="#2a2d9c"/>
<path d="M641.8 1362L652.4 1362L647.1 1351.8Z" fill="#2a2d9c"/>
<path d="M651.9 1352.8L662.5 1352.8L657.2 1342.6Z" fill="#2a2d9c"/>
<path d="M662 1342.8L672.6 1342.8L667.3 1332.6Z" fill="#2a2d9c"/>
<path d="M672 1332.7L682.6 1332.7L677.3 1322.5Z" fill="#2a2d9c"/>
<path d="M682.1 1323.9L692.7 1323.9L687.4 1313.7Z" fill="#2a2d9c"/>
<path d="M692.2 1319.2L702.8 1319.2L697.5 1309Z" fill="#2a2d9c"/>
<path d="M702.2 1322.5L712.8 1322.5L707.5 1312.3Z" fill="#2a2d9c"/>
<path d="M712.3 1333.7L722.9 1333.7L717.6 1323.5Z" fill="#2a2d9c"/>
<path d="M722.4 1349.9L733 1349.9L727.7 1339.7Z" fill="#2a2d9c"/>
<path d="M732.4 1370.2L743 1370.2L737.7 1360Z" fill="#2a2d9c"/>
<path d="M742.5 1390.3L753.1 1390.3L747.8 1380.1Z" fill="#2a2d9c"/>
<path d="M752.6 1412.5L763.2 1412.5L757.9 1402.3Z" fill="#2a2d9c"/>
<path d="M762.6 1432.7L773.2 1432.7L767.9 1422.5Z" fill="#2a2d9c"/>
<path d="M772.7 1458.1L783.3 1458.1L778 1447.9Z" fill="#2a2d9c"/>
<path d="M782.8 1484.3L793.4 1484.3L788.1 1474.1Z" fill="#2a2d9c"/>
<path d="M792.9 1512.8L803.5 1512.8L798.2 1502.6Z" fill="#2a2d9c"/>
<path d="M802.9 1546.7L813.5 1546.7L808.2 1536.5Z" fill="#2a2d9c"/>
<path d="M813 1600.9L823.6 1600.9L818.3 1590.7Z" fill="#2a2d9c"/>
<path d="M823.1 1690.3L833.7 1690.3L828.4 1680.1Z" fill="#2a2d9c"/>
<path d="M843.2 1625.6L853.8 1625.6L848.5 1615.4Z" fill="#2a2d9c"/>
<path d="M853.3 1578.4L863.9 1578.4L858.6 1568.2Z" fill="#2a2d9c"/>
<path d="M863.3 1551.1L873.9 1551.1L868.6 1540.9Z" fill="#2a2d9c"/>
<path d="M873.4 1529.8L884 1529.8L878.7 1519.6Z" fill="#2a2d9c"/>
<path d="M883.5 1514.1L894.1 1514.1L888.8 1503.9Z" fill="#2a2d9c"/>
<path d="M893.6 1501L904.2 1501L898.9 1490.8Z" fill="#2a2d9c"/>
<path d="M903.6 1490.6L914.2 1490.6L908.9 1480.4Z" fill="#2a2d9c"/>
<path d="M913.7 1481.2L924.3 1481.2L919 1471Z" fill="#2a2d9c"/>
<path d="M923.8 1474.1L934.4 1474.1L929.1 1463.9Z" fill="#2a2d9c"/>
<path d="M933.8 1468.3L944.4 1468.3L939.1 1458.1Z" fill="#2a2d9c"/>
<path d="M943.9 1462.3L954.5 1462.3L949.2 1452.1Z" fill="#2a2d9c"/>
<path d="M954 1456.4L964.6 1456.4L959.3 1446.2Z" fill="#2a2d9c"/>
<path d="M964 1450.7L974.6 1450.7L969.3 1440.5Z" fill="#2a2d9c"/>
<path d="M974.1 1446.5L984.7 1446.5L979.4 1436.3Z" fill="#2a2d9c"/>
<path clip-path="url(#clipc)" d="M123.4 1425.6L133.1 1434.7L146.2 1449.7L160.2 1463.8L173.3 1473.3L186.4 1474.9L200.4 1465.8L213.5 1450.8L226.6 1433L239.6 1416.6L253.7 1404.5L266.8 1389L280.8 1376.4L293.9 1369.3L307 1364.3L320.1 1358L333.6 1353.5L347.2 1351L360.3 1351L373.4 1353L387.4 1355.5L400.5 1359.3L414 1364.3L427 1370.4L440.7 1380.4L454.2 1391.5L467.8 1403.5L480.9 1421.6L494.6 1446.7L508.1 1462.8L521.2 1476.9L534.2 1479.9L547.3 1476.9L561.4 1452.8L574.4 1427.6L587.9 1402.5L601.6 1380.4L614.6 1358.3L628.7 1343.2L641.8 1329.1L654.8 1324.1L667.9 1321.1L682 1326.1L695.1 1333.2L708.8 1347.2L721.9 1363.3L735.3 1380.4L748.4 1396.5L761.5 1409.5L774.5 1428.6L788.6 1448.7L800.7 1476.9L815 1525L828.8 1566.3L842.5 1611L855.9 1586.3L869.3 1545.3L882.4 1511.4L895.7 1479.9L909 1442.5L922.6 1427.3L935.9 1415.6L949.5 1407.9L962.8 1401.6L976.3 1397.6L986.8 1395.3" fill="none" stroke="#dc86aa" stroke-width="3.1" stroke-dasharray="11 10.6"/>
<circle cx="133.1" cy="1434.7" r="3.4" fill="#dc86aa"/>
<circle cx="146.5" cy="1450" r="3.4" fill="#dc86aa"/>
<circle cx="159.9" cy="1463.5" r="3.4" fill="#dc86aa"/>
<circle cx="173.3" cy="1473.3" r="3.4" fill="#dc86aa"/>
<circle cx="186.6" cy="1474.7" r="3.4" fill="#dc86aa"/>
<circle cx="200" cy="1466" r="3.4" fill="#dc86aa"/>
<circle cx="213.4" cy="1450.9" r="3.4" fill="#dc86aa"/>
<circle cx="226.8" cy="1432.8" r="3.4" fill="#dc86aa"/>
<circle cx="240.2" cy="1416.1" r="3.4" fill="#dc86aa"/>
<circle cx="253.6" cy="1404.6" r="3.4" fill="#dc86aa"/>
<circle cx="266.9" cy="1388.9" r="3.4" fill="#dc86aa"/>
<circle cx="280.3" cy="1376.8" r="3.4" fill="#dc86aa"/>
<circle cx="293.7" cy="1369.4" r="3.4" fill="#dc86aa"/>
<circle cx="307.1" cy="1364.3" r="3.4" fill="#dc86aa"/>
<circle cx="320.5" cy="1357.9" r="3.4" fill="#dc86aa"/>
<circle cx="333.9" cy="1353.5" r="3.4" fill="#dc86aa"/>
<circle cx="347.2" cy="1351" r="3.4" fill="#dc86aa"/>
<circle cx="360.6" cy="1351.1" r="3.4" fill="#dc86aa"/>
<circle cx="374" cy="1353.1" r="3.4" fill="#dc86aa"/>
<circle cx="387.4" cy="1355.5" r="3.4" fill="#dc86aa"/>
<circle cx="400.8" cy="1359.4" r="3.4" fill="#dc86aa"/>
<circle cx="414.2" cy="1364.4" r="3.4" fill="#dc86aa"/>
<circle cx="427.5" cy="1370.8" r="3.4" fill="#dc86aa"/>
<circle cx="440.9" cy="1380.6" r="3.4" fill="#dc86aa"/>
<circle cx="454.3" cy="1391.6" r="3.4" fill="#dc86aa"/>
<circle cx="467.7" cy="1403.4" r="3.4" fill="#dc86aa"/>
<circle cx="481.1" cy="1421.9" r="3.4" fill="#dc86aa"/>
<circle cx="494.5" cy="1446.5" r="3.4" fill="#dc86aa"/>
<circle cx="507.9" cy="1462.5" r="3.4" fill="#dc86aa"/>
<circle cx="521.2" cy="1476.9" r="3.4" fill="#dc86aa"/>
<circle cx="534.6" cy="1479.8" r="3.4" fill="#dc86aa"/>
<circle cx="548" cy="1475.7" r="3.4" fill="#dc86aa"/>
<circle cx="561.4" cy="1452.8" r="3.4" fill="#dc86aa"/>
<circle cx="574.8" cy="1426.9" r="3.4" fill="#dc86aa"/>
<circle cx="588.2" cy="1402.1" r="3.4" fill="#dc86aa"/>
<circle cx="601.5" cy="1380.5" r="3.4" fill="#dc86aa"/>
<circle cx="614.9" cy="1358" r="3.4" fill="#dc86aa"/>
<circle cx="628.3" cy="1343.6" r="3.4" fill="#dc86aa"/>
<circle cx="641.7" cy="1329.2" r="3.4" fill="#dc86aa"/>
<circle cx="655.1" cy="1324" r="3.4" fill="#dc86aa"/>
<circle cx="668.5" cy="1321.3" r="3.4" fill="#dc86aa"/>
<circle cx="681.8" cy="1326" r="3.4" fill="#dc86aa"/>
<circle cx="695.2" cy="1333.3" r="3.4" fill="#dc86aa"/>
<circle cx="708.6" cy="1347" r="3.4" fill="#dc86aa"/>
<circle cx="722" cy="1363.4" r="3.4" fill="#dc86aa"/>
<circle cx="735.4" cy="1380.5" r="3.4" fill="#dc86aa"/>
<circle cx="748.8" cy="1396.9" r="3.4" fill="#dc86aa"/>
<circle cx="762.1" cy="1410.5" r="3.4" fill="#dc86aa"/>
<circle cx="775.5" cy="1430.1" r="3.4" fill="#dc86aa"/>
<circle cx="788.9" cy="1449.4" r="3.4" fill="#dc86aa"/>
<circle cx="802.3" cy="1482.3" r="3.4" fill="#dc86aa"/>
<circle cx="815.7" cy="1527" r="3.4" fill="#dc86aa"/>
<circle cx="829.1" cy="1567.2" r="3.4" fill="#dc86aa"/>
<circle cx="842.5" cy="1610.8" r="3.4" fill="#dc86aa"/>
<circle cx="855.8" cy="1586.4" r="3.4" fill="#dc86aa"/>
<circle cx="869.2" cy="1545.5" r="3.4" fill="#dc86aa"/>
<circle cx="882.6" cy="1510.9" r="3.4" fill="#dc86aa"/>
<circle cx="896" cy="1479.1" r="3.4" fill="#dc86aa"/>
<circle cx="909.4" cy="1442.1" r="3.4" fill="#dc86aa"/>
<circle cx="922.8" cy="1427.2" r="3.4" fill="#dc86aa"/>
<circle cx="936.1" cy="1415.5" r="3.4" fill="#dc86aa"/>
<circle cx="949.5" cy="1407.9" r="3.4" fill="#dc86aa"/>
<circle cx="962.9" cy="1401.6" r="3.4" fill="#dc86aa"/>
<circle cx="976.3" cy="1397.6" r="3.4" fill="#dc86aa"/>
<path clip-path="url(#clipc)" d="M123.4 1412.6L133.1 1421.6L146.2 1432.7L160.2 1442.7L173.3 1448.3L186.4 1447.1L200.4 1438.7L213.5 1426.6L226.6 1413.6L239.6 1399.5L253.7 1387.4L266.8 1376.4L280.8 1366.3L293.9 1358.7L307 1353L320.1 1347.2L333.6 1342.6L347.2 1339.6L360.3 1338.6L373.4 1339.2L387.4 1342.2L400.5 1346.2L414 1351.3L427 1357.3L440.7 1365.3L454.2 1375.4L467.8 1387.4L480.9 1400.5L494.6 1423.6L508.1 1454.8L521.2 1486.9L534.2 1487.9L547.3 1476.9L561.4 1452.8L574.4 1429.6L587.9 1409.5L601.6 1393.5L614.6 1377L628.7 1359.3L641.8 1343.2L654.8 1334.2L667.9 1332.2L682 1337.2L695.1 1343.2L708.8 1353.3L721.9 1365.9L735.3 1379.4L748.4 1394.5L761.5 1408.5L774.5 1421.6L788.6 1437L802.7 1453.8L815.3 1483.9L828.8 1518.1L842.5 1524.4L855.9 1519.8L869.2 1490.2L882.4 1456L895.7 1432L909 1409.8L922.6 1397.6L935.9 1389.2L949.5 1384.1L962.8 1381.3L976.3 1381.8L986.8 1383" fill="none" stroke="#f04e22" stroke-width="3.1" stroke-dasharray="11 10.6"/>
<circle cx="133.1" cy="1421.6" r="3.1" fill="#fff" stroke="#f04e22" stroke-width="2.1"/>
<circle cx="146.5" cy="1432.9" r="4.1" fill="#f04e22"/>
<circle cx="159.9" cy="1442.5" r="3.1" fill="#fff" stroke="#f04e22" stroke-width="2.1"/>
<circle cx="173.3" cy="1448.3" r="4.1" fill="#f04e22"/>
<circle cx="186.6" cy="1447" r="3.1" fill="#fff" stroke="#f04e22" stroke-width="2.1"/>
<circle cx="200" cy="1438.9" r="4.1" fill="#f04e22"/>
<circle cx="213.4" cy="1426.7" r="3.1" fill="#fff" stroke="#f04e22" stroke-width="2.1"/>
<circle cx="226.8" cy="1413.4" r="4.1" fill="#f04e22"/>
<circle cx="240.2" cy="1399" r="3.1" fill="#fff" stroke="#f04e22" stroke-width="2.1"/>
<circle cx="253.6" cy="1387.5" r="4.1" fill="#f04e22"/>
<circle cx="266.9" cy="1376.3" r="3.1" fill="#fff" stroke="#f04e22" stroke-width="2.1"/>
<circle cx="280.3" cy="1366.6" r="4.1" fill="#f04e22"/>
<circle cx="293.7" cy="1358.8" r="3.1" fill="#fff" stroke="#f04e22" stroke-width="2.1"/>
<circle cx="307.1" cy="1353" r="4.1" fill="#f04e22"/>
<circle cx="320.5" cy="1347.1" r="3.1" fill="#fff" stroke="#f04e22" stroke-width="2.1"/>
<circle cx="333.9" cy="1342.5" r="4.1" fill="#f04e22"/>
<circle cx="347.2" cy="1339.6" r="3.1" fill="#fff" stroke="#f04e22" stroke-width="2.1"/>
<circle cx="360.6" cy="1338.6" r="4.1" fill="#f04e22"/>
<circle cx="374" cy="1339.3" r="3.1" fill="#fff" stroke="#f04e22" stroke-width="2.1"/>
<circle cx="387.4" cy="1342.2" r="4.1" fill="#f04e22"/>
<circle cx="400.8" cy="1346.3" r="3.1" fill="#fff" stroke="#f04e22" stroke-width="2.1"/>
<circle cx="414.2" cy="1351.4" r="4.1" fill="#f04e22"/>
<circle cx="427.5" cy="1357.6" r="3.1" fill="#fff" stroke="#f04e22" stroke-width="2.1"/>
<circle cx="440.9" cy="1365.5" r="4.1" fill="#f04e22"/>
<circle cx="454.3" cy="1375.5" r="3.1" fill="#fff" stroke="#f04e22" stroke-width="2.1"/>
<circle cx="467.7" cy="1387.3" r="4.1" fill="#f04e22"/>
<circle cx="481.1" cy="1400.8" r="3.1" fill="#fff" stroke="#f04e22" stroke-width="2.1"/>
<circle cx="494.5" cy="1423.4" r="4.1" fill="#f04e22"/>
<circle cx="507.9" cy="1454.2" r="3.1" fill="#fff" stroke="#f04e22" stroke-width="2.1"/>
<circle cx="521.2" cy="1486.9" r="4.1" fill="#f04e22"/>
<circle cx="534.6" cy="1487.5" r="3.1" fill="#fff" stroke="#f04e22" stroke-width="2.1"/>
<circle cx="548" cy="1475.7" r="4.1" fill="#f04e22"/>
<circle cx="561.4" cy="1452.8" r="3.1" fill="#fff" stroke="#f04e22" stroke-width="2.1"/>
<circle cx="574.8" cy="1429" r="4.1" fill="#f04e22"/>
<circle cx="588.2" cy="1409.2" r="3.1" fill="#fff" stroke="#f04e22" stroke-width="2.1"/>
<circle cx="601.5" cy="1393.6" r="4.1" fill="#f04e22"/>
<circle cx="614.9" cy="1376.6" r="3.1" fill="#fff" stroke="#f04e22" stroke-width="2.1"/>
<circle cx="628.3" cy="1359.8" r="4.1" fill="#f04e22"/>
<circle cx="641.7" cy="1343.3" r="3.1" fill="#fff" stroke="#f04e22" stroke-width="2.1"/>
<circle cx="655.1" cy="1334.2" r="4.1" fill="#f04e22"/>
<circle cx="668.5" cy="1332.4" r="3.1" fill="#fff" stroke="#f04e22" stroke-width="2.1"/>
<circle cx="681.8" cy="1337.1" r="4.1" fill="#f04e22"/>
<circle cx="695.2" cy="1343.3" r="3.1" fill="#fff" stroke="#f04e22" stroke-width="2.1"/>
<circle cx="708.6" cy="1353.2" r="4.1" fill="#f04e22"/>
<circle cx="722" cy="1366" r="3.1" fill="#fff" stroke="#f04e22" stroke-width="2.1"/>
<circle cx="735.4" cy="1379.5" r="4.1" fill="#f04e22"/>
<circle cx="748.8" cy="1394.9" r="3.1" fill="#fff" stroke="#f04e22" stroke-width="2.1"/>
<circle cx="762.1" cy="1409.2" r="4.1" fill="#f04e22"/>
<circle cx="775.5" cy="1422.7" r="3.1" fill="#fff" stroke="#f04e22" stroke-width="2.1"/>
<circle cx="788.9" cy="1437.4" r="4.1" fill="#f04e22"/>
<circle cx="802.3" cy="1453.3" r="3.1" fill="#fff" stroke="#f04e22" stroke-width="2.1"/>
<circle cx="815.7" cy="1484.9" r="4.1" fill="#f04e22"/>
<circle cx="829.1" cy="1518.2" r="3.1" fill="#fff" stroke="#f04e22" stroke-width="2.1"/>
<circle cx="842.5" cy="1524.4" r="4.1" fill="#f04e22"/>
<circle cx="855.8" cy="1519.8" r="3.1" fill="#fff" stroke="#f04e22" stroke-width="2.1"/>
<circle cx="869.2" cy="1490.1" r="4.1" fill="#f04e22"/>
<circle cx="882.6" cy="1455.6" r="3.1" fill="#fff" stroke="#f04e22" stroke-width="2.1"/>
<circle cx="896" cy="1431.5" r="4.1" fill="#f04e22"/>
<circle cx="909.4" cy="1409.5" r="3.1" fill="#fff" stroke="#f04e22" stroke-width="2.1"/>
<circle cx="922.8" cy="1397.5" r="4.1" fill="#f04e22"/>
<circle cx="936.1" cy="1389.1" r="3.1" fill="#fff" stroke="#f04e22" stroke-width="2.1"/>
<circle cx="949.5" cy="1384.1" r="4.1" fill="#f04e22"/>
<circle cx="962.9" cy="1381.3" r="3.1" fill="#fff" stroke="#f04e22" stroke-width="2.1"/>
<circle cx="976.3" cy="1381.8" r="4.1" fill="#f04e22"/>
<path clip-path="url(#clipc)" d="M123.4 1393.5L133.1 1400.5L146.2 1411.6L160.2 1422.2L173.3 1432.7L186.4 1438.7L200.4 1441.7L213.5 1438.7L226.6 1431.7L239.6 1417.6L253.7 1404.5L266.8 1388.4L280.8 1377.4L293.9 1368.3L307 1362.8L320.1 1356.3L333.6 1351.7L347.2 1349.2L360.3 1349.2L373.4 1351.3L387.4 1353.3L400.5 1357.3L414 1361.3L427 1368.3L440.7 1377.4L454.2 1387.4L467.8 1399.5L480.9 1415.6L494.6 1443.7L508.1 1475.9L521.2 1499L534.2 1505L547.3 1492L561.4 1454.8L574.4 1427.6L587.9 1409.5L601.6 1395.5L614.6 1380L628.7 1364.3L641.8 1350.3L654.8 1337.2L667.9 1336.2L682 1341.2L695.1 1348.2L708.8 1359.3L721.9 1375.4L735.3 1387.4L748.4 1399L761.5 1411.6L774.5 1425.6L788.6 1438.7L802.7 1456.8L815.3 1480.9L828.8 1504L842.5 1518.3L855.9 1507.5L869.2 1484L882.4 1457.7L895.7 1434.3L909 1418L922.6 1405.6L935.9 1396.9L949.5 1392.3L962.8 1389.9L976.3 1389.9L986.8 1392.3" fill="none" stroke="#c552b3" stroke-width="3.1" stroke-dasharray="11 10.6"/>
<path d="M130 1400.5H136.2M133.1 1397.3V1403.7" stroke="#c552b3" stroke-width="2.8" fill="none"/>
<path d="M143.4 1411.8H149.6M146.5 1408.6V1415" stroke="#c552b3" stroke-width="2.8" fill="none"/>
<path d="M156.8 1421.9H163M159.9 1418.7V1425.1" stroke="#c552b3" stroke-width="2.8" fill="none"/>
<path d="M170.2 1432.7H176.4M173.3 1429.5V1435.9" stroke="#c552b3" stroke-width="2.8" fill="none"/>
<path d="M183.5 1438.8H189.7M186.6 1435.6V1442" stroke="#c552b3" stroke-width="2.8" fill="none"/>
<path d="M196.9 1441.6H203.1M200 1438.4V1444.8" stroke="#c552b3" stroke-width="2.8" fill="none"/>
<path d="M210.3 1438.7H216.5M213.4 1435.5V1441.9" stroke="#c552b3" stroke-width="2.8" fill="none"/>
<path d="M223.7 1431.5H229.9M226.8 1428.3V1434.7" stroke="#c552b3" stroke-width="2.8" fill="none"/>
<path d="M237.1 1417.1H243.3M240.2 1413.9V1420.3" stroke="#c552b3" stroke-width="2.8" fill="none"/>
<path d="M250.5 1404.6H256.7M253.6 1401.4V1407.8" stroke="#c552b3" stroke-width="2.8" fill="none"/>
<path d="M263.8 1388.3H270M266.9 1385.1V1391.5" stroke="#c552b3" stroke-width="2.8" fill="none"/>
<path d="M277.2 1377.8H283.4M280.3 1374.6V1381" stroke="#c552b3" stroke-width="2.8" fill="none"/>
<path d="M290.6 1368.4H296.8M293.7 1365.2V1371.6" stroke="#c552b3" stroke-width="2.8" fill="none"/>
<path d="M304 1362.8H310.2M307.1 1359.6V1366" stroke="#c552b3" stroke-width="2.8" fill="none"/>
<path d="M317.4 1356.2H323.6M320.5 1353V1359.4" stroke="#c552b3" stroke-width="2.8" fill="none"/>
<path d="M330.8 1351.7H337M333.9 1348.5V1354.9" stroke="#c552b3" stroke-width="2.8" fill="none"/>
<path d="M344.1 1349.2H350.3M347.2 1346V1352.4" stroke="#c552b3" stroke-width="2.8" fill="none"/>
<path d="M357.5 1349.3H363.7M360.6 1346.1V1352.5" stroke="#c552b3" stroke-width="2.8" fill="none"/>
<path d="M370.9 1351.4H377.1M374 1348.2V1354.6" stroke="#c552b3" stroke-width="2.8" fill="none"/>
<path d="M384.3 1353.3H390.5M387.4 1350.1V1356.5" stroke="#c552b3" stroke-width="2.8" fill="none"/>
<path d="M397.7 1357.4H403.9M400.8 1354.2V1360.6" stroke="#c552b3" stroke-width="2.8" fill="none"/>
<path d="M411.1 1361.4H417.3M414.2 1358.2V1364.6" stroke="#c552b3" stroke-width="2.8" fill="none"/>
<path d="M424.4 1368.7H430.6M427.5 1365.5V1371.9" stroke="#c552b3" stroke-width="2.8" fill="none"/>
<path d="M437.8 1377.6H444M440.9 1374.4V1380.8" stroke="#c552b3" stroke-width="2.8" fill="none"/>
<path d="M451.2 1387.5H457.4M454.3 1384.3V1390.7" stroke="#c552b3" stroke-width="2.8" fill="none"/>
<path d="M464.6 1399.4H470.8M467.7 1396.2V1402.6" stroke="#c552b3" stroke-width="2.8" fill="none"/>
<path d="M478 1416H484.2M481.1 1412.8V1419.2" stroke="#c552b3" stroke-width="2.8" fill="none"/>
<path d="M491.4 1443.4H497.6M494.5 1440.2V1446.6" stroke="#c552b3" stroke-width="2.8" fill="none"/>
<path d="M504.8 1475.3H511M507.9 1472.1V1478.5" stroke="#c552b3" stroke-width="2.8" fill="none"/>
<path d="M518.1 1499H524.3M521.2 1495.8V1502.2" stroke="#c552b3" stroke-width="2.8" fill="none"/>
<path d="M531.5 1504.6H537.7M534.6 1501.4V1507.8" stroke="#c552b3" stroke-width="2.8" fill="none"/>
<path d="M544.9 1490.1H551.1M548 1486.9V1493.3" stroke="#c552b3" stroke-width="2.8" fill="none"/>
<path d="M558.3 1454.8H564.5M561.4 1451.6V1458" stroke="#c552b3" stroke-width="2.8" fill="none"/>
<path d="M571.7 1427.1H577.9M574.8 1423.9V1430.3" stroke="#c552b3" stroke-width="2.8" fill="none"/>
<path d="M585.1 1409.2H591.3M588.2 1406V1412.4" stroke="#c552b3" stroke-width="2.8" fill="none"/>
<path d="M598.4 1395.6H604.6M601.5 1392.4V1398.8" stroke="#c552b3" stroke-width="2.8" fill="none"/>
<path d="M611.8 1379.6H618M614.9 1376.4V1382.8" stroke="#c552b3" stroke-width="2.8" fill="none"/>
<path d="M625.2 1364.7H631.4M628.3 1361.5V1367.9" stroke="#c552b3" stroke-width="2.8" fill="none"/>
<path d="M638.6 1350.4H644.8M641.7 1347.2V1353.6" stroke="#c552b3" stroke-width="2.8" fill="none"/>
<path d="M652 1337.2H658.2M655.1 1334V1340.4" stroke="#c552b3" stroke-width="2.8" fill="none"/>
<path d="M665.4 1336.4H671.6M668.5 1333.2V1339.6" stroke="#c552b3" stroke-width="2.8" fill="none"/>
<path d="M678.7 1341.1H684.9M681.8 1337.9V1344.3" stroke="#c552b3" stroke-width="2.8" fill="none"/>
<path d="M692.1 1348.3H698.3M695.2 1345.1V1351.5" stroke="#c552b3" stroke-width="2.8" fill="none"/>
<path d="M705.5 1359.1H711.7M708.6 1355.9V1362.3" stroke="#c552b3" stroke-width="2.8" fill="none"/>
<path d="M718.9 1375.5H725.1M722 1372.3V1378.7" stroke="#c552b3" stroke-width="2.8" fill="none"/>
<path d="M732.3 1387.5H738.5M735.4 1384.3V1390.7" stroke="#c552b3" stroke-width="2.8" fill="none"/>
<path d="M745.7 1399.4H751.9M748.8 1396.2V1402.6" stroke="#c552b3" stroke-width="2.8" fill="none"/>
<path d="M759 1412.3H765.2M762.1 1409.1V1415.5" stroke="#c552b3" stroke-width="2.8" fill="none"/>
<path d="M772.4 1426.6H778.6M775.5 1423.4V1429.8" stroke="#c552b3" stroke-width="2.8" fill="none"/>
<path d="M785.8 1439.1H792M788.9 1435.9V1442.3" stroke="#c552b3" stroke-width="2.8" fill="none"/>
<path d="M799.2 1456.3H805.4M802.3 1453.1V1459.5" stroke="#c552b3" stroke-width="2.8" fill="none"/>
<path d="M812.6 1481.6H818.8M815.7 1478.4V1484.8" stroke="#c552b3" stroke-width="2.8" fill="none"/>
<path d="M826 1504.3H832.2M829.1 1501.1V1507.5" stroke="#c552b3" stroke-width="2.8" fill="none"/>
<path d="M839.4 1518.2H845.6M842.5 1515V1521.4" stroke="#c552b3" stroke-width="2.8" fill="none"/>
<path d="M852.7 1507.6H858.9M855.8 1504.4V1510.8" stroke="#c552b3" stroke-width="2.8" fill="none"/>
<path d="M866.1 1484H872.3M869.2 1480.8V1487.2" stroke="#c552b3" stroke-width="2.8" fill="none"/>
<path d="M879.5 1457.3H885.7M882.6 1454.1V1460.5" stroke="#c552b3" stroke-width="2.8" fill="none"/>
<path d="M892.9 1433.9H899.1M896 1430.7V1437.1" stroke="#c552b3" stroke-width="2.8" fill="none"/>
<path d="M906.3 1417.7H912.5M909.4 1414.5V1420.9" stroke="#c552b3" stroke-width="2.8" fill="none"/>
<path d="M919.7 1405.5H925.9M922.8 1402.3V1408.7" stroke="#c552b3" stroke-width="2.8" fill="none"/>
<path d="M933 1396.8H939.2M936.1 1393.6V1400" stroke="#c552b3" stroke-width="2.8" fill="none"/>
<path d="M946.4 1392.3H952.6M949.5 1389.1V1395.5" stroke="#c552b3" stroke-width="2.8" fill="none"/>
<path d="M959.8 1389.9H966M962.9 1386.7V1393.1" stroke="#c552b3" stroke-width="2.8" fill="none"/>
<path d="M973.2 1389.9H979.4M976.3 1386.7V1393.1" stroke="#c552b3" stroke-width="2.8" fill="none"/>
<path clip-path="url(#clipc)" d="M123.4 1449.1L143.1 1441.7L163.2 1434.7L183.3 1426.6L203.4 1418.6L223.5 1410.6L243.6 1403.5L263.7 1394.5L283.8 1386.4L303.9 1378.4L315.1 1374.4L335.2 1364.3L355.3 1356.3L375.4 1347.2L395.5 1337.2L415.6 1328.1L435.7 1321.1L455.8 1316.1L475.9 1314.5L490 1315.5L504.1 1320.1L524.2 1330.2L544.3 1343.2L564.4 1357.3L584.5 1373.4L594.5 1381.4L604.6 1390.5L614.6 1398.5L624.7 1407.5L634.7 1417.6L644.8 1427.6L654.8 1438.7L664.9 1448.7L674.9 1460.8L686 1476.9L697.1 1496L707.2 1521L717.2 1559.3L726.9 1629.6L736.3 1556.3L746.4 1447.7L757.4 1358.3L767.5 1399.5L777.5 1446.7L787.6 1478.9L797.6 1509L807.7 1538.2L817.7 1570.4L827.8 1610.6L837.8 1674.9L847.8 1900L857.9 1693.5L867.7 1630.5L878.2 1595.5L888.3 1571L898.5 1552L908.6 1535.9L918.6 1524.2L928.4 1513.7L938.5 1504.4L948.3 1496.2L958.3 1489.2L968.1 1482.2L978.7 1476.4" fill="none" stroke="#161616" stroke-width="3.1" stroke-dasharray="11 10.6"/>
<path d="M126.9 1443.6L126.9 1454.6L118.3 1449.1Z" fill="#161616"/>
<path d="M137 1439.8L137 1450.8L128.4 1445.3Z" fill="#161616"/>
<path d="M147 1436L147 1447L138.4 1441.5Z" fill="#161616"/>
<path d="M157.1 1432.5L157.1 1443.5L148.5 1438Z" fill="#161616"/>
<path d="M167.2 1429L167.2 1440L158.6 1434.5Z" fill="#161616"/>
<path d="M177.2 1424.9L177.2 1435.9L168.6 1430.4Z" fill="#161616"/>
<path d="M187.3 1420.9L187.3 1431.9L178.7 1426.4Z" fill="#161616"/>
<path d="M197.4 1416.8L197.4 1427.8L188.8 1422.3Z" fill="#161616"/>
<path d="M207.5 1412.8L207.5 1423.8L198.9 1418.3Z" fill="#161616"/>
<path d="M217.5 1408.8L217.5 1419.8L208.9 1414.3Z" fill="#161616"/>
<path d="M227.6 1404.9L227.6 1415.9L219 1410.4Z" fill="#161616"/>
<path d="M237.7 1401.3L237.7 1412.3L229.1 1406.8Z" fill="#161616"/>
<path d="M247.7 1397.7L247.7 1408.7L239.1 1403.2Z" fill="#161616"/>
<path d="M257.8 1393.2L257.8 1404.2L249.2 1398.7Z" fill="#161616"/>
<path d="M267.9 1388.7L267.9 1399.7L259.3 1394.2Z" fill="#161616"/>
<path d="M277.9 1384.6L277.9 1395.6L269.3 1390.1Z" fill="#161616"/>
<path d="M288 1380.6L288 1391.6L279.4 1386.1Z" fill="#161616"/>
<path d="M298.1 1376.6L298.1 1387.6L289.5 1382.1Z" fill="#161616"/>
<path d="M308.2 1372.6L308.2 1383.6L299.6 1378.1Z" fill="#161616"/>
<path d="M318.2 1369L318.2 1380L309.6 1374.5Z" fill="#161616"/>
<path d="M328.3 1364L328.3 1375L319.7 1369.5Z" fill="#161616"/>
<path d="M338.4 1358.9L338.4 1369.9L329.8 1364.4Z" fill="#161616"/>
<path d="M348.4 1354.9L348.4 1365.9L339.8 1360.4Z" fill="#161616"/>
<path d="M358.5 1350.9L358.5 1361.9L349.9 1356.4Z" fill="#161616"/>
<path d="M368.6 1346.3L368.6 1357.3L360 1351.8Z" fill="#161616"/>
<path d="M378.6 1341.8L378.6 1352.8L370 1347.3Z" fill="#161616"/>
<path d="M388.7 1336.8L388.7 1347.8L380.1 1342.3Z" fill="#161616"/>
<path d="M398.8 1331.8L398.8 1342.8L390.2 1337.3Z" fill="#161616"/>
<path d="M408.8 1327.2L408.8 1338.2L400.2 1332.7Z" fill="#161616"/>
<path d="M418.9 1322.6L418.9 1333.6L410.3 1328.1Z" fill="#161616"/>
<path d="M429 1319.1L429 1330.1L420.4 1324.6Z" fill="#161616"/>
<path d="M439.1 1315.6L439.1 1326.6L430.5 1321.1Z" fill="#161616"/>
<path d="M449.1 1313.1L449.1 1324.1L440.5 1318.6Z" fill="#161616"/>
<path d="M459.2 1310.6L459.2 1321.6L450.6 1316.1Z" fill="#161616"/>
<path d="M469.3 1309.8L469.3 1320.8L460.7 1315.3Z" fill="#161616"/>
<path d="M479.3 1309L479.3 1320L470.7 1314.5Z" fill="#161616"/>
<path d="M489.4 1309.7L489.4 1320.7L480.8 1315.2Z" fill="#161616"/>
<path d="M499.5 1312L499.5 1323L490.9 1317.5Z" fill="#161616"/>
<path d="M509.5 1315.6L509.5 1326.6L500.9 1321.1Z" fill="#161616"/>
<path d="M519.6 1320.7L519.6 1331.7L511 1326.2Z" fill="#161616"/>
<path d="M529.7 1326L529.7 1337L521.1 1331.5Z" fill="#161616"/>
<path d="M539.7 1332.6L539.7 1343.6L531.1 1338.1Z" fill="#161616"/>
<path d="M549.8 1339.2L549.8 1350.2L541.2 1344.7Z" fill="#161616"/>
<path d="M559.9 1346.3L559.9 1357.3L551.3 1351.8Z" fill="#161616"/>
<path d="M570 1353.5L570 1364.5L561.4 1359Z" fill="#161616"/>
<path d="M580 1361.6L580 1372.6L571.4 1367.1Z" fill="#161616"/>
<path d="M590.1 1369.7L590.1 1380.7L581.5 1375.2Z" fill="#161616"/>
<path d="M600.2 1377.9L600.2 1388.9L591.6 1383.4Z" fill="#161616"/>
<path d="M610.2 1386.8L610.2 1397.8L601.6 1392.3Z" fill="#161616"/>
<path d="M620.3 1395.1L620.3 1406.1L611.7 1400.6Z" fill="#161616"/>
<path d="M630.4 1404.3L630.4 1415.3L621.8 1409.8Z" fill="#161616"/>
<path d="M640.4 1414.4L640.4 1425.4L631.8 1419.9Z" fill="#161616"/>
<path d="M650.5 1424.7L650.5 1435.7L641.9 1430.2Z" fill="#161616"/>
<path d="M660.6 1435.6L660.6 1446.6L652 1441.1Z" fill="#161616"/>
<path d="M670.7 1446L670.7 1457L662.1 1451.5Z" fill="#161616"/>
<path d="M680.7 1458.8L680.7 1469.8L672.1 1464.3Z" fill="#161616"/>
<path d="M690.8 1473.8L690.8 1484.8L682.2 1479.3Z" fill="#161616"/>
<path d="M700.9 1491.4L700.9 1502.4L692.3 1496.9Z" fill="#161616"/>
<path d="M710.9 1516.8L710.9 1527.8L702.3 1522.3Z" fill="#161616"/>
<path d="M721 1556.7L721 1567.7L712.4 1562.2Z" fill="#161616"/>
<path d="M731.1 1618.1L731.1 1629.1L722.5 1623.6Z" fill="#161616"/>
<path d="M741.1 1535.3L741.1 1546.3L732.5 1540.8Z" fill="#161616"/>
<path d="M751.2 1430.7L751.2 1441.7L742.6 1436.2Z" fill="#161616"/>
<path d="M761.3 1354.8L761.3 1365.8L752.7 1360.3Z" fill="#161616"/>
<path d="M771.3 1396.1L771.3 1407.1L762.7 1401.6Z" fill="#161616"/>
<path d="M781.4 1442.8L781.4 1453.8L772.8 1448.3Z" fill="#161616"/>
<path d="M791.5 1474.9L791.5 1485.9L782.9 1480.4Z" fill="#161616"/>
<path d="M801.6 1505.1L801.6 1516.1L793 1510.6Z" fill="#161616"/>
<path d="M811.6 1534.4L811.6 1545.4L803 1539.9Z" fill="#161616"/>
<path d="M821.7 1567.3L821.7 1578.3L813.1 1572.8Z" fill="#161616"/>
<path d="M831.8 1608.7L831.8 1619.7L823.2 1614.2Z" fill="#161616"/>
<path d="M841.8 1683.7L841.8 1694.7L833.2 1689.2Z" fill="#161616"/>
<path d="M862 1683.7L862 1694.7L853.4 1689.2Z" fill="#161616"/>
<path d="M872 1621.9L872 1632.9L863.4 1627.4Z" fill="#161616"/>
<path d="M882.1 1588.8L882.1 1599.8L873.5 1594.3Z" fill="#161616"/>
<path d="M892.2 1564.6L892.2 1575.6L883.6 1570.1Z" fill="#161616"/>
<path d="M902.3 1545.9L902.3 1556.9L893.7 1551.4Z" fill="#161616"/>
<path d="M912.3 1530L912.3 1541L903.7 1535.5Z" fill="#161616"/>
<path d="M922.4 1518.3L922.4 1529.3L913.8 1523.8Z" fill="#161616"/>
<path d="M932.5 1507.6L932.5 1518.6L923.9 1513.1Z" fill="#161616"/>
<path d="M942.5 1498.4L942.5 1509.4L933.9 1503.9Z" fill="#161616"/>
<path d="M952.6 1490.1L952.6 1501.1L944 1495.6Z" fill="#161616"/>
<path d="M962.7 1483L962.7 1494L954.1 1488.5Z" fill="#161616"/>
<path d="M972.7 1476L972.7 1487L964.1 1481.5Z" fill="#161616"/>
<path d="M982.8 1470.9L982.8 1481.9L974.2 1476.4Z" fill="#161616"/>
<path clip-path="url(#clipc)" d="M123.4 1502L133.1 1510.1L146.2 1514.1L159.2 1518.5L173.3 1516.1L186.4 1504L200.4 1487.9L213.5 1469.8L226.6 1452.8L239.6 1434.7L253.7 1418.6L266.8 1403.5L279.8 1390.5L293.9 1377.4L307 1366.5L320.1 1360.3L333.6 1353.3L347.2 1346.2L360.3 1340.2L373.4 1336.2L387.4 1332.2L400.5 1330.2L414 1328.1L427 1327.1L440.7 1327.1L454.2 1327.7L467.8 1328.5L480.9 1329.7L494.6 1331.2L508.1 1332.2L521.2 1336.2L534.2 1339.5L548.3 1343.2L561.4 1349.2L574.4 1354.3L588.5 1360.3L601.6 1369.3L614.6 1378.4L628.7 1387.4L641.8 1397.5L655.8 1411L668.9 1428.6L682 1450.3L695.1 1471.9L708.8 1493L721.9 1513.6L735.3 1535.7L749 1495L762.5 1431.7L775.5 1361.3L788.6 1406.5L802.7 1462.8L815.7 1514.6L828.8 1559.3L842.5 1616.5L855.3 1656.6L869.3 1701.8L882.9 1625.9L896.2 1578L909.3 1545.3L922.6 1520.7L935.9 1502.1L949.5 1486.9L962.8 1474.7L976.3 1467L986.8 1461.2" fill="none" stroke="#06a54b" stroke-width="3.1" stroke-dasharray="11 10.6"/>
<path d="M133.1 1504.2L137.1 1510.1L133.1 1516L129.1 1510.1Z" fill="#06a54b"/>
<path d="M146.5 1508.3L150.5 1514.2L146.5 1520.1L142.5 1514.2Z" fill="#06a54b"/>
<path d="M159.9 1512.5L163.9 1518.4L159.9 1524.3L155.9 1518.4Z" fill="#06a54b"/>
<path d="M173.3 1510.2L177.3 1516.1L173.3 1522L169.3 1516.1Z" fill="#06a54b"/>
<path d="M186.6 1497.8L190.6 1503.7L186.6 1509.6L182.6 1503.7Z" fill="#06a54b"/>
<path d="M200 1482.4L204 1488.3L200 1494.2L196 1488.3Z" fill="#06a54b"/>
<path d="M213.4 1464L217.4 1469.9L213.4 1475.8L209.4 1469.9Z" fill="#06a54b"/>
<path d="M226.8 1446.6L230.8 1452.5L226.8 1458.4L222.8 1452.5Z" fill="#06a54b"/>
<path d="M240.2 1428.1L244.2 1434L240.2 1439.9L236.2 1434Z" fill="#06a54b"/>
<path d="M253.6 1412.9L257.6 1418.8L253.6 1424.7L249.6 1418.8Z" fill="#06a54b"/>
<path d="M266.9 1397.5L270.9 1403.4L266.9 1409.3L262.9 1403.4Z" fill="#06a54b"/>
<path d="M280.3 1384.1L284.3 1390L280.3 1395.9L276.3 1390Z" fill="#06a54b"/>
<path d="M293.7 1371.7L297.7 1377.6L293.7 1383.5L289.7 1377.6Z" fill="#06a54b"/>
<path d="M307.1 1360.6L311.1 1366.5L307.1 1372.4L303.1 1366.5Z" fill="#06a54b"/>
<path d="M320.5 1354.2L324.5 1360.1L320.5 1366L316.5 1360.1Z" fill="#06a54b"/>
<path d="M333.9 1347.3L337.9 1353.2L333.9 1359.1L329.9 1353.2Z" fill="#06a54b"/>
<path d="M347.2 1340.3L351.2 1346.2L347.2 1352.1L343.2 1346.2Z" fill="#06a54b"/>
<path d="M360.6 1334.2L364.6 1340.1L360.6 1346L356.6 1340.1Z" fill="#06a54b"/>
<path d="M374 1330.1L378 1336L374 1341.9L370 1336Z" fill="#06a54b"/>
<path d="M387.4 1326.3L391.4 1332.2L387.4 1338.1L383.4 1332.2Z" fill="#06a54b"/>
<path d="M400.8 1324.3L404.8 1330.2L400.8 1336.1L396.8 1330.2Z" fill="#06a54b"/>
<path d="M414.2 1322.2L418.2 1328.1L414.2 1334L410.2 1328.1Z" fill="#06a54b"/>
<path d="M427.5 1321.2L431.5 1327.1L427.5 1333L423.5 1327.1Z" fill="#06a54b"/>
<path d="M440.9 1321.2L444.9 1327.1L440.9 1333L436.9 1327.1Z" fill="#06a54b"/>
<path d="M454.3 1321.8L458.3 1327.7L454.3 1333.6L450.3 1327.7Z" fill="#06a54b"/>
<path d="M467.7 1322.6L471.7 1328.5L467.7 1334.4L463.7 1328.5Z" fill="#06a54b"/>
<path d="M481.1 1323.8L485.1 1329.7L481.1 1335.6L477.1 1329.7Z" fill="#06a54b"/>
<path d="M494.5 1325.3L498.5 1331.2L494.5 1337.1L490.5 1331.2Z" fill="#06a54b"/>
<path d="M507.9 1326.3L511.9 1332.2L507.9 1338.1L503.9 1332.2Z" fill="#06a54b"/>
<path d="M521.2 1330.3L525.2 1336.2L521.2 1342.1L517.2 1336.2Z" fill="#06a54b"/>
<path d="M534.6 1333.7L538.6 1339.6L534.6 1345.5L530.6 1339.6Z" fill="#06a54b"/>
<path d="M548 1337.2L552 1343.1L548 1349L544 1343.1Z" fill="#06a54b"/>
<path d="M561.4 1343.3L565.4 1349.2L561.4 1355.1L557.4 1349.2Z" fill="#06a54b"/>
<path d="M574.8 1348.6L578.8 1354.5L574.8 1360.4L570.8 1354.5Z" fill="#06a54b"/>
<path d="M588.2 1354.3L592.2 1360.2L588.2 1366.1L584.2 1360.2Z" fill="#06a54b"/>
<path d="M601.5 1363.4L605.5 1369.3L601.5 1375.2L597.5 1369.3Z" fill="#06a54b"/>
<path d="M614.9 1372.7L618.9 1378.6L614.9 1384.5L610.9 1378.6Z" fill="#06a54b"/>
<path d="M628.3 1381.2L632.3 1387.1L628.3 1393L624.3 1387.1Z" fill="#06a54b"/>
<path d="M641.7 1391.5L645.7 1397.4L641.7 1403.3L637.7 1397.4Z" fill="#06a54b"/>
<path d="M655.1 1404.4L659.1 1410.3L655.1 1416.2L651.1 1410.3Z" fill="#06a54b"/>
<path d="M668.5 1422.1L672.5 1428L668.5 1433.9L664.5 1428Z" fill="#06a54b"/>
<path d="M681.8 1444.1L685.8 1450L681.8 1455.9L677.8 1450Z" fill="#06a54b"/>
<path d="M695.2 1466.2L699.2 1472.1L695.2 1478L691.2 1472.1Z" fill="#06a54b"/>
<path d="M708.6 1486.8L712.6 1492.7L708.6 1498.6L704.6 1492.7Z" fill="#06a54b"/>
<path d="M722 1507.9L726 1513.8L722 1519.7L718 1513.8Z" fill="#06a54b"/>
<path d="M735.4 1529.6L739.4 1535.5L735.4 1541.4L731.4 1535.5Z" fill="#06a54b"/>
<path d="M748.8 1489.8L752.8 1495.7L748.8 1501.6L744.8 1495.7Z" fill="#06a54b"/>
<path d="M762.1 1427.5L766.1 1433.4L762.1 1439.3L758.1 1433.4Z" fill="#06a54b"/>
<path d="M775.5 1355.5L779.5 1361.4L775.5 1367.3L771.5 1361.4Z" fill="#06a54b"/>
<path d="M788.9 1401.9L792.9 1407.8L788.9 1413.7L784.9 1407.8Z" fill="#06a54b"/>
<path d="M802.3 1455.3L806.3 1461.2L802.3 1467.1L798.3 1461.2Z" fill="#06a54b"/>
<path d="M815.7 1508.6L819.7 1514.5L815.7 1520.4L811.7 1514.5Z" fill="#06a54b"/>
<path d="M829.1 1554.5L833.1 1560.4L829.1 1566.3L825.1 1560.4Z" fill="#06a54b"/>
<path d="M842.5 1610.4L846.5 1616.3L842.5 1622.2L838.5 1616.3Z" fill="#06a54b"/>
<path d="M855.8 1652.4L859.8 1658.3L855.8 1664.2L851.8 1658.3Z" fill="#06a54b"/>
<path d="M869.2 1695.6L873.2 1701.5L869.2 1707.4L865.2 1701.5Z" fill="#06a54b"/>
<path d="M882.6 1621.7L886.6 1627.6L882.6 1633.5L878.6 1627.6Z" fill="#06a54b"/>
<path d="M896 1572.9L900 1578.8L896 1584.7L892 1578.8Z" fill="#06a54b"/>
<path d="M909.4 1539.3L913.4 1545.2L909.4 1551.1L905.4 1545.2Z" fill="#06a54b"/>
<path d="M922.8 1514.6L926.8 1520.5L922.8 1526.4L918.8 1520.5Z" fill="#06a54b"/>
<path d="M936.1 1495.9L940.1 1501.8L936.1 1507.7L932.1 1501.8Z" fill="#06a54b"/>
<path d="M949.5 1481L953.5 1486.9L949.5 1492.8L945.5 1486.9Z" fill="#06a54b"/>
<path d="M962.9 1468.7L966.9 1474.6L962.9 1480.5L958.9 1474.6Z" fill="#06a54b"/>
<path d="M976.3 1461.1L980.3 1467L976.3 1472.9L972.3 1467Z" fill="#06a54b"/>
<path clip-path="url(#clipc)" d="M123.4 1495L133.1 1505L146.2 1522.1L160.2 1542.2L173.3 1558.3L186.4 1558.3L200.4 1535.2L213.5 1507L226.6 1480.9L239.6 1456.8L253.7 1435.7L266.8 1419L279.8 1404.5L293.9 1391.5L307 1379.9L320.1 1368.3L333.6 1359.3L347.2 1353.3L360.3 1347.2L373.4 1342.2L387.4 1338.2L400.5 1335.2L414 1332.2L427 1330.6L440.7 1329.7L454.2 1329.7L467.8 1329.7L480.9 1330.2L494.6 1331.7L508.1 1333.2L521.2 1337.2L534.2 1341.2L548.3 1346.2L561.4 1352.3L574.4 1358.3L588.5 1367.3L601.6 1376.4L614.6 1386.4L628.7 1399.5L641.8 1415.6L655.8 1434.7L668.9 1455.3L682 1477.9L695.1 1501L708.5 1523.1L721.9 1539.2L735.3 1556.3L749.2 1516.6L762.5 1455.8L774.9 1395.5L789.6 1441.7L801.7 1491L814.7 1538.2L829.8 1592.5L842.5 1709L855.9 1733L869.5 1708L883.4 1616.5L896.2 1555.8L909.7 1517.2L923.3 1489.2L936.6 1474.7L950.2 1465.4L963.5 1458.8L977 1454.2L986.8 1452" fill="none" stroke="#0fabb8" stroke-width="3.1" stroke-dasharray="11 10.6"/>
<path d="M129.5 1499.4L129.5 1510.6L138.8 1505Z" fill="#0fabb8"/>
<path d="M142.9 1516.9L142.9 1528.1L152.2 1522.5Z" fill="#0fabb8"/>
<path d="M156.3 1536.1L156.3 1547.3L165.6 1541.7Z" fill="#0fabb8"/>
<path d="M169.7 1552.6L169.7 1563.8L179 1558.2Z" fill="#0fabb8"/>
<path d="M183 1552.3L183 1563.5L192.3 1557.9Z" fill="#0fabb8"/>
<path d="M196.4 1530.2L196.4 1541.4L205.7 1535.8Z" fill="#0fabb8"/>
<path d="M209.8 1501.6L209.8 1512.8L219.1 1507.2Z" fill="#0fabb8"/>
<path d="M223.2 1475L223.2 1486.2L232.5 1480.6Z" fill="#0fabb8"/>
<path d="M236.6 1450.3L236.6 1461.5L245.9 1455.9Z" fill="#0fabb8"/>
<path d="M250 1430.3L250 1441.5L259.3 1435.9Z" fill="#0fabb8"/>
<path d="M263.3 1413.2L263.3 1424.4L272.6 1418.8Z" fill="#0fabb8"/>
<path d="M276.7 1398.4L276.7 1409.6L286 1404Z" fill="#0fabb8"/>
<path d="M290.1 1386.1L290.1 1397.3L299.4 1391.7Z" fill="#0fabb8"/>
<path d="M303.5 1374.2L303.5 1385.4L312.8 1379.8Z" fill="#0fabb8"/>
<path d="M316.9 1362.4L316.9 1373.6L326.2 1368Z" fill="#0fabb8"/>
<path d="M330.3 1353.6L330.3 1364.8L339.6 1359.2Z" fill="#0fabb8"/>
<path d="M343.6 1347.7L343.6 1358.9L352.9 1353.3Z" fill="#0fabb8"/>
<path d="M357 1341.5L357 1352.7L366.3 1347.1Z" fill="#0fabb8"/>
<path d="M370.4 1336.4L370.4 1347.6L379.7 1342Z" fill="#0fabb8"/>
<path d="M383.8 1332.6L383.8 1343.8L393.1 1338.2Z" fill="#0fabb8"/>
<path d="M397.2 1329.5L397.2 1340.7L406.5 1335.1Z" fill="#0fabb8"/>
<path d="M410.6 1326.6L410.6 1337.8L419.9 1332.2Z" fill="#0fabb8"/>
<path d="M423.9 1325L423.9 1336.2L433.2 1330.6Z" fill="#0fabb8"/>
<path d="M437.3 1324.1L437.3 1335.3L446.6 1329.7Z" fill="#0fabb8"/>
<path d="M450.7 1324.1L450.7 1335.3L460 1329.7Z" fill="#0fabb8"/>
<path d="M464.1 1324.1L464.1 1335.3L473.4 1329.7Z" fill="#0fabb8"/>
<path d="M477.5 1324.6L477.5 1335.8L486.8 1330.2Z" fill="#0fabb8"/>
<path d="M490.9 1326.1L490.9 1337.3L500.2 1331.7Z" fill="#0fabb8"/>
<path d="M504.3 1327.6L504.3 1338.8L513.6 1333.2Z" fill="#0fabb8"/>
<path d="M517.6 1331.6L517.6 1342.8L526.9 1337.2Z" fill="#0fabb8"/>
<path d="M531 1335.7L531 1346.9L540.3 1341.3Z" fill="#0fabb8"/>
<path d="M544.4 1340.5L544.4 1351.7L553.7 1346.1Z" fill="#0fabb8"/>
<path d="M557.8 1346.7L557.8 1357.9L567.1 1352.3Z" fill="#0fabb8"/>
<path d="M571.2 1352.9L571.2 1364.1L580.5 1358.5Z" fill="#0fabb8"/>
<path d="M584.6 1361.5L584.6 1372.7L593.9 1367.1Z" fill="#0fabb8"/>
<path d="M597.9 1370.8L597.9 1382L607.2 1376.4Z" fill="#0fabb8"/>
<path d="M611.3 1381.1L611.3 1392.3L620.6 1386.7Z" fill="#0fabb8"/>
<path d="M624.7 1393.5L624.7 1404.7L634 1399.1Z" fill="#0fabb8"/>
<path d="M638.1 1409.9L638.1 1421.1L647.4 1415.5Z" fill="#0fabb8"/>
<path d="M651.5 1428.1L651.5 1439.3L660.8 1433.7Z" fill="#0fabb8"/>
<path d="M664.9 1449L664.9 1460.2L674.2 1454.6Z" fill="#0fabb8"/>
<path d="M678.2 1472L678.2 1483.2L687.5 1477.6Z" fill="#0fabb8"/>
<path d="M691.6 1495.6L691.6 1506.8L700.9 1501.2Z" fill="#0fabb8"/>
<path d="M705 1517.6L705 1528.8L714.3 1523.2Z" fill="#0fabb8"/>
<path d="M718.4 1533.7L718.4 1544.9L727.7 1539.3Z" fill="#0fabb8"/>
<path d="M731.8 1550.5L731.8 1561.7L741.1 1556.1Z" fill="#0fabb8"/>
<path d="M745.2 1512.2L745.2 1523.4L754.5 1517.8Z" fill="#0fabb8"/>
<path d="M758.5 1451.8L758.5 1463L767.8 1457.4Z" fill="#0fabb8"/>
<path d="M771.9 1391.9L771.9 1403.1L781.2 1397.5Z" fill="#0fabb8"/>
<path d="M785.3 1434L785.3 1445.2L794.6 1439.6Z" fill="#0fabb8"/>
<path d="M798.7 1487.6L798.7 1498.8L808 1493.2Z" fill="#0fabb8"/>
<path d="M812.1 1536.1L812.1 1547.3L821.4 1541.7Z" fill="#0fabb8"/>
<path d="M825.5 1584.3L825.5 1595.5L834.8 1589.9Z" fill="#0fabb8"/>
<path d="M838.9 1703L838.9 1714.2L848.2 1708.6Z" fill="#0fabb8"/>
<path d="M865.6 1702.9L865.6 1714.1L874.9 1708.5Z" fill="#0fabb8"/>
<path d="M879 1616.1L879 1627.3L888.3 1621.7Z" fill="#0fabb8"/>
<path d="M892.4 1551.2L892.4 1562.4L901.7 1556.8Z" fill="#0fabb8"/>
<path d="M905.8 1512.5L905.8 1523.7L915.1 1518.1Z" fill="#0fabb8"/>
<path d="M919.2 1484.7L919.2 1495.9L928.5 1490.3Z" fill="#0fabb8"/>
<path d="M932.5 1469.6L932.5 1480.8L941.8 1475.2Z" fill="#0fabb8"/>
<path d="M945.9 1460.3L945.9 1471.5L955.2 1465.9Z" fill="#0fabb8"/>
<path d="M959.3 1453.5L959.3 1464.7L968.6 1459.1Z" fill="#0fabb8"/>
<path d="M972.7 1448.8L972.7 1460L982 1454.4Z" fill="#0fabb8"/>
<path clip-path="url(#clipc)" d="M123.4 1450.8L133.1 1458.8L146.2 1471.9L159.2 1486.9L173.3 1511.1L186.4 1539.2L199.4 1565.3L212.9 1550.3L226.6 1508.5L239.6 1471.9L253.7 1442.7L266.8 1418.6L279.8 1398.5L293.9 1380.4L307 1366.3L320.1 1354.3L333.6 1345.2L347.2 1337.2L360.3 1330.2L373.4 1325.1L387.4 1321.1L400.5 1318.1L414 1316.1L427 1314.5L440.7 1313.7L454.2 1313.7L467.8 1314.5L480.9 1315.7L494.6 1317.1L508.1 1319.1L521.2 1322.1L534.2 1326.1L548.3 1332.2L561.4 1337.2L574.4 1344.2L588.5 1352.3L601.6 1361.3L614.6 1370.4L628.7 1381.4L641.8 1393.5L655.8 1408.5L668.9 1428L682 1449.3L695.1 1471.9L708.8 1493L721.9 1514.1L735.3 1532.7L749 1488.9L761.5 1444.7L774.9 1397.5L788.6 1432.7L801.7 1474.9L815.2 1528L828.8 1581.4L842.5 1628.4L855.9 1629.5L869.3 1669L882.4 1592L895.7 1519.6L909 1486.9L922.6 1469.4L935.9 1456.5L949.5 1448.3L962.8 1441.8L976.3 1439L986.8 1438.3" fill="none" stroke="#a8324c" stroke-width="3.1" stroke-dasharray="11 10.6"/>
<path d="M130.4 1455.7L135.8 1461.9M130.4 1461.9L135.8 1455.7M129.5 1458.8H136.7" stroke="#a8324c" stroke-width="2.4" fill="none"/>
<path d="M143.8 1469.1L149.2 1475.3M143.8 1475.3L149.2 1469.1M142.9 1472.2H150.1" stroke="#a8324c" stroke-width="2.4" fill="none"/>
<path d="M157.2 1484.9L162.6 1491.1M157.2 1491.1L162.6 1484.9M156.3 1488H163.5" stroke="#a8324c" stroke-width="2.4" fill="none"/>
<path d="M170.6 1507.9L176 1514.1M170.6 1514.1L176 1507.9M169.7 1511H176.9" stroke="#a8324c" stroke-width="2.4" fill="none"/>
<path d="M183.9 1536.6L189.3 1542.8M183.9 1542.8L189.3 1536.6M183 1539.7H190.2" stroke="#a8324c" stroke-width="2.4" fill="none"/>
<path d="M197.3 1561.5L202.7 1567.7M197.3 1567.7L202.7 1561.5M196.4 1564.6H203.6" stroke="#a8324c" stroke-width="2.4" fill="none"/>
<path d="M210.7 1545.7L216.1 1551.9M210.7 1551.9L216.1 1545.7M209.8 1548.8H217" stroke="#a8324c" stroke-width="2.4" fill="none"/>
<path d="M224.1 1504.9L229.5 1511.1M224.1 1511.1L229.5 1504.9M223.2 1508H230.4" stroke="#a8324c" stroke-width="2.4" fill="none"/>
<path d="M237.5 1467.6L242.9 1473.8M237.5 1473.8L242.9 1467.6M236.6 1470.7H243.8" stroke="#a8324c" stroke-width="2.4" fill="none"/>
<path d="M250.9 1439.9L256.3 1446.1M250.9 1446.1L256.3 1439.9M250 1443H257.2" stroke="#a8324c" stroke-width="2.4" fill="none"/>
<path d="M264.2 1415.3L269.6 1421.5M264.2 1421.5L269.6 1415.3M263.3 1418.4H270.5" stroke="#a8324c" stroke-width="2.4" fill="none"/>
<path d="M277.6 1394.7L283 1400.9M277.6 1400.9L283 1394.7M276.7 1397.8H283.9" stroke="#a8324c" stroke-width="2.4" fill="none"/>
<path d="M291 1377.5L296.4 1383.7M291 1383.7L296.4 1377.5M290.1 1380.6H297.3" stroke="#a8324c" stroke-width="2.4" fill="none"/>
<path d="M304.4 1363.1L309.8 1369.3M304.4 1369.3L309.8 1363.1M303.5 1366.2H310.7" stroke="#a8324c" stroke-width="2.4" fill="none"/>
<path d="M317.8 1350.9L323.2 1357.1M317.8 1357.1L323.2 1350.9M316.9 1354H324.1" stroke="#a8324c" stroke-width="2.4" fill="none"/>
<path d="M331.2 1341.9L336.6 1348.1M331.2 1348.1L336.6 1341.9M330.3 1345H337.5" stroke="#a8324c" stroke-width="2.4" fill="none"/>
<path d="M344.5 1334.1L349.9 1340.3M344.5 1340.3L349.9 1334.1M343.6 1337.2H350.8" stroke="#a8324c" stroke-width="2.4" fill="none"/>
<path d="M357.9 1327L363.3 1333.2M357.9 1333.2L363.3 1327M357 1330.1H364.2" stroke="#a8324c" stroke-width="2.4" fill="none"/>
<path d="M371.3 1321.8L376.7 1328M371.3 1328L376.7 1321.8M370.4 1324.9H377.6" stroke="#a8324c" stroke-width="2.4" fill="none"/>
<path d="M384.7 1318L390.1 1324.2M384.7 1324.2L390.1 1318M383.8 1321.1H391" stroke="#a8324c" stroke-width="2.4" fill="none"/>
<path d="M398.1 1315L403.5 1321.2M398.1 1321.2L403.5 1315M397.2 1318.1H404.4" stroke="#a8324c" stroke-width="2.4" fill="none"/>
<path d="M411.5 1313L416.9 1319.2M411.5 1319.2L416.9 1313M410.6 1316.1H417.8" stroke="#a8324c" stroke-width="2.4" fill="none"/>
<path d="M424.8 1311.4L430.2 1317.6M424.8 1317.6L430.2 1311.4M423.9 1314.5H431.1" stroke="#a8324c" stroke-width="2.4" fill="none"/>
<path d="M438.2 1310.6L443.6 1316.8M438.2 1316.8L443.6 1310.6M437.3 1313.7H444.5" stroke="#a8324c" stroke-width="2.4" fill="none"/>
<path d="M451.6 1310.6L457 1316.8M451.6 1316.8L457 1310.6M450.7 1313.7H457.9" stroke="#a8324c" stroke-width="2.4" fill="none"/>
<path d="M465 1311.4L470.4 1317.6M465 1317.6L470.4 1311.4M464.1 1314.5H471.3" stroke="#a8324c" stroke-width="2.4" fill="none"/>
<path d="M478.4 1312.6L483.8 1318.8M478.4 1318.8L483.8 1312.6M477.5 1315.7H484.7" stroke="#a8324c" stroke-width="2.4" fill="none"/>
<path d="M491.8 1314L497.2 1320.2M491.8 1320.2L497.2 1314M490.9 1317.1H498.1" stroke="#a8324c" stroke-width="2.4" fill="none"/>
<path d="M505.2 1316L510.6 1322.2M505.2 1322.2L510.6 1316M504.3 1319.1H511.5" stroke="#a8324c" stroke-width="2.4" fill="none"/>
<path d="M518.5 1319L523.9 1325.2M518.5 1325.2L523.9 1319M517.6 1322.1H524.8" stroke="#a8324c" stroke-width="2.4" fill="none"/>
<path d="M531.9 1323.2L537.3 1329.4M531.9 1329.4L537.3 1323.2M531 1326.3H538.2" stroke="#a8324c" stroke-width="2.4" fill="none"/>
<path d="M545.3 1329L550.7 1335.2M545.3 1335.2L550.7 1329M544.4 1332.1H551.6" stroke="#a8324c" stroke-width="2.4" fill="none"/>
<path d="M558.7 1334.1L564.1 1340.3M558.7 1340.3L564.1 1334.1M557.8 1337.2H565" stroke="#a8324c" stroke-width="2.4" fill="none"/>
<path d="M572.1 1341.3L577.5 1347.5M572.1 1347.5L577.5 1341.3M571.2 1344.4H578.4" stroke="#a8324c" stroke-width="2.4" fill="none"/>
<path d="M585.5 1349L590.9 1355.2M585.5 1355.2L590.9 1349M584.6 1352.1H591.8" stroke="#a8324c" stroke-width="2.4" fill="none"/>
<path d="M598.8 1358.2L604.2 1364.4M598.8 1364.4L604.2 1358.2M597.9 1361.3H605.1" stroke="#a8324c" stroke-width="2.4" fill="none"/>
<path d="M612.2 1367.6L617.6 1373.8M612.2 1373.8L617.6 1367.6M611.3 1370.7H618.5" stroke="#a8324c" stroke-width="2.4" fill="none"/>
<path d="M625.6 1378L631 1384.2M625.6 1384.2L631 1378M624.7 1381.1H631.9" stroke="#a8324c" stroke-width="2.4" fill="none"/>
<path d="M639 1390.3L644.4 1396.5M639 1396.5L644.4 1390.3M638.1 1393.4H645.3" stroke="#a8324c" stroke-width="2.4" fill="none"/>
<path d="M652.4 1404.6L657.8 1410.8M652.4 1410.8L657.8 1404.6M651.5 1407.7H658.7" stroke="#a8324c" stroke-width="2.4" fill="none"/>
<path d="M665.8 1424.2L671.2 1430.4M665.8 1430.4L671.2 1424.2M664.9 1427.3H672.1" stroke="#a8324c" stroke-width="2.4" fill="none"/>
<path d="M679.1 1445.9L684.5 1452.1M679.1 1452.1L684.5 1445.9M678.2 1449H685.4" stroke="#a8324c" stroke-width="2.4" fill="none"/>
<path d="M692.5 1469L697.9 1475.2M692.5 1475.2L697.9 1469M691.6 1472.1H698.8" stroke="#a8324c" stroke-width="2.4" fill="none"/>
<path d="M705.9 1489.6L711.3 1495.8M705.9 1495.8L711.3 1489.6M705 1492.7H712.2" stroke="#a8324c" stroke-width="2.4" fill="none"/>
<path d="M719.3 1511.1L724.7 1517.3M719.3 1517.3L724.7 1511.1M718.4 1514.2H725.6" stroke="#a8324c" stroke-width="2.4" fill="none"/>
<path d="M732.7 1529.3L738.1 1535.5M732.7 1535.5L738.1 1529.3M731.8 1532.4H739" stroke="#a8324c" stroke-width="2.4" fill="none"/>
<path d="M746.1 1486.6L751.5 1492.8M746.1 1492.8L751.5 1486.6M745.2 1489.7H752.4" stroke="#a8324c" stroke-width="2.4" fill="none"/>
<path d="M759.4 1439.3L764.8 1445.5M759.4 1445.5L764.8 1439.3M758.5 1442.4H765.7" stroke="#a8324c" stroke-width="2.4" fill="none"/>
<path d="M772.8 1396L778.2 1402.2M772.8 1402.2L778.2 1396M771.9 1399.1H779.1" stroke="#a8324c" stroke-width="2.4" fill="none"/>
<path d="M786.2 1430.6L791.6 1436.8M786.2 1436.8L791.6 1430.6M785.3 1433.7H792.5" stroke="#a8324c" stroke-width="2.4" fill="none"/>
<path d="M799.6 1474.2L805 1480.4M799.6 1480.4L805 1474.2M798.7 1477.3H805.9" stroke="#a8324c" stroke-width="2.4" fill="none"/>
<path d="M813 1526.8L818.4 1533M813 1533L818.4 1526.8M812.1 1529.9H819.3" stroke="#a8324c" stroke-width="2.4" fill="none"/>
<path d="M826.4 1579.2L831.8 1585.4M826.4 1585.4L831.8 1579.2M825.5 1582.3H832.7" stroke="#a8324c" stroke-width="2.4" fill="none"/>
<path d="M839.8 1625.1L845.2 1631.3M839.8 1631.3L845.2 1625.1M838.9 1628.2H846.1" stroke="#a8324c" stroke-width="2.4" fill="none"/>
<path d="M853.1 1626.4L858.5 1632.6M853.1 1632.6L858.5 1626.4M852.2 1629.5H859.4" stroke="#a8324c" stroke-width="2.4" fill="none"/>
<path d="M866.5 1665.7L871.9 1671.9M866.5 1671.9L871.9 1665.7M865.6 1668.8H872.8" stroke="#a8324c" stroke-width="2.4" fill="none"/>
<path d="M879.9 1587.8L885.3 1594M879.9 1594L885.3 1587.8M879 1590.9H886.2" stroke="#a8324c" stroke-width="2.4" fill="none"/>
<path d="M893.3 1515.8L898.7 1522M893.3 1522L898.7 1515.8M892.4 1518.9H899.6" stroke="#a8324c" stroke-width="2.4" fill="none"/>
<path d="M906.7 1483.3L912.1 1489.5M906.7 1489.5L912.1 1483.3M905.8 1486.4H913" stroke="#a8324c" stroke-width="2.4" fill="none"/>
<path d="M920.1 1466.1L925.5 1472.3M920.1 1472.3L925.5 1466.1M919.2 1469.2H926.4" stroke="#a8324c" stroke-width="2.4" fill="none"/>
<path d="M933.4 1453.3L938.8 1459.5M933.4 1459.5L938.8 1453.3M932.5 1456.4H939.7" stroke="#a8324c" stroke-width="2.4" fill="none"/>
<path d="M946.8 1445.2L952.2 1451.4M946.8 1451.4L952.2 1445.2M945.9 1448.3H953.1" stroke="#a8324c" stroke-width="2.4" fill="none"/>
<path d="M960.2 1438.7L965.6 1444.9M960.2 1444.9L965.6 1438.7M959.3 1441.8H966.5" stroke="#a8324c" stroke-width="2.4" fill="none"/>
<path d="M973.6 1435.9L979 1442.1M973.6 1442.1L979 1435.9M972.7 1439H979.9" stroke="#a8324c" stroke-width="2.4" fill="none"/>
<text transform="translate(114.2,1326.5) scale(0.94,1)" font-size="45.5" fill="#4b4b4b" text-anchor="end" stroke="#4b4b4b" stroke-width="0.2">0</text>
<text transform="translate(112.7,1430.2) scale(0.94,1)" font-size="45.5" fill="#4b4b4b" text-anchor="end" stroke="#4b4b4b" stroke-width="0.2" letter-spacing="-1.6">-10</text>
<text transform="translate(112.7,1533.9) scale(0.94,1)" font-size="45.5" fill="#4b4b4b" text-anchor="end" stroke="#4b4b4b" stroke-width="0.2" letter-spacing="-1.6">-20</text>
<text transform="translate(112.7,1637.6) scale(0.94,1)" font-size="45.5" fill="#4b4b4b" text-anchor="end" stroke="#4b4b4b" stroke-width="0.2" letter-spacing="-1.6">-30</text>
<text transform="translate(112.7,1741.4) scale(0.94,1)" font-size="45.5" fill="#4b4b4b" text-anchor="end" stroke="#4b4b4b" stroke-width="0.2" letter-spacing="-1.6">-40</text>
<text transform="translate(122.7,1775.2) scale(0.955,1)" font-size="45.5" fill="#4b4b4b" text-anchor="middle" stroke="#4b4b4b" stroke-width="0.2">1</text>
<text transform="translate(265.3,1775.2) scale(0.955,1)" font-size="45.5" fill="#4b4b4b" text-anchor="middle" stroke="#4b4b4b" stroke-width="0.2" letter-spacing="-2.6">1.5</text>
<text transform="translate(410.4,1775.2) scale(0.955,1)" font-size="45.5" fill="#4b4b4b" text-anchor="middle" stroke="#4b4b4b" stroke-width="0.2">2</text>
<text transform="translate(553,1775.2) scale(0.955,1)" font-size="45.5" fill="#4b4b4b" text-anchor="middle" stroke="#4b4b4b" stroke-width="0.2" letter-spacing="-2.6">2.5</text>
<text transform="translate(698.1,1775.2) scale(0.955,1)" font-size="45.5" fill="#4b4b4b" text-anchor="middle" stroke="#4b4b4b" stroke-width="0.2">3</text>
<text transform="translate(840.7,1775.2) scale(0.955,1)" font-size="45.5" fill="#4b4b4b" text-anchor="middle" stroke="#4b4b4b" stroke-width="0.2" letter-spacing="-2.6">3.5</text>
<text transform="translate(985.8,1775.2) scale(0.955,1)" font-size="45.5" fill="#4b4b4b" text-anchor="middle" stroke="#4b4b4b" stroke-width="0.2">4</text>
<text transform="translate(555.1,1818.7) scale(0.928,1)" font-size="44.5" fill="#1c1c1c" text-anchor="middle" stroke="#1c1c1c" stroke-width="0.2">Frequency (GHz)</text>
<text transform="translate(497.1,1878) scale(1.0,1)" font-size="37" fill="#1c1c1c" text-anchor="middle" stroke="#1c1c1c" stroke-width="0.2">(c)</text>
<text transform="translate(30.7,1517.5) rotate(-90) scale(0.95,0.86)" font-size="47" fill="#1c1c1c" stroke="#1c1c1c" stroke-width="0.25"><tspan x="-87.5" dy="-7.8" font-size="35.7" stroke-width="1.1">|</tspan><tspan x="-83.1" dy="7.8">S</tspan><tspan x="-54.9" dy="24" font-size="38">21</tspan><tspan x="-13.6" dy="-31.8" font-size="35.7" stroke-width="1.1">|</tspan><tspan x="-7.8" dy="7.8"> (dB)</tspan></text>
<rect x="218.5" y="1524.3" width="180.6" height="198.7" fill="#fff" stroke="#4a4a4a" stroke-width="1.1"/>
<path d="M221 1549.8H231.1" stroke="#2a2d9c" stroke-width="3.1" fill="none"/>
<path d="M225.8 1553.8L236.4 1553.8L231.1 1543.6Z" fill="#2a2d9c"/>
<text transform="translate(242.3,1565.4) scale(0.912,1)" font-size="43.8" fill="#151515" text-anchor="start" stroke="#151515" stroke-width="0.2">TE-0°S</text>
<path d="M221 1599.2H231.1" stroke="#dc86aa" stroke-width="3.1" fill="none"/>
<circle cx="231.1" cy="1599.2" r="3.4" fill="#dc86aa"/>
<text transform="translate(242.3,1614.8) scale(0.912,1)" font-size="43.8" fill="#151515" text-anchor="start" stroke="#151515" stroke-width="0.2">TE-0°M</text>
<path d="M221 1648.5H231.1" stroke="#f04e22" stroke-width="3.1" fill="none"/>
<circle cx="231.1" cy="1648.5" r="4.1" fill="#f04e22"/>
<text transform="translate(242.3,1664.1) scale(0.912,1)" font-size="43.8" fill="#151515" text-anchor="start" stroke="#151515" stroke-width="0.2">TE-30°M</text>
<path d="M221 1697.6H231.1" stroke="#c552b3" stroke-width="3.1" fill="none"/>
<path d="M228 1697.6H234.2M231.1 1694.4V1700.8" stroke="#c552b3" stroke-width="2.8" fill="none"/>
<text transform="translate(242.3,1713.2) scale(0.912,1)" font-size="43.8" fill="#151515" text-anchor="start" stroke="#151515" stroke-width="0.2">TE-45°M</text>
<rect x="469.2" y="1522.4" width="192.6" height="198.6" fill="#fff" stroke="#4a4a4a" stroke-width="1.1"/>
<path d="M471.7 1548.2H481.8" stroke="#161616" stroke-width="3.1" fill="none"/>
<path d="M485.2 1542.7L485.2 1553.7L476.6 1548.2Z" fill="#161616"/>
<text transform="translate(493.5,1563.8) scale(0.912,1)" font-size="43.8" fill="#151515" text-anchor="start" stroke="#151515" stroke-width="0.2">TM-0°S</text>
<path d="M471.7 1597.2H481.8" stroke="#06a54b" stroke-width="3.1" fill="none"/>
<path d="M481.8 1591.3L485.8 1597.2L481.8 1603.1L477.8 1597.2Z" fill="#06a54b"/>
<text transform="translate(493.5,1612.8) scale(0.912,1)" font-size="43.8" fill="#151515" text-anchor="start" stroke="#151515" stroke-width="0.2">TM-0°M</text>
<path d="M471.7 1646.2H481.8" stroke="#0fabb8" stroke-width="3.1" fill="none"/>
<path d="M478.2 1640.6L478.2 1651.8L487.5 1646.2Z" fill="#0fabb8"/>
<text transform="translate(493.5,1661.8) scale(0.912,1)" font-size="43.8" fill="#151515" text-anchor="start" stroke="#151515" stroke-width="0.2">TM-30°M</text>
<path d="M471.7 1695.2H481.8" stroke="#a8324c" stroke-width="3.1" fill="none"/>
<path d="M479.1 1692.1L484.5 1698.3M479.1 1698.3L484.5 1692.1M478.2 1695.2H485.4" stroke="#a8324c" stroke-width="2.4" fill="none"/>
<text transform="translate(493.5,1710.8) scale(0.912,1)" font-size="43.8" fill="#151515" text-anchor="start" stroke="#151515" stroke-width="0.2">TM-45°M</text>
</g>
</svg></body></html>
